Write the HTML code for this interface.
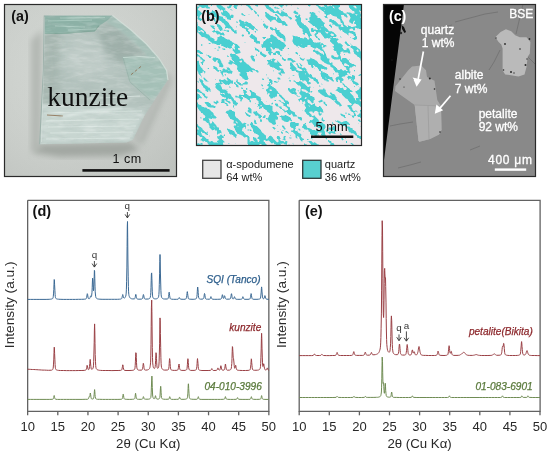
<!DOCTYPE html>
<html><head><meta charset="utf-8"><style>
html,body{margin:0;padding:0;background:#fff;}
body{width:550px;height:452px;overflow:hidden;position:relative;}
svg{position:absolute;left:0;top:0;}
text{font-family:"Liberation Sans",Arial,sans-serif;}
.serif{font-family:"Liberation Serif","Times New Roman",serif;}
</style></head><body>
<svg width="550" height="452" viewBox="0 0 550 452">
<defs>
<linearGradient id="abg" x1="0" y1="0" x2="1" y2="1">
<stop offset="0" stop-color="#d2d6d2"/><stop offset="0.5" stop-color="#d0d4d0"/><stop offset="1" stop-color="#c6cac6"/>
</linearGradient>
<linearGradient id="cry" x1="0" y1="0" x2="0" y2="1">
<stop offset="0" stop-color="#a9bdb6"/><stop offset="0.4" stop-color="#b2c3bd"/><stop offset="0.7" stop-color="#bccdc7"/><stop offset="1" stop-color="#c3d4ce"/>
</linearGradient>
<filter id="bl1" x="-20%" y="-20%" width="140%" height="140%"><feGaussianBlur stdDeviation="1"/></filter>
<filter id="bl2" x="-20%" y="-20%" width="140%" height="140%"><feGaussianBlur stdDeviation="2"/></filter>
<filter id="bl3" x="-20%" y="-20%" width="140%" height="140%"><feGaussianBlur stdDeviation="3"/></filter>
<filter id="bl4" x="-20%" y="-20%" width="140%" height="140%"><feGaussianBlur stdDeviation="6"/></filter>
<radialGradient id="abg2" cx="0.45" cy="0.4" r="0.75">
<stop offset="0" stop-color="#d4d8d4" stop-opacity="0"/><stop offset="1" stop-color="#b9bdb9" stop-opacity="0.6"/>
</radialGradient>
<filter id="noiseA" x="0" y="0" width="100%" height="100%">
<feTurbulence type="fractalNoise" baseFrequency="0.06 0.25" numOctaves="3" seed="5" result="n"/>
<feColorMatrix in="n" type="matrix" values="0 0 0 0 1  0 0 0 0 1  0 0 0 0 1  0 0 0 -2.2 1.25" result="w"/>
<feComposite in="w" in2="SourceGraphic" operator="in"/>
</filter>
<filter id="noiseB" x="0" y="0" width="100%" height="100%">
<feTurbulence type="fractalNoise" baseFrequency="0.05 0.2" numOctaves="3" seed="9" result="n"/>
<feColorMatrix in="n" type="matrix" values="0 0 0 0 0.35  0 0 0 0 0.45  0 0 0 0 0.42  0 0 0 -2.4 1.3" result="w"/>
<feComposite in="w" in2="SourceGraphic" operator="in"/>
</filter>
<clipPath id="cryclip"><polygon points="44.2,15.6 112.4,15.4 131,30 146.4,44 158.8,58 166.6,70.4 168,80 163.8,86 144.3,116 132.8,140 126.6,142.6 39.6,144.2 43.3,70"/></clipPath>
<clipPath id="ca"><rect x="4" y="4" width="173" height="173"/></clipPath>
<clipPath id="cb"><rect x="196" y="4" width="166" height="142"/></clipPath>
<clipPath id="cc"><rect x="383" y="4" width="153" height="173"/></clipPath>
</defs>

<!-- panel a -->
<rect x="4" y="4" width="173" height="173" fill="url(#abg)"/>
<g clip-path="url(#ca)">
<rect x="4" y="4" width="173" height="173" fill="url(#abg2)"/>
<polygon points="36,144 131,142 140,150 120,156 60,157 34,153" fill="#a2a7a2" filter="url(#bl3)"/>
<polygon points="31,40 42,30 41,150 31,152" fill="#b3b8b3" filter="url(#bl3)"/>
<polygon points="134,138 167,74 172,80 142,146" fill="#b0b5b0" filter="url(#bl3)"/>
<polygon points="134,136 166,72 170,76 140,142" fill="#b9bdb9" filter="url(#bl2)"/>
<polygon points="44.2,15.6 112.4,15.4 131,30 146.4,44 158.8,58 166.6,70.4 168,80 163.8,86 144.3,116 132.8,140 126.6,142.6 39.6,144.2 43.3,70" fill="#b4c3be"/>
<g clip-path="url(#cryclip)">
<polygon points="38,146 42,14 60,30 58,142" fill="#a7b7b1" filter="url(#bl3)"/>
<ellipse cx="88" cy="58" rx="24" ry="20" fill="#c0ccc8" filter="url(#bl4)"/>
<polygon points="97,32 112,22 146,55 130,66 108,58" fill="#9fb0aa" filter="url(#bl3)"/>
<polygon points="112.4,15.4 131,30 146.4,44 158.8,58 166.6,70.4 168,80 160,80 152,62 138,46 120,30 106,22" fill="#a6c0b8" filter="url(#bl1)"/>
<polygon points="40,104 146,110 132.8,140 126.6,142.6 39.6,144.2" fill="#c8d6d1" filter="url(#bl2)"/>
<polygon points="123,57.6 140,56.5 155,57.6 168,72 166,86 152,100 130,82" fill="#a5c1b8" filter="url(#bl1)"/>
<path d="M123,57.6 L130,82 L150,100" stroke="#8fada3" stroke-width="1" fill="none" opacity="0.6"/>
<path d="M123,57.6 L140,56.5 L155,57.6" stroke="#c8ddd6" stroke-width="1" fill="none" opacity="0.8"/>
<polygon points="44.2,15.6 112.4,15.4 108,20 99,26 94.4,31.2 62.6,33.9 44,34" fill="#8cb1a6"/>
<path d="M44,33.5 L62.6,33.4 L94.4,30.8 L99,25.6" stroke="#7fa598" stroke-width="1.2" fill="none"/>
<g stroke="#b0cfc5" stroke-width="1" fill="none" opacity="0.8">
<path d="M48,21 L92,20"/><path d="M55,26 L85,27"/><path d="M68,30 L96,29"/><path d="M60,18 L105,17.5"/>
</g>
<g stroke="#e0ebe7" stroke-width="0.9" fill="none" opacity="0.7">
<path d="M44,113 L142,111"/><path d="M46,121 L139,119"/><path d="M48,127 L136,126"/><path d="M50,133 L133,132"/><path d="M46,139 L130,138"/>
<path d="M60,106 L125,104"/><path d="M100,98 L140,96"/>
</g>
<rect x="38" y="14" width="132" height="132" fill="#fff" filter="url(#noiseA)" opacity="0.25"/>
<rect x="38" y="14" width="132" height="132" fill="#000" filter="url(#noiseB)" opacity="0.25"/>
</g>
<path d="M47,115 L63,116" stroke="#8a6a4a" stroke-width="0.8"/>
<path d="M62,117 L80,113 L100,110 L122,108" stroke="#e8f1ee" stroke-width="2.2" fill="none" opacity="0.7" filter="url(#bl1)"/>
<path d="M41.5,142 L44.5,17" stroke="#d4e0dc" stroke-width="1.2" fill="none" opacity="0.7"/>
<path d="M131,74.7 L141.4,66.1" stroke="#8a6a4a" stroke-width="0.8" stroke-dasharray="3 2"/>
<path d="M39.6,144.2 L43.3,70 L44.2,15.6" stroke="#9fb2ac" stroke-width="1" fill="none"/>
<path d="M112.4,15.4 L131,30 L146.4,44 L158.8,58 L166.6,70.4 L168,80" stroke="#d6e2dc" stroke-width="1.2" fill="none" opacity="0.8"/>
</g>
<rect x="4.5" y="4.5" width="172" height="172" fill="none" stroke="#2a2a2a" stroke-width="1.2"/>
<text x="11.2" y="20.8" font-size="14.3" font-weight="bold" fill="#111">(a)</text>
<text class="serif" x="47.3" y="106" font-size="27" fill="#111" textLength="80.8" lengthAdjust="spacingAndGlyphs">kunzite</text>
<text x="112.6" y="162.5" font-size="12.6" fill="#111" letter-spacing="0.45">1 cm</text>
<rect x="82.4" y="169.1" width="87.2" height="2.6" fill="#111"/>

<!-- panel b -->
<rect x="196" y="4" width="166" height="142" fill="#eee8eb"/>
<g clip-path="url(#cb)" fill="#4acfd1">
<path d="M196.5 4h4v0.5h-4zM203.5 4h5v0.5h-5zM215 4h5.5v0.5h-5.5zM228.5 4h3.5v0.5h-3.5zM232.5 4h3v0.5h-3zM244 4h5v0.5h-5zM253.5 4h3.5v0.5h-3.5zM263.5 4h10v0.5h-10zM275.5 4h0.5v0.5h-0.5zM277.5 4h8.5v0.5h-8.5zM306.5 4h6.5v0.5h-6.5zM313.5 4h2.5v0.5h-2.5zM322 4h2v0.5h-2zM332.5 4h7v0.5h-7zM348.5 4h13.5v0.5h-13.5zM197 4.5h11v0.5h-11zM215.5 4.5h5v0.5h-5zM229 4.5h3v0.5h-3zM233.5 4.5h3v0.5h-3zM241 4.5h0.5v0.5h-0.5zM245 4.5h4v0.5h-4zM254 4.5h3.5v0.5h-3.5zM264 4.5h10v0.5h-10zM275.5 4.5h0.5v0.5h-0.5zM278 4.5h8.5v0.5h-8.5zM291 4.5h0.5v0.5h-0.5zM307.5 4.5h3.5v0.5h-3.5zM314 4.5h3.5v0.5h-3.5zM322 4.5h2.5v0.5h-2.5zM332 4.5h7.5v0.5h-7.5zM348.5 4.5h13.5v0.5h-13.5zM198.5 5h9.5v0.5h-9.5zM211 5h1v0.5h-1zM216.5 5h4.5v0.5h-4.5zM229.5 5h2.5v0.5h-2.5zM234 5h3.5v0.5h-3.5zM241 5h1v0.5h-1zM246 5h3.5v0.5h-3.5zM255 5h3v0.5h-3zM264.5 5h4.5v0.5h-4.5zM272.5 5h1.5v0.5h-1.5zM278.5 5h5.5v0.5h-5.5zM285.5 5h1v0.5h-1zM291 5h1v0.5h-1zM308 5h2.5v0.5h-2.5zM316 5h2.5v0.5h-2.5zM324 5h3v0.5h-3zM332 5h8v0.5h-8zM348.5 5h13.5v0.5h-13.5zM199 5.5h9v0.5h-9zM211 5.5h1v0.5h-1zM216.5 5.5h5.5v0.5h-5.5zM229 5.5h3v0.5h-3zM234 5.5h4v0.5h-4zM246.5 5.5h3.5v0.5h-3.5zM255.5 5.5h2.5v0.5h-2.5zM265 5.5h3.5v0.5h-3.5zM279 5.5h4.5v0.5h-4.5zM286 5.5h1.5v0.5h-1.5zM308 5.5h2.5v0.5h-2.5zM316.5 5.5h2.5v0.5h-2.5zM324 5.5h3v0.5h-3zM329.5 5.5h1.5v0.5h-1.5zM332 5.5h8v0.5h-8zM349 5.5h5.5v0.5h-5.5zM355 5.5h7v0.5h-7zM199 6h9v0.5h-9zM216.5 6h6v0.5h-6zM229 6h2.5v0.5h-2.5zM233.5 6h4v0.5h-4zM247.5 6h3v0.5h-3zM256.5 6h1.5v0.5h-1.5zM265.5 6h3.5v0.5h-3.5zM280 6h2.5v0.5h-2.5zM286.5 6h0.5v0.5h-0.5zM309 6h1v0.5h-1zM317.5 6h2.5v0.5h-2.5zM324.5 6h3v0.5h-3zM328.5 6h11.5v0.5h-11.5zM349 6h4.5v0.5h-4.5zM356 6h6v0.5h-6zM196.5 6.5h3v0.5h-3zM200.5 6.5h8v0.5h-8zM217 6.5h6v0.5h-6zM227 6.5h4v0.5h-4zM233.5 6.5h3v0.5h-3zM248 6.5h3v0.5h-3zM265.5 6.5h4v0.5h-4zM275 6.5h0.5v0.5h-0.5zM280.5 6.5h2v0.5h-2zM318 6.5h3v0.5h-3zM322.5 6.5h1v0.5h-1zM324.5 6.5h8v0.5h-8zM334 6.5h6v0.5h-6zM349 6.5h4.5v0.5h-4.5zM356 6.5h6v0.5h-6zM196 7h3.5v0.5h-3.5zM201 7h8.5v0.5h-8.5zM217 7h6.5v0.5h-6.5zM227 7h4v0.5h-4zM234 7h2.5v0.5h-2.5zM248.5 7h2.5v0.5h-2.5zM266 7h4.5v0.5h-4.5zM274.5 7h1.5v0.5h-1.5zM281 7h1.5v0.5h-1.5zM318.5 7h6.5v0.5h-6.5zM326 7h7v0.5h-7zM334 7h5v0.5h-5zM349 7h5v0.5h-5zM356.5 7h5.5v0.5h-5.5zM196 7.5h3v0.5h-3zM202 7.5h2.5v0.5h-2.5zM206 7.5h4v0.5h-4zM218 7.5h6.5v0.5h-6.5zM227.5 7.5h3v0.5h-3zM234 7.5h3v0.5h-3zM249 7.5h2.5v0.5h-2.5zM266 7.5h5v0.5h-5zM274 7.5h4v0.5h-4zM297.5 7.5h0.5v0.5h-0.5zM318.5 7.5h14.5v0.5h-14.5zM334.5 7.5h4v0.5h-4zM349.5 7.5h5.5v0.5h-5.5zM356.5 7.5h5.5v0.5h-5.5zM196 8h2.5v0.5h-2.5zM206.5 8h3.5v0.5h-3.5zM218 8h7v0.5h-7zM228 8h1.5v0.5h-1.5zM235 8h2v0.5h-2zM249.5 8h2.5v0.5h-2.5zM266.5 8h5v0.5h-5zM274.5 8h4v0.5h-4zM297.5 8h1v0.5h-1zM319 8h15v0.5h-15zM334.5 8h4v0.5h-4zM350 8h5.5v0.5h-5.5zM356.5 8h5.5v0.5h-5.5zM196 8.5h2v0.5h-2zM219 8.5h6.5v0.5h-6.5zM235.5 8.5h1.5v0.5h-1.5zM250 8.5h2.5v0.5h-2.5zM267 8.5h5.5v0.5h-5.5zM277.5 8.5h2v0.5h-2zM297.5 8.5h1v0.5h-1zM319.5 8.5h19v0.5h-19zM350 8.5h12v0.5h-12zM196 9h2v0.5h-2zM219.5 9h6v0.5h-6zM250.5 9h2.5v0.5h-2.5zM268 9h5v0.5h-5zM283 9h0.5v0.5h-0.5zM320 9h19v0.5h-19zM351 9h11v0.5h-11zM196 9.5h2v0.5h-2zM220 9.5h1.5v0.5h-1.5zM222 9.5h3v0.5h-3zM230 9.5h2v0.5h-2zM251 9.5h2v0.5h-2zM269 9.5h4.5v0.5h-4.5zM283 9.5h1v0.5h-1zM321 9.5h18.5v0.5h-18.5zM351.5 9.5h10.5v0.5h-10.5zM196 10h2.5v0.5h-2.5zM212 10h0.5v0.5h-0.5zM220 10h1v0.5h-1zM222.5 10h1.5v0.5h-1.5zM231.5 10h0.5v0.5h-0.5zM251.5 10h0.5v0.5h-0.5zM269.5 10h4.5v0.5h-4.5zM281.5 10h0.5v0.5h-0.5zM321.5 10h3v0.5h-3zM325 10h15.5v0.5h-15.5zM352 10h10v0.5h-10zM196 10.5h3.5v0.5h-3.5zM206 10.5h1.5v0.5h-1.5zM212 10.5h1v0.5h-1zM223 10.5h3v0.5h-3zM232 10.5h0.5v0.5h-0.5zM253.5 10.5h1.5v0.5h-1.5zM270 10.5h4v0.5h-4zM277 10.5h1v0.5h-1zM281.5 10.5h1v0.5h-1zM294.5 10.5h1v0.5h-1zM322 10.5h2.5v0.5h-2.5zM325 10.5h16v0.5h-16zM352.5 10.5h6.5v0.5h-6.5zM360 10.5h2v0.5h-2zM196 11h4v0.5h-4zM206 11h2.5v0.5h-2.5zM212 11h2.5v0.5h-2.5zM223 11h4v0.5h-4zM254 11h1.5v0.5h-1.5zM270.5 11h4v0.5h-4zM276.5 11h2v0.5h-2zM281.5 11h1v0.5h-1zM294 11h2v0.5h-2zM323 11h19.5v0.5h-19.5zM354 11h5v0.5h-5zM361.5 11h0.5v0.5h-0.5zM196 11.5h4.5v0.5h-4.5zM206 11.5h3v0.5h-3zM211.5 11.5h3.5v0.5h-3.5zM223 11.5h4.5v0.5h-4.5zM254 11.5h2v0.5h-2zM271.5 11.5h4v0.5h-4zM276 11.5h3v0.5h-3zM281.5 11.5h2.5v0.5h-2.5zM293.5 11.5h3v0.5h-3zM318.5 11.5h1v0.5h-1zM323.5 11.5h19.5v0.5h-19.5zM354.5 11.5h5.5v0.5h-5.5zM196 12h5v0.5h-5zM206.5 12h3v0.5h-3zM211 12h4.5v0.5h-4.5zM221 12h0.5v0.5h-0.5zM223 12h5v0.5h-5zM254.5 12h2v0.5h-2zM265 12h1.5v0.5h-1.5zM272.5 12h6.5v0.5h-6.5zM281 12h3.5v0.5h-3.5zM293.5 12h4v0.5h-4zM310 12h1v0.5h-1zM312 12h1.5v0.5h-1.5zM319 12h0.5v0.5h-0.5zM324 12h19.5v0.5h-19.5zM347 12h0.5v0.5h-0.5zM354.5 12h5.5v0.5h-5.5zM196 12.5h5.5v0.5h-5.5zM207 12.5h9v0.5h-9zM221 12.5h7.5v0.5h-7.5zM255 12.5h2v0.5h-2zM265 12.5h2v0.5h-2zM273 12.5h6.5v0.5h-6.5zM281 12.5h4.5v0.5h-4.5zM293.5 12.5h4.5v0.5h-4.5zM309.5 12.5h5v0.5h-5zM324.5 12.5h19v0.5h-19zM346.5 12.5h4v0.5h-4zM354.5 12.5h6v0.5h-6zM196 13h6v0.5h-6zM208 13h8.5v0.5h-8.5zM221 13h8v0.5h-8zM241.5 13h1v0.5h-1zM255 13h2v0.5h-2zM265 13h2.5v0.5h-2.5zM277 13h3v0.5h-3zM280.5 13h6.5v0.5h-6.5zM294 13h4v0.5h-4zM309.5 13h5.5v0.5h-5.5zM324.5 13h20v0.5h-20zM346.5 13h5v0.5h-5zM354.5 13h6v0.5h-6zM196 13.5h6v0.5h-6zM209 13.5h8v0.5h-8zM221.5 13.5h8v0.5h-8zM241.5 13.5h1.5v0.5h-1.5zM255.5 13.5h1v0.5h-1zM265.5 13.5h3v0.5h-3zM278 13.5h9v0.5h-9zM295 13.5h3.5v0.5h-3.5zM310.5 13.5h5v0.5h-5zM324.5 13.5h22v0.5h-22zM347.5 13.5h5v0.5h-5zM353 13.5h7.5v0.5h-7.5zM196 14h5.5v0.5h-5.5zM210.5 14h7v0.5h-7zM221.5 14h8v0.5h-8zM241.5 14h2v0.5h-2zM248.5 14h1v0.5h-1zM265.5 14h3.5v0.5h-3.5zM275 14h1.5v0.5h-1.5zM279 14h8.5v0.5h-8.5zM296.5 14h2v0.5h-2zM311 14h4.5v0.5h-4.5zM325.5 14h4.5v0.5h-4.5zM331 14h15.5v0.5h-15.5zM348.5 14h7v0.5h-7zM356.5 14h4.5v0.5h-4.5zM196 14.5h5v0.5h-5zM211 14.5h7v0.5h-7zM222 14.5h8v0.5h-8zM231.5 14.5h1v0.5h-1zM241.5 14.5h2.5v0.5h-2.5zM257 14.5h1.5v0.5h-1.5zM265.5 14.5h4v0.5h-4zM275 14.5h2v0.5h-2zM279.5 14.5h8v0.5h-8zM299 14.5h1v0.5h-1zM310.5 14.5h5v0.5h-5zM326 14.5h2.5v0.5h-2.5zM331.5 14.5h15v0.5h-15zM349 14.5h6.5v0.5h-6.5zM357.5 14.5h4.5v0.5h-4.5zM196 15h4.5v0.5h-4.5zM212 15h6.5v0.5h-6.5zM222.5 15h7.5v0.5h-7.5zM231 15h2.5v0.5h-2.5zM242.5 15h3v0.5h-3zM257.5 15h1.5v0.5h-1.5zM265.5 15h4.5v0.5h-4.5zM275 15h2.5v0.5h-2.5zM280 15h8v0.5h-8zM295.5 15h1v0.5h-1zM298.5 15h2v0.5h-2zM310.5 15h5.5v0.5h-5.5zM326 15h1.5v0.5h-1.5zM332 15h9v0.5h-9zM344 15h3v0.5h-3zM349.5 15h6.5v0.5h-6.5zM357 15h5v0.5h-5zM196 15.5h4v0.5h-4zM207.5 15.5h1v0.5h-1zM212.5 15.5h6.5v0.5h-6.5zM223.5 15.5h10v0.5h-10zM244 15.5h1v0.5h-1zM257.5 15.5h1.5v0.5h-1.5zM265 15.5h6v0.5h-6zM276 15.5h2v0.5h-2zM280.5 15.5h7.5v0.5h-7.5zM295 15.5h2v0.5h-2zM298 15.5h2v0.5h-2zM310.5 15.5h6.5v0.5h-6.5zM326 15.5h1v0.5h-1zM333 15.5h8v0.5h-8zM344 15.5h3v0.5h-3zM349.5 15.5h12.5v0.5h-12.5zM197.5 16h2.5v0.5h-2.5zM207.5 16h1.5v0.5h-1.5zM213.5 16h7v0.5h-7zM225.5 16h8v0.5h-8zM258 16h1v0.5h-1zM265.5 16h7v0.5h-7zM277 16h1.5v0.5h-1.5zM281.5 16h2v0.5h-2zM285.5 16h3v0.5h-3zM295 16h5v0.5h-5zM310.5 16h7v0.5h-7zM324.5 16h2.5v0.5h-2.5zM334.5 16h6.5v0.5h-6.5zM344.5 16h3v0.5h-3zM350 16h11v0.5h-11zM361.5 16h0.5v0.5h-0.5zM198 16.5h1.5v0.5h-1.5zM208 16.5h1.5v0.5h-1.5zM214 16.5h8.5v0.5h-8.5zM225.5 16.5h8v0.5h-8zM265.5 16.5h8v0.5h-8zM277 16.5h2v0.5h-2zM288 16.5h1.5v0.5h-1.5zM295 16.5h5v0.5h-5zM310.5 16.5h7v0.5h-7zM324.5 16.5h2.5v0.5h-2.5zM336.5 16.5h5v0.5h-5zM345.5 16.5h2v0.5h-2zM350 16.5h10.5v0.5h-10.5zM361.5 16.5h0.5v0.5h-0.5zM198 17h1.5v0.5h-1.5zM208.5 17h1.5v0.5h-1.5zM215.5 17h7.5v0.5h-7.5zM225.5 17h8v0.5h-8zM266 17h9.5v0.5h-9.5zM277.5 17h1.5v0.5h-1.5zM288.5 17h2.5v0.5h-2.5zM295.5 17h5v0.5h-5zM309.5 17h8v0.5h-8zM325 17h2.5v0.5h-2.5zM337 17h4.5v0.5h-4.5zM346 17h1.5v0.5h-1.5zM350.5 17h10v0.5h-10zM361.5 17h0.5v0.5h-0.5zM197.5 17.5h2v0.5h-2zM208.5 17.5h1.5v0.5h-1.5zM216 17.5h7v0.5h-7zM227 17.5h6v0.5h-6zM266.5 17.5h9.5v0.5h-9.5zM277.5 17.5h2v0.5h-2zM288.5 17.5h3v0.5h-3zM296 17.5h4.5v0.5h-4.5zM309.5 17.5h8v0.5h-8zM325.5 17.5h2v0.5h-2zM337 17.5h4.5v0.5h-4.5zM350.5 17.5h10v0.5h-10zM361.5 17.5h0.5v0.5h-0.5zM196 18h0.5v0.5h-0.5zM197.5 18h3v0.5h-3zM209 18h1v0.5h-1zM214 18h1v0.5h-1zM216 18h7v0.5h-7zM227 18h4v0.5h-4zM267 18h9v0.5h-9zM277 18h3v0.5h-3zM289.5 18h2.5v0.5h-2.5zM296.5 18h4.5v0.5h-4.5zM309 18h11v0.5h-11zM327 18h0.5v0.5h-0.5zM337.5 18h4v0.5h-4zM350.5 18h11.5v0.5h-11.5zM196 18.5h1v0.5h-1zM197.5 18.5h4v0.5h-4zM213.5 18.5h1.5v0.5h-1.5zM216.5 18.5h7.5v0.5h-7.5zM227 18.5h4v0.5h-4zM267.5 18.5h8.5v0.5h-8.5zM277 18.5h3.5v0.5h-3.5zM289.5 18.5h2.5v0.5h-2.5zM296.5 18.5h4.5v0.5h-4.5zM305.5 18.5h2v0.5h-2zM309.5 18.5h11v0.5h-11zM338.5 18.5h3v0.5h-3zM350 18.5h12v0.5h-12zM196 19h1v0.5h-1zM198 19h4v0.5h-4zM213.5 19h1.5v0.5h-1.5zM217 19h8v0.5h-8zM227.5 19h3.5v0.5h-3.5zM268 19h8v0.5h-8zM277 19h4v0.5h-4zM290 19h1.5v0.5h-1.5zM296 19h5v0.5h-5zM305.5 19h2v0.5h-2zM309.5 19h11.5v0.5h-11.5zM329.5 19h2v0.5h-2zM339.5 19h2.5v0.5h-2.5zM350 19h12v0.5h-12zM196 19.5h1v0.5h-1zM198.5 19.5h3.5v0.5h-3.5zM213.5 19.5h2v0.5h-2zM218 19.5h7.5v0.5h-7.5zM229.5 19.5h1.5v0.5h-1.5zM239.5 19.5h1v0.5h-1zM261.5 19.5h0.5v0.5h-0.5zM268.5 19.5h5v0.5h-5zM274.5 19.5h6.5v0.5h-6.5zM295 19.5h6v0.5h-6zM306 19.5h1.5v0.5h-1.5zM309.5 19.5h12v0.5h-12zM329.5 19.5h2.5v0.5h-2.5zM340 19.5h2v0.5h-2zM349.5 19.5h12.5v0.5h-12.5zM196 20h0.5v0.5h-0.5zM199.5 20h2v0.5h-2zM214 20h1.5v0.5h-1.5zM218.5 20h7v0.5h-7zM239 20h2v0.5h-2zM269 20h3.5v0.5h-3.5zM275.5 20h6v0.5h-6zM295 20h6v0.5h-6zM309.5 20h12v0.5h-12zM329.5 20h4.5v0.5h-4.5zM340 20h2.5v0.5h-2.5zM349.5 20h12.5v0.5h-12.5zM196 20.5h0.5v0.5h-0.5zM200 20.5h1v0.5h-1zM214 20.5h1.5v0.5h-1.5zM220 20.5h6v0.5h-6zM239 20.5h3v0.5h-3zM270 20.5h1.5v0.5h-1.5zM276 20.5h6v0.5h-6zM295.5 20.5h5.5v0.5h-5.5zM309.5 20.5h12.5v0.5h-12.5zM329 20.5h5.5v0.5h-5.5zM340.5 20.5h2v0.5h-2zM349 20.5h5v0.5h-5zM354.5 20.5h7.5v0.5h-7.5zM196 21h1v0.5h-1zM214.5 21h1v0.5h-1zM221 21h6v0.5h-6zM239 21h4.5v0.5h-4.5zM263 21h0.5v0.5h-0.5zM270 21h1.5v0.5h-1.5zM276.5 21h8v0.5h-8zM296 21h5v0.5h-5zM308 21h14.5v0.5h-14.5zM329 21h6.5v0.5h-6.5zM340.5 21h2.5v0.5h-2.5zM349 21h4.5v0.5h-4.5zM355 21h7v0.5h-7zM196 21.5h1v0.5h-1zM215 21.5h1v0.5h-1zM221.5 21.5h6v0.5h-6zM236 21.5h1.5v0.5h-1.5zM239.5 21.5h4.5v0.5h-4.5zM245.5 21.5h1.5v0.5h-1.5zM263 21.5h0.5v0.5h-0.5zM270.5 21.5h0.5v0.5h-0.5zM277 21.5h8v0.5h-8zM296.5 21.5h4.5v0.5h-4.5zM308 21.5h15v0.5h-15zM329.5 21.5h6.5v0.5h-6.5zM340.5 21.5h3v0.5h-3zM349.5 21.5h4v0.5h-4zM355 21.5h6.5v0.5h-6.5zM196 22h1.5v0.5h-1.5zM215 22h1v0.5h-1zM222 22h6v0.5h-6zM236 22h2v0.5h-2zM239.5 22h8.5v0.5h-8.5zM277.5 22h8v0.5h-8zM296.5 22h5v0.5h-5zM309 22h14.5v0.5h-14.5zM331 22h5.5v0.5h-5.5zM340.5 22h3v0.5h-3zM349.5 22h3.5v0.5h-3.5zM354.5 22h7v0.5h-7zM196 22.5h1.5v0.5h-1.5zM204.5 22.5h1v0.5h-1zM222.5 22.5h6v0.5h-6zM237 22.5h0.5v0.5h-0.5zM240 22.5h4.5v0.5h-4.5zM245 22.5h3.5v0.5h-3.5zM278.5 22.5h7.5v0.5h-7.5zM297 22.5h5v0.5h-5zM309.5 22.5h15v0.5h-15zM332 22.5h5v0.5h-5zM341 22.5h3v0.5h-3zM350.5 22.5h2.5v0.5h-2.5zM354 22.5h7v0.5h-7zM196 23h1.5v0.5h-1.5zM204.5 23h1v0.5h-1zM223.5 23h5.5v0.5h-5.5zM240 23h4.5v0.5h-4.5zM245.5 23h5v0.5h-5zM281.5 23h4.5v0.5h-4.5zM297 23h5.5v0.5h-5.5zM310.5 23h14.5v0.5h-14.5zM332.5 23h5v0.5h-5zM342 23h2v0.5h-2zM351 23h2v0.5h-2zM354 23h7.5v0.5h-7.5zM196 23.5h1.5v0.5h-1.5zM204.5 23.5h1v0.5h-1zM224 23.5h5v0.5h-5zM240 23.5h11v0.5h-11zM263.5 23.5h1.5v0.5h-1.5zM282 23.5h4.5v0.5h-4.5zM297 23.5h6.5v0.5h-6.5zM310.5 23.5h14v0.5h-14zM332.5 23.5h5.5v0.5h-5.5zM342.5 23.5h1.5v0.5h-1.5zM352 23.5h0.5v0.5h-0.5zM354.5 23.5h7.5v0.5h-7.5zM196 24h2v0.5h-2zM216.5 24h2v0.5h-2zM224.5 24h5v0.5h-5zM239.5 24h12v0.5h-12zM263 24h2.5v0.5h-2.5zM282 24h5v0.5h-5zM297.5 24h6.5v0.5h-6.5zM311.5 24h12.5v0.5h-12.5zM332.5 24h6v0.5h-6zM342.5 24h1.5v0.5h-1.5zM356 24h6v0.5h-6zM196 24.5h1.5v0.5h-1.5zM216.5 24.5h3v0.5h-3zM224.5 24.5h5v0.5h-5zM239.5 24.5h12.5v0.5h-12.5zM263 24.5h2.5v0.5h-2.5zM282.5 24.5h5v0.5h-5zM297.5 24.5h6.5v0.5h-6.5zM312 24.5h12v0.5h-12zM329.5 24.5h1.5v0.5h-1.5zM332.5 24.5h0.5v0.5h-0.5zM334.5 24.5h7v0.5h-7zM342.5 24.5h2v0.5h-2zM356 24.5h6v0.5h-6zM196 25h1.5v0.5h-1.5zM217 25h3.5v0.5h-3.5zM225 25h5v0.5h-5zM239.5 25h13v0.5h-13zM263 25h3v0.5h-3zM282.5 25h1v0.5h-1zM285 25h2.5v0.5h-2.5zM298 25h7.5v0.5h-7.5zM312.5 25h11.5v0.5h-11.5zM329 25h2v0.5h-2zM335 25h6v0.5h-6zM343 25h2v0.5h-2zM356.5 25h5.5v0.5h-5.5zM197 25.5h1v0.5h-1zM210 25.5h3.5v0.5h-3.5zM217 25.5h3.5v0.5h-3.5zM225.5 25.5h5v0.5h-5zM240 25.5h13v0.5h-13zM263.5 25.5h4v0.5h-4zM285.5 25.5h2v0.5h-2zM298.5 25.5h7.5v0.5h-7.5zM313 25.5h11v0.5h-11zM329 25.5h2.5v0.5h-2.5zM335.5 25.5h5.5v0.5h-5.5zM343 25.5h3v0.5h-3zM347.5 25.5h1.5v0.5h-1.5zM356 25.5h6v0.5h-6zM197.5 26h1.5v0.5h-1.5zM210.5 26h4v0.5h-4zM217 26h4v0.5h-4zM225.5 26h5.5v0.5h-5.5zM240.5 26h4.5v0.5h-4.5zM246.5 26h7.5v0.5h-7.5zM264 26h4v0.5h-4zM299 26h7.5v0.5h-7.5zM315 26h9.5v0.5h-9.5zM330 26h2v0.5h-2zM336.5 26h4v0.5h-4zM343.5 26h3v0.5h-3zM348 26h2.5v0.5h-2.5zM355.5 26h6.5v0.5h-6.5zM197 26.5h3v0.5h-3zM211 26.5h3.5v0.5h-3.5zM217.5 26.5h4v0.5h-4zM225.5 26.5h6v0.5h-6zM236 26.5h1v0.5h-1zM241.5 26.5h3.5v0.5h-3.5zM247.5 26.5h7v0.5h-7zM264 26.5h4.5v0.5h-4.5zM299 26.5h8v0.5h-8zM315 26.5h6.5v0.5h-6.5zM322.5 26.5h2v0.5h-2zM330.5 26.5h1.5v0.5h-1.5zM338.5 26.5h3v0.5h-3zM343.5 26.5h3.5v0.5h-3.5zM348 26.5h3v0.5h-3zM353.5 26.5h8.5v0.5h-8.5zM197 27h3.5v0.5h-3.5zM211.5 27h2.5v0.5h-2.5zM218 27h4v0.5h-4zM225 27h7v0.5h-7zM236.5 27h0.5v0.5h-0.5zM242 27h3v0.5h-3zM249 27h6v0.5h-6zM264 27h4v0.5h-4zM270 27h1.5v0.5h-1.5zM275.5 27h0.5v0.5h-0.5zM299.5 27h8v0.5h-8zM315.5 27h9.5v0.5h-9.5zM331 27h1v0.5h-1zM338.5 27h23.5v0.5h-23.5zM197 27.5h4v0.5h-4zM212 27.5h2.5v0.5h-2.5zM218.5 27.5h3.5v0.5h-3.5zM225 27.5h7.5v0.5h-7.5zM242 27.5h5v0.5h-5zM249 27.5h6v0.5h-6zM265.5 27.5h2.5v0.5h-2.5zM270 27.5h2.5v0.5h-2.5zM275.5 27.5h0.5v0.5h-0.5zM300 27.5h8v0.5h-8zM316.5 27.5h9.5v0.5h-9.5zM331.5 27.5h0.5v0.5h-0.5zM338.5 27.5h17v0.5h-17zM356 27.5h6v0.5h-6zM197 28h5v0.5h-5zM212.5 28h2.5v0.5h-2.5zM218.5 28h4v0.5h-4zM225 28h1v0.5h-1zM228 28h4.5v0.5h-4.5zM243.5 28h4v0.5h-4zM249 28h6.5v0.5h-6.5zM266 28h1.5v0.5h-1.5zM270 28h3v0.5h-3zM275.5 28h1v0.5h-1zM301 28h7.5v0.5h-7.5zM311.5 28h1.5v0.5h-1.5zM317 28h9.5v0.5h-9.5zM338.5 28h16.5v0.5h-16.5zM357 28h5v0.5h-5zM196.5 28.5h6v0.5h-6zM213 28.5h2v0.5h-2zM218.5 28.5h4v0.5h-4zM230.5 28.5h2.5v0.5h-2.5zM244.5 28.5h4.5v0.5h-4.5zM250.5 28.5h3.5v0.5h-3.5zM255 28.5h1v0.5h-1zM266 28.5h1v0.5h-1zM270 28.5h3.5v0.5h-3.5zM275 28.5h2v0.5h-2zM302 28.5h6.5v0.5h-6.5zM311 28.5h2.5v0.5h-2.5zM317 28.5h3v0.5h-3zM320.5 28.5h6.5v0.5h-6.5zM339 28.5h11.5v0.5h-11.5zM352.5 28.5h2.5v0.5h-2.5zM359 28.5h3v0.5h-3zM196.5 29h6.5v0.5h-6.5zM214 29h1v0.5h-1zM219 29h3.5v0.5h-3.5zM231 29h2.5v0.5h-2.5zM245.5 29h3v0.5h-3zM251 29h3v0.5h-3zM255.5 29h1.5v0.5h-1.5zM270.5 29h6v0.5h-6zM302.5 29h6.5v0.5h-6.5zM311 29h2.5v0.5h-2.5zM317.5 29h2v0.5h-2zM321 29h6.5v0.5h-6.5zM339.5 29h10v0.5h-10zM353 29h2v0.5h-2zM361.5 29h0.5v0.5h-0.5zM196 29.5h7.5v0.5h-7.5zM219.5 29.5h3v0.5h-3zM224.5 29.5h0.5v0.5h-0.5zM231 29.5h3v0.5h-3zM246 29.5h2.5v0.5h-2.5zM252 29.5h2v0.5h-2zM256 29.5h1.5v0.5h-1.5zM271 29.5h6v0.5h-6zM302.5 29.5h6.5v0.5h-6.5zM311 29.5h2.5v0.5h-2.5zM314 29.5h2v0.5h-2zM318 29.5h10v0.5h-10zM339.5 29.5h10v0.5h-10zM353 29.5h2v0.5h-2zM196 30h4.5v0.5h-4.5zM202 30h2v0.5h-2zM214 30h1v0.5h-1zM220 30h2.5v0.5h-2.5zM224 30h2v0.5h-2zM227.5 30h1v0.5h-1zM231.5 30h2.5v0.5h-2.5zM235.5 30h1v0.5h-1zM246 30h2v0.5h-2zM253 30h0.5v0.5h-0.5zM256.5 30h1.5v0.5h-1.5zM272 30h1v0.5h-1zM274.5 30h5v0.5h-5zM302.5 30h6.5v0.5h-6.5zM311 30h17.5v0.5h-17.5zM340 30h1v0.5h-1zM342 30h7.5v0.5h-7.5zM353.5 30h1v0.5h-1zM196 30.5h2v0.5h-2zM199 30.5h1.5v0.5h-1.5zM203 30.5h1.5v0.5h-1.5zM213 30.5h2v0.5h-2zM216.5 30.5h1v0.5h-1zM220 30.5h1v0.5h-1zM223.5 30.5h1v0.5h-1zM225.5 30.5h3.5v0.5h-3.5zM232 30.5h4.5v0.5h-4.5zM246 30.5h2v0.5h-2zM275 30.5h4.5v0.5h-4.5zM302.5 30.5h7v0.5h-7zM311 30.5h17.5v0.5h-17.5zM342.5 30.5h7v0.5h-7zM196 31h2v0.5h-2zM200.5 31h0.5v0.5h-0.5zM203.5 31h1.5v0.5h-1.5zM212 31h6.5v0.5h-6.5zM226.5 31h2.5v0.5h-2.5zM232.5 31h4v0.5h-4zM246.5 31h2.5v0.5h-2.5zM254.5 31h1.5v0.5h-1.5zM275 31h4.5v0.5h-4.5zM302.5 31h7v0.5h-7zM311 31h3v0.5h-3zM315.5 31h14v0.5h-14zM330.5 31h1v0.5h-1zM342.5 31h10.5v0.5h-10.5zM196 31.5h2.5v0.5h-2.5zM200.5 31.5h1.5v0.5h-1.5zM204 31.5h1.5v0.5h-1.5zM212.5 31.5h7v0.5h-7zM227.5 31.5h1.5v0.5h-1.5zM233 31.5h3.5v0.5h-3.5zM247 31.5h2.5v0.5h-2.5zM255 31.5h1v0.5h-1zM275.5 31.5h4v0.5h-4zM303 31.5h7v0.5h-7zM311.5 31.5h2.5v0.5h-2.5zM316 31.5h9v0.5h-9zM326 31.5h6.5v0.5h-6.5zM343 31.5h11v0.5h-11zM196.5 32h6v0.5h-6zM204 32h2v0.5h-2zM213 32h1.5v0.5h-1.5zM215.5 32h4.5v0.5h-4.5zM234 32h2.5v0.5h-2.5zM248 32h2v0.5h-2zM255 32h1v0.5h-1zM275.5 32h5v0.5h-5zM303.5 32h6.5v0.5h-6.5zM316.5 32h2v0.5h-2zM319 32h6.5v0.5h-6.5zM328 32h5.5v0.5h-5.5zM344 32h11v0.5h-11zM198.5 32.5h4.5v0.5h-4.5zM203.5 32.5h2.5v0.5h-2.5zM216 32.5h5v0.5h-5zM222 32.5h1.5v0.5h-1.5zM234 32.5h3v0.5h-3zM248 32.5h2v0.5h-2zM275.5 32.5h5v0.5h-5zM303 32.5h7v0.5h-7zM316 32.5h2.5v0.5h-2.5zM320.5 32.5h5.5v0.5h-5.5zM328.5 32.5h5.5v0.5h-5.5zM344.5 32.5h4.5v0.5h-4.5zM349.5 32.5h6v0.5h-6zM198.5 33h7.5v0.5h-7.5zM216.5 33h7.5v0.5h-7.5zM234.5 33h2.5v0.5h-2.5zM248 33h2v0.5h-2zM276 33h5v0.5h-5zM302.5 33h2.5v0.5h-2.5zM306.5 33h4v0.5h-4zM315.5 33h2.5v0.5h-2.5zM321 33h5.5v0.5h-5.5zM328 33h6.5v0.5h-6.5zM345.5 33h3v0.5h-3zM350.5 33h5v0.5h-5zM199 33.5h7.5v0.5h-7.5zM216.5 33.5h7.5v0.5h-7.5zM248 33.5h2v0.5h-2zM276 33.5h6v0.5h-6zM303 33.5h2v0.5h-2zM307 33.5h3.5v0.5h-3.5zM315 33.5h3v0.5h-3zM321 33.5h10v0.5h-10zM332.5 33.5h2.5v0.5h-2.5zM346.5 33.5h2v0.5h-2zM352 33.5h3.5v0.5h-3.5zM199.5 34h8v0.5h-8zM217 34h1.5v0.5h-1.5zM219.5 34h5v0.5h-5zM248.5 34h1v0.5h-1zM251 34h1.5v0.5h-1.5zM276.5 34h6.5v0.5h-6.5zM303.5 34h1.5v0.5h-1.5zM307.5 34h3.5v0.5h-3.5zM314.5 34h2.5v0.5h-2.5zM321.5 34h9v0.5h-9zM333.5 34h2v0.5h-2zM347 34h1.5v0.5h-1.5zM353 34h3v0.5h-3zM200 34.5h9v0.5h-9zM220 34.5h4.5v0.5h-4.5zM242 34.5h1.5v0.5h-1.5zM251 34.5h2v0.5h-2zM271 34.5h1.5v0.5h-1.5zM277 34.5h6.5v0.5h-6.5zM304.5 34.5h0.5v0.5h-0.5zM307.5 34.5h4v0.5h-4zM314.5 34.5h2v0.5h-2zM322 34.5h8.5v0.5h-8.5zM334 34.5h2v0.5h-2zM347.5 34.5h1v0.5h-1zM353.5 34.5h2.5v0.5h-2.5zM200.5 35h9v0.5h-9zM220.5 35h0.5v0.5h-0.5zM223 35h1.5v0.5h-1.5zM241.5 35h2.5v0.5h-2.5zM250.5 35h3v0.5h-3zM270.5 35h2.5v0.5h-2.5zM277 35h7v0.5h-7zM308 35h4v0.5h-4zM314.5 35h1.5v0.5h-1.5zM322.5 35h8.5v0.5h-8.5zM334 35h2.5v0.5h-2.5zM348 35h0.5v0.5h-0.5zM353.5 35h2.5v0.5h-2.5zM201 35.5h8.5v0.5h-8.5zM220.5 35.5h1v0.5h-1zM242 35.5h2v0.5h-2zM250 35.5h4.5v0.5h-4.5zM270 35.5h4v0.5h-4zM277.5 35.5h7v0.5h-7zM292.5 35.5h1v0.5h-1zM308 35.5h3.5v0.5h-3.5zM315 35.5h1.5v0.5h-1.5zM322.5 35.5h9v0.5h-9zM333.5 35.5h3v0.5h-3zM354 35.5h2v0.5h-2zM201 36h9v0.5h-9zM220 36h2v0.5h-2zM242 36h1.5v0.5h-1.5zM249.5 36h5.5v0.5h-5.5zM270 36h4.5v0.5h-4.5zM278 36h7v0.5h-7zM292.5 36h2.5v0.5h-2.5zM295.5 36h1v0.5h-1zM308.5 36h1.5v0.5h-1.5zM315 36h2v0.5h-2zM323 36h13.5v0.5h-13.5zM355 36h1.5v0.5h-1.5zM202 36.5h8.5v0.5h-8.5zM219 36.5h3.5v0.5h-3.5zM249.5 36.5h6v0.5h-6zM270.5 36.5h5v0.5h-5zM279 36.5h6v0.5h-6zM293 36.5h5v0.5h-5zM308.5 36.5h1.5v0.5h-1.5zM315.5 36.5h2v0.5h-2zM323.5 36.5h12.5v0.5h-12.5zM340 36.5h1v0.5h-1zM355 36.5h2v0.5h-2zM204.5 37h6v0.5h-6zM217.5 37h6.5v0.5h-6.5zM250 37h6v0.5h-6zM262.5 37h3.5v0.5h-3.5zM270.5 37h6v0.5h-6zM279.5 37h5.5v0.5h-5.5zM293 37h7v0.5h-7zM308.5 37h1.5v0.5h-1.5zM316 37h1.5v0.5h-1.5zM324 37h6.5v0.5h-6.5zM331.5 37h1.5v0.5h-1.5zM340.5 37h1v0.5h-1zM350.5 37h0.5v0.5h-0.5zM354.5 37h2.5v0.5h-2.5zM205.5 37.5h6.5v0.5h-6.5zM217.5 37.5h7v0.5h-7zM250.5 37.5h6.5v0.5h-6.5zM262.5 37.5h3.5v0.5h-3.5zM270 37.5h6.5v0.5h-6.5zM280 37.5h5.5v0.5h-5.5zM293 37.5h7v0.5h-7zM304 37.5h2v0.5h-2zM309.5 37.5h0.5v0.5h-0.5zM316 37.5h2v0.5h-2zM324 37.5h6.5v0.5h-6.5zM331.5 37.5h1.5v0.5h-1.5zM350.5 37.5h0.5v0.5h-0.5zM354 37.5h3v0.5h-3zM206 38h7v0.5h-7zM217.5 38h7.5v0.5h-7.5zM251 38h6v0.5h-6zM263 38h2v0.5h-2zM269 38h8v0.5h-8zM282 38h3.5v0.5h-3.5zM293 38h9.5v0.5h-9.5zM304 38h3v0.5h-3zM309.5 38h1.5v0.5h-1.5zM317.5 38h1.5v0.5h-1.5zM324.5 38h2v0.5h-2zM328 38h1.5v0.5h-1.5zM330 38h6v0.5h-6zM352.5 38h4.5v0.5h-4.5zM207.5 38.5h6.5v0.5h-6.5zM217.5 38.5h8.5v0.5h-8.5zM252 38.5h5v0.5h-5zM263.5 38.5h1.5v0.5h-1.5zM267 38.5h10.5v0.5h-10.5zM283 38.5h2.5v0.5h-2.5zM293 38.5h14v0.5h-14zM309 38.5h2.5v0.5h-2.5zM318 38.5h1.5v0.5h-1.5zM330.5 38.5h7.5v0.5h-7.5zM352.5 38.5h4.5v0.5h-4.5zM207.5 39h7v0.5h-7zM217.5 39h9.5v0.5h-9.5zM253 39h4v0.5h-4zM266.5 39h11.5v0.5h-11.5zM283.5 39h2v0.5h-2zM293 39h14.5v0.5h-14.5zM309 39h3v0.5h-3zM318 39h2v0.5h-2zM330.5 39h8v0.5h-8zM353.5 39h3v0.5h-3zM208 39.5h6.5v0.5h-6.5zM217 39.5h12.5v0.5h-12.5zM254 39.5h3v0.5h-3zM266 39.5h12.5v0.5h-12.5zM283.5 39.5h2v0.5h-2zM292.5 39.5h19.5v0.5h-19.5zM318.5 39.5h1.5v0.5h-1.5zM330.5 39.5h8v0.5h-8zM354 39.5h1v0.5h-1zM355.5 39.5h0.5v0.5h-0.5zM208 40h6.5v0.5h-6.5zM217 40h13v0.5h-13zM254 40h3v0.5h-3zM265.5 40h14.5v0.5h-14.5zM283.5 40h2v0.5h-2zM292.5 40h20v0.5h-20zM319.5 40h0.5v0.5h-0.5zM330 40h8v0.5h-8zM209 40.5h5.5v0.5h-5.5zM216.5 40.5h14v0.5h-14zM254 40.5h3.5v0.5h-3.5zM265 40.5h15.5v0.5h-15.5zM284 40.5h1.5v0.5h-1.5zM292.5 40.5h20.5v0.5h-20.5zM330 40.5h7v0.5h-7zM210 41h21.5v0.5h-21.5zM254 41h5.5v0.5h-5.5zM264 41h17v0.5h-17zM284.5 41h1v0.5h-1zM292.5 41h20.5v0.5h-20.5zM330 41h7v0.5h-7zM210.5 41.5h21.5v0.5h-21.5zM254 41.5h6v0.5h-6zM263.5 41.5h18.5v0.5h-18.5zM292.5 41.5h20.5v0.5h-20.5zM330.5 41.5h6.5v0.5h-6.5zM345 41.5h1.5v0.5h-1.5zM211 42h21.5v0.5h-21.5zM255 42h5v0.5h-5zM263.5 42h7v0.5h-7zM271.5 42h11.5v0.5h-11.5zM293 42h21v0.5h-21zM319.5 42h1v0.5h-1zM331 42h6.5v0.5h-6.5zM344.5 42h2.5v0.5h-2.5zM212 42.5h21.5v0.5h-21.5zM244.5 42.5h1v0.5h-1zM256 42.5h4v0.5h-4zM263 42.5h7.5v0.5h-7.5zM272 42.5h12.5v0.5h-12.5zM293 42.5h23.5v0.5h-23.5zM317 42.5h3.5v0.5h-3.5zM331.5 42.5h6.5v0.5h-6.5zM345 42.5h2v0.5h-2zM208.5 43h2v0.5h-2zM212 43h22v0.5h-22zM256 43h4v0.5h-4zM263 43h8v0.5h-8zM272 43h12.5v0.5h-12.5zM293.5 43h27v0.5h-27zM321.5 43h1v0.5h-1zM332 43h6.5v0.5h-6.5zM339.5 43h1v0.5h-1zM345 43h2.5v0.5h-2.5zM209 43.5h1.5v0.5h-1.5zM214.5 43.5h21v0.5h-21zM259 43.5h0.5v0.5h-0.5zM263 43.5h21.5v0.5h-21.5zM293.5 43.5h26.5v0.5h-26.5zM320.5 43.5h2.5v0.5h-2.5zM332.5 43.5h8v0.5h-8zM345.5 43.5h2.5v0.5h-2.5zM350.5 43.5h0.5v0.5h-0.5zM201.5 44h0.5v0.5h-0.5zM216 44h4v0.5h-4zM220.5 44h12.5v0.5h-12.5zM234 44h3v0.5h-3zM262.5 44h22.5v0.5h-22.5zM294 44h26v0.5h-26zM320.5 44h3v0.5h-3zM333.5 44h8v0.5h-8zM346 44h2.5v0.5h-2.5zM350.5 44h1v0.5h-1zM201 44.5h1.5v0.5h-1.5zM217 44.5h3v0.5h-3zM221.5 44.5h11.5v0.5h-11.5zM234.5 44.5h3v0.5h-3zM261 44.5h24.5v0.5h-24.5zM294.5 44.5h6.5v0.5h-6.5zM301.5 44.5h22.5v0.5h-22.5zM333.5 44.5h8.5v0.5h-8.5zM346.5 44.5h2.5v0.5h-2.5zM201 45h1.5v0.5h-1.5zM221.5 45h11.5v0.5h-11.5zM235 45h3v0.5h-3zM261.5 45h24.5v0.5h-24.5zM295.5 45h12v0.5h-12zM310.5 45h11.5v0.5h-11.5zM323.5 45h2.5v0.5h-2.5zM334 45h8.5v0.5h-8.5zM347 45h3v0.5h-3zM201.5 45.5h0.5v0.5h-0.5zM221 45.5h11v0.5h-11zM235 45.5h3.5v0.5h-3.5zM261.5 45.5h24.5v0.5h-24.5zM296 45.5h2.5v0.5h-2.5zM299 45.5h8.5v0.5h-8.5zM310.5 45.5h11v0.5h-11zM323 45.5h3.5v0.5h-3.5zM334 45.5h9v0.5h-9zM347.5 45.5h2.5v0.5h-2.5zM351 45.5h2v0.5h-2zM223 46h8.5v0.5h-8.5zM235 46h4v0.5h-4zM261.5 46h24.5v0.5h-24.5zM296.5 46h1.5v0.5h-1.5zM299.5 46h8v0.5h-8zM310.5 46h11v0.5h-11zM323 46h3.5v0.5h-3.5zM332.5 46h10.5v0.5h-10.5zM350.5 46h5v0.5h-5zM218 46.5h2v0.5h-2zM224 46.5h8v0.5h-8zM234.5 46.5h5v0.5h-5zM261.5 46.5h23.5v0.5h-23.5zM300 46.5h7v0.5h-7zM311 46.5h11v0.5h-11zM323 46.5h2v0.5h-2zM333.5 46.5h8.5v0.5h-8.5zM350.5 46.5h6v0.5h-6zM218.5 47h2v0.5h-2zM225 47h7v0.5h-7zM234.5 47h5.5v0.5h-5.5zM262 47h8.5v0.5h-8.5zM271.5 47h13v0.5h-13zM298.5 47h0.5v0.5h-0.5zM301 47h4v0.5h-4zM312 47h10.5v0.5h-10.5zM323 47h1.5v0.5h-1.5zM333.5 47h8.5v0.5h-8.5zM350.5 47h6.5v0.5h-6.5zM218.5 47.5h1.5v0.5h-1.5zM226 47.5h1v0.5h-1zM228 47.5h4v0.5h-4zM234.5 47.5h5v0.5h-5zM254.5 47.5h1v0.5h-1zM262 47.5h1v0.5h-1zM265.5 47.5h5v0.5h-5zM272 47.5h12.5v0.5h-12.5zM298.5 47.5h0.5v0.5h-0.5zM302.5 47.5h2v0.5h-2zM313 47.5h3.5v0.5h-3.5zM317 47.5h5.5v0.5h-5.5zM333.5 47.5h9v0.5h-9zM351 47.5h6.5v0.5h-6.5zM215 48h0.5v0.5h-0.5zM218.5 48h1v0.5h-1zM229 48h2v0.5h-2zM232.5 48h0.5v0.5h-0.5zM235 48h3v0.5h-3zM255 48h1v0.5h-1zM266 48h4.5v0.5h-4.5zM272.5 48h2.5v0.5h-2.5zM276.5 48h7.5v0.5h-7.5zM287.5 48h1.5v0.5h-1.5zM314 48h2v0.5h-2zM318 48h4.5v0.5h-4.5zM334 48h9v0.5h-9zM347 48h0.5v0.5h-0.5zM352 48h6v0.5h-6zM214.5 48.5h1v0.5h-1zM222 48.5h3v0.5h-3zM232.5 48.5h1v0.5h-1zM235 48.5h3v0.5h-3zM255 48.5h2v0.5h-2zM266 48.5h5v0.5h-5zM272.5 48.5h2.5v0.5h-2.5zM278.5 48.5h5.5v0.5h-5.5zM288 48.5h1v0.5h-1zM318.5 48.5h3.5v0.5h-3.5zM334 48.5h9v0.5h-9zM346.5 48.5h2.5v0.5h-2.5zM352.5 48.5h6.5v0.5h-6.5zM222.5 49h3v0.5h-3zM233 49h1v0.5h-1zM235 49h3v0.5h-3zM255 49h3v0.5h-3zM266 49h5.5v0.5h-5.5zM273 49h1.5v0.5h-1.5zM279 49h3.5v0.5h-3.5zM319.5 49h3v0.5h-3zM333.5 49h10v0.5h-10zM346.5 49h2.5v0.5h-2.5zM353 49h6.5v0.5h-6.5zM196 49.5h0.5v0.5h-0.5zM217.5 49.5h1v0.5h-1zM223.5 49.5h1.5v0.5h-1.5zM232.5 49.5h6v0.5h-6zM255 49.5h3.5v0.5h-3.5zM266 49.5h5.5v0.5h-5.5zM279.5 49.5h3v0.5h-3zM314 49.5h1v0.5h-1zM320 49.5h3.5v0.5h-3.5zM333.5 49.5h10.5v0.5h-10.5zM346.5 49.5h3v0.5h-3zM353.5 49.5h3.5v0.5h-3.5zM358 49.5h2v0.5h-2zM196 50h3v0.5h-3zM217 50h1.5v0.5h-1.5zM232.5 50h7v0.5h-7zM255.5 50h3.5v0.5h-3.5zM266 50h5.5v0.5h-5.5zM280 50h2.5v0.5h-2.5zM313 50h2.5v0.5h-2.5zM320.5 50h3v0.5h-3zM334 50h15.5v0.5h-15.5zM353.5 50h3v0.5h-3zM358.5 50h1.5v0.5h-1.5zM196 50.5h4v0.5h-4zM218 50.5h0.5v0.5h-0.5zM233 50.5h7v0.5h-7zM257 50.5h2.5v0.5h-2.5zM266 50.5h5.5v0.5h-5.5zM281 50.5h1.5v0.5h-1.5zM313 50.5h2.5v0.5h-2.5zM316.5 50.5h1v0.5h-1zM321.5 50.5h2.5v0.5h-2.5zM334.5 50.5h15.5v0.5h-15.5zM353.5 50.5h3v0.5h-3zM358.5 50.5h2v0.5h-2zM196 51h4.5v0.5h-4.5zM233.5 51h6.5v0.5h-6.5zM258 51h1.5v0.5h-1.5zM267 51h0.5v0.5h-0.5zM268.5 51h3v0.5h-3zM276 51h3v0.5h-3zM313 51h5v0.5h-5zM323 51h1.5v0.5h-1.5zM336 51h14v0.5h-14zM353.5 51h3.5v0.5h-3.5zM358.5 51h2v0.5h-2zM196.5 51.5h4.5v0.5h-4.5zM234 51.5h6.5v0.5h-6.5zM258 51.5h1.5v0.5h-1.5zM260.5 51.5h1v0.5h-1zM268.5 51.5h3v0.5h-3zM275.5 51.5h4.5v0.5h-4.5zM313.5 51.5h5.5v0.5h-5.5zM323 51.5h1.5v0.5h-1.5zM336.5 51.5h5v0.5h-5zM343.5 51.5h6.5v0.5h-6.5zM353.5 51.5h4v0.5h-4zM358.5 51.5h2.5v0.5h-2.5zM197 52h5v0.5h-5zM234.5 52h6v0.5h-6zM260 52h2v0.5h-2zM268 52h4.5v0.5h-4.5zM275.5 52h4.5v0.5h-4.5zM295.5 52h1.5v0.5h-1.5zM315 52h4.5v0.5h-4.5zM323.5 52h1.5v0.5h-1.5zM336.5 52h4v0.5h-4zM343.5 52h6.5v0.5h-6.5zM354 52h7v0.5h-7zM198.5 52.5h4v0.5h-4zM234.5 52.5h6v0.5h-6zM260 52.5h2v0.5h-2zM268 52.5h5v0.5h-5zM274.5 52.5h5.5v0.5h-5.5zM295.5 52.5h2v0.5h-2zM315.5 52.5h4.5v0.5h-4.5zM324 52.5h1v0.5h-1zM336.5 52.5h4v0.5h-4zM343 52.5h0.5v0.5h-0.5zM348 52.5h2.5v0.5h-2.5zM354 52.5h7v0.5h-7zM196 53h0.5v0.5h-0.5zM199.5 53h3.5v0.5h-3.5zM235 53h4.5v0.5h-4.5zM260 53h2.5v0.5h-2.5zM268.5 53h3v0.5h-3zM273 53h3v0.5h-3zM277 53h3v0.5h-3zM295.5 53h2.5v0.5h-2.5zM316 53h5v0.5h-5zM324 53h1.5v0.5h-1.5zM337 53h3.5v0.5h-3.5zM348.5 53h2v0.5h-2zM354 53h7v0.5h-7zM196 53.5h1v0.5h-1zM200 53.5h3v0.5h-3zM230.5 53.5h1.5v0.5h-1.5zM235.5 53.5h2v0.5h-2zM260 53.5h3.5v0.5h-3.5zM268.5 53.5h2.5v0.5h-2.5zM273 53.5h3v0.5h-3zM277.5 53.5h2.5v0.5h-2.5zM296 53.5h2v0.5h-2zM316.5 53.5h6v0.5h-6zM324 53.5h1.5v0.5h-1.5zM337 53.5h3.5v0.5h-3.5zM354.5 53.5h7v0.5h-7zM196 54h2v0.5h-2zM230 54h5.5v0.5h-5.5zM260.5 54h4v0.5h-4zM269 54h2v0.5h-2zM273 54h3v0.5h-3zM278 54h2v0.5h-2zM288 54h0.5v0.5h-0.5zM297 54h1v0.5h-1zM317 54h6v0.5h-6zM324 54h2v0.5h-2zM337 54h3v0.5h-3zM344 54h1v0.5h-1zM355 54h6.5v0.5h-6.5zM196 54.5h2.5v0.5h-2.5zM206.5 54.5h0.5v0.5h-0.5zM230 54.5h6v0.5h-6zM256 54.5h1v0.5h-1zM260.5 54.5h5v0.5h-5zM269.5 54.5h1.5v0.5h-1.5zM273.5 54.5h2.5v0.5h-2.5zM278.5 54.5h2v0.5h-2zM319.5 54.5h4v0.5h-4zM324 54.5h2v0.5h-2zM338 54.5h2v0.5h-2zM344.5 54.5h0.5v0.5h-0.5zM356 54.5h6v0.5h-6zM196 55h3.5v0.5h-3.5zM206.5 55h2.5v0.5h-2.5zM230 55h6.5v0.5h-6.5zM256 55h1v0.5h-1zM261.5 55h5v0.5h-5zM270 55h0.5v0.5h-0.5zM280 55h1.5v0.5h-1.5zM299 55h1v0.5h-1zM319.5 55h6.5v0.5h-6.5zM331.5 55h1v0.5h-1zM338.5 55h1.5v0.5h-1.5zM356.5 55h5.5v0.5h-5.5zM196 55.5h3.5v0.5h-3.5zM208 55.5h1.5v0.5h-1.5zM227 55.5h1v0.5h-1zM230.5 55.5h7v0.5h-7zM251 55.5h2v0.5h-2zM256.5 55.5h0.5v0.5h-0.5zM262 55.5h4.5v0.5h-4.5zM280 55.5h1.5v0.5h-1.5zM299.5 55.5h0.5v0.5h-0.5zM320 55.5h6.5v0.5h-6.5zM331.5 55.5h2v0.5h-2zM338.5 55.5h2v0.5h-2zM357 55.5h5v0.5h-5zM196 56h4v0.5h-4zM208 56h2.5v0.5h-2.5zM227 56h1.5v0.5h-1.5zM230.5 56h7.5v0.5h-7.5zM250.5 56h3.5v0.5h-3.5zM263 56h3v0.5h-3zM280.5 56h1v0.5h-1zM320.5 56h6v0.5h-6zM331 56h3v0.5h-3zM338.5 56h2v0.5h-2zM357 56h5v0.5h-5zM199 56.5h1.5v0.5h-1.5zM208.5 56.5h3v0.5h-3zM227.5 56.5h1.5v0.5h-1.5zM230.5 56.5h8v0.5h-8zM250.5 56.5h4v0.5h-4zM263.5 56.5h2.5v0.5h-2.5zM320.5 56.5h6v0.5h-6zM331.5 56.5h3v0.5h-3zM338 56.5h3v0.5h-3zM358 56.5h4v0.5h-4zM199.5 57h2v0.5h-2zM209 57h2v0.5h-2zM231.5 57h7.5v0.5h-7.5zM250.5 57h3.5v0.5h-3.5zM264.5 57h0.5v0.5h-0.5zM282 57h0.5v0.5h-0.5zM320.5 57h6.5v0.5h-6.5zM331.5 57h5v0.5h-5zM337.5 57h3.5v0.5h-3.5zM359 57h3v0.5h-3zM200 57.5h2v0.5h-2zM209 57.5h2v0.5h-2zM213 57.5h3v0.5h-3zM231.5 57.5h8v0.5h-8zM251 57.5h2.5v0.5h-2.5zM282 57.5h1v0.5h-1zM299.5 57.5h1.5v0.5h-1.5zM310.5 57.5h0.5v0.5h-0.5zM320.5 57.5h6.5v0.5h-6.5zM331.5 57.5h9.5v0.5h-9.5zM359.5 57.5h2.5v0.5h-2.5zM200.5 58h2v0.5h-2zM213 58h5v0.5h-5zM231.5 58h8v0.5h-8zM251 58h3v0.5h-3zM273 58h0.5v0.5h-0.5zM282 58h1.5v0.5h-1.5zM288 58h3v0.5h-3zM300 58h1.5v0.5h-1.5zM310.5 58h1v0.5h-1zM320.5 58h7v0.5h-7zM332 58h9v0.5h-9zM342.5 58h3.5v0.5h-3.5zM360 58h2v0.5h-2zM200.5 58.5h2.5v0.5h-2.5zM212.5 58.5h7v0.5h-7zM231.5 58.5h8v0.5h-8zM241 58.5h1.5v0.5h-1.5zM251.5 58.5h3v0.5h-3zM272.5 58.5h1v0.5h-1zM282 58.5h2v0.5h-2zM287.5 58.5h4.5v0.5h-4.5zM300 58.5h2.5v0.5h-2.5zM303.5 58.5h1.5v0.5h-1.5zM310 58.5h2.5v0.5h-2.5zM320.5 58.5h9v0.5h-9zM333 58.5h8v0.5h-8zM342 58.5h5v0.5h-5zM360.5 58.5h1.5v0.5h-1.5zM200.5 59h3v0.5h-3zM212.5 59h7.5v0.5h-7.5zM232 59h11v0.5h-11zM251.5 59h3.5v0.5h-3.5zM271 59h4.5v0.5h-4.5zM282.5 59h3v0.5h-3zM287.5 59h5v0.5h-5zM300.5 59h4v0.5h-4zM309.5 59h4.5v0.5h-4.5zM320.5 59h9v0.5h-9zM334 59h5v0.5h-5zM339.5 59h1.5v0.5h-1.5zM342 59h5.5v0.5h-5.5zM360.5 59h1.5v0.5h-1.5zM196 59.5h0.5v0.5h-0.5zM202 59.5h2.5v0.5h-2.5zM212.5 59.5h8v0.5h-8zM232 59.5h11.5v0.5h-11.5zM252 59.5h3v0.5h-3zM270 59.5h1v0.5h-1zM272 59.5h3.5v0.5h-3.5zM282.5 59.5h3.5v0.5h-3.5zM287.5 59.5h5.5v0.5h-5.5zM301 59.5h3v0.5h-3zM306.5 59.5h8.5v0.5h-8.5zM321 59.5h8.5v0.5h-8.5zM340 59.5h7.5v0.5h-7.5zM349 59.5h1v0.5h-1zM360.5 59.5h1.5v0.5h-1.5zM202.5 60h2.5v0.5h-2.5zM213 60h3.5v0.5h-3.5zM218 60h2.5v0.5h-2.5zM229.5 60h1v0.5h-1zM232.5 60h11v0.5h-11zM252.5 60h2.5v0.5h-2.5zM267 60h4v0.5h-4zM272 60h3v0.5h-3zM283.5 60h2.5v0.5h-2.5zM287.5 60h6v0.5h-6zM302 60h2v0.5h-2zM306.5 60h9v0.5h-9zM321.5 60h8v0.5h-8zM340 60h9v0.5h-9zM360.5 60h1.5v0.5h-1.5zM198 60.5h0.5v0.5h-0.5zM202.5 60.5h2.5v0.5h-2.5zM213.5 60.5h3v0.5h-3zM217.5 60.5h3.5v0.5h-3.5zM229.5 60.5h2v0.5h-2zM233 60.5h7.5v0.5h-7.5zM242 60.5h2v0.5h-2zM252.5 60.5h2.5v0.5h-2.5zM267 60.5h4.5v0.5h-4.5zM272 60.5h2.5v0.5h-2.5zM277 60.5h0.5v0.5h-0.5zM284 60.5h1.5v0.5h-1.5zM291 60.5h4v0.5h-4zM307 60.5h9.5v0.5h-9.5zM322 60.5h7v0.5h-7zM340 60.5h8.5v0.5h-8.5zM361 60.5h1v0.5h-1zM196 61h3v0.5h-3zM202.5 61h2v0.5h-2zM214 61h2v0.5h-2zM217.5 61h3.5v0.5h-3.5zM229.5 61h3v0.5h-3zM234 61h5.5v0.5h-5.5zM242 61h2v0.5h-2zM253.5 61h1.5v0.5h-1.5zM267.5 61h7v0.5h-7zM277 61h1v0.5h-1zM291.5 61h4v0.5h-4zM307.5 61h9.5v0.5h-9.5zM322.5 61h6.5v0.5h-6.5zM340.5 61h8.5v0.5h-8.5zM361 61h1v0.5h-1zM196 61.5h3v0.5h-3zM202 61.5h1.5v0.5h-1.5zM214.5 61.5h1v0.5h-1zM217.5 61.5h4v0.5h-4zM229.5 61.5h3.5v0.5h-3.5zM234 61.5h5.5v0.5h-5.5zM242 61.5h2.5v0.5h-2.5zM268 61.5h6v0.5h-6zM277.5 61.5h1v0.5h-1zM292 61.5h3.5v0.5h-3.5zM307.5 61.5h10v0.5h-10zM323.5 61.5h6v0.5h-6zM341 61.5h8v0.5h-8zM361 61.5h1v0.5h-1zM196 62h3v0.5h-3zM201 62h2.5v0.5h-2.5zM217.5 62h4v0.5h-4zM228.5 62h5v0.5h-5zM234.5 62h5.5v0.5h-5.5zM241.5 62h3.5v0.5h-3.5zM268 62h6.5v0.5h-6.5zM277.5 62h1.5v0.5h-1.5zM292 62h2v0.5h-2zM307.5 62h10.5v0.5h-10.5zM324 62h5.5v0.5h-5.5zM341.5 62h8v0.5h-8zM196 62.5h3v0.5h-3zM200.5 62.5h3v0.5h-3zM218 62.5h3.5v0.5h-3.5zM228.5 62.5h17.5v0.5h-17.5zM268.5 62.5h11v0.5h-11zM290 62.5h2v0.5h-2zM308 62.5h10v0.5h-10zM324.5 62.5h5.5v0.5h-5.5zM331 62.5h1.5v0.5h-1.5zM342 62.5h8v0.5h-8zM196 63h3v0.5h-3zM201 63h2v0.5h-2zM218.5 63h3.5v0.5h-3.5zM228.5 63h18v0.5h-18zM268 63h12v0.5h-12zM290 63h2v0.5h-2zM296.5 63h1v0.5h-1zM299.5 63h0.5v0.5h-0.5zM308 63h10.5v0.5h-10.5zM325.5 63h7v0.5h-7zM342 63h2.5v0.5h-2.5zM345.5 63h5.5v0.5h-5.5zM196 63.5h3.5v0.5h-3.5zM202 63.5h1v0.5h-1zM219 63.5h3.5v0.5h-3.5zM228.5 63.5h3.5v0.5h-3.5zM234 63.5h12.5v0.5h-12.5zM267.5 63.5h13v0.5h-13zM290 63.5h2.5v0.5h-2.5zM296.5 63.5h1v0.5h-1zM299.5 63.5h1v0.5h-1zM308 63.5h11v0.5h-11zM326.5 63.5h6v0.5h-6zM342 63.5h2.5v0.5h-2.5zM346.5 63.5h5.5v0.5h-5.5zM196 64h3.5v0.5h-3.5zM202 64h1v0.5h-1zM219 64h3.5v0.5h-3.5zM229.5 64h2.5v0.5h-2.5zM235 64h12.5v0.5h-12.5zM267 64h14v0.5h-14zM290 64h3v0.5h-3zM296.5 64h1.5v0.5h-1.5zM300 64h1v0.5h-1zM308 64h12.5v0.5h-12.5zM327.5 64h5v0.5h-5zM342.5 64h1.5v0.5h-1.5zM347 64h7v0.5h-7zM196 64.5h3.5v0.5h-3.5zM202 64.5h1v0.5h-1zM219.5 64.5h3.5v0.5h-3.5zM235.5 64.5h13v0.5h-13zM269.5 64.5h11.5v0.5h-11.5zM290 64.5h3v0.5h-3zM296.5 64.5h1.5v0.5h-1.5zM300 64.5h1.5v0.5h-1.5zM309 64.5h13v0.5h-13zM329.5 64.5h3v0.5h-3zM343 64.5h1v0.5h-1zM348 64.5h6.5v0.5h-6.5zM196 65h4v0.5h-4zM219.5 65h3.5v0.5h-3.5zM236.5 65h12.5v0.5h-12.5zM269.5 65h12v0.5h-12zM290 65h3.5v0.5h-3.5zM297 65h1.5v0.5h-1.5zM300.5 65h1.5v0.5h-1.5zM311 65h2v0.5h-2zM314 65h8.5v0.5h-8.5zM330 65h3v0.5h-3zM343.5 65h0.5v0.5h-0.5zM349 65h6.5v0.5h-6.5zM361.5 65h0.5v0.5h-0.5zM196 65.5h4v0.5h-4zM219 65.5h4.5v0.5h-4.5zM237 65.5h12.5v0.5h-12.5zM269.5 65.5h12.5v0.5h-12.5zM290 65.5h4v0.5h-4zM297.5 65.5h1.5v0.5h-1.5zM300.5 65.5h2v0.5h-2zM311 65.5h2v0.5h-2zM314.5 65.5h8.5v0.5h-8.5zM330.5 65.5h3.5v0.5h-3.5zM343.5 65.5h1v0.5h-1zM349 65.5h7v0.5h-7zM361.5 65.5h0.5v0.5h-0.5zM196 66h4.5v0.5h-4.5zM213.5 66h1v0.5h-1zM219 66h4.5v0.5h-4.5zM237 66h13v0.5h-13zM270 66h9.5v0.5h-9.5zM290.5 66h4v0.5h-4zM297.5 66h1.5v0.5h-1.5zM301 66h1v0.5h-1zM311 66h2.5v0.5h-2.5zM315 66h9v0.5h-9zM330.5 66h4v0.5h-4zM344 66h4v0.5h-4zM349 66h4.5v0.5h-4.5zM355 66h1v0.5h-1zM196 66.5h4.5v0.5h-4.5zM213 66.5h2.5v0.5h-2.5zM219.5 66.5h3.5v0.5h-3.5zM237.5 66.5h13v0.5h-13zM270.5 66.5h8.5v0.5h-8.5zM290.5 66.5h4.5v0.5h-4.5zM297.5 66.5h2v0.5h-2zM300.5 66.5h0.5v0.5h-0.5zM311.5 66.5h2v0.5h-2zM315.5 66.5h9.5v0.5h-9.5zM330.5 66.5h4.5v0.5h-4.5zM344.5 66.5h8v0.5h-8zM196 67h5v0.5h-5zM213.5 67h3v0.5h-3zM221.5 67h1v0.5h-1zM237.5 67h13.5v0.5h-13.5zM272 67h7.5v0.5h-7.5zM290.5 67h5v0.5h-5zM297.5 67h4v0.5h-4zM311.5 67h2v0.5h-2zM317 67h9.5v0.5h-9.5zM331.5 67h4.5v0.5h-4.5zM345.5 67h6.5v0.5h-6.5zM196 67.5h5.5v0.5h-5.5zM213.5 67.5h3.5v0.5h-3.5zM226.5 67.5h2.5v0.5h-2.5zM237 67.5h14.5v0.5h-14.5zM274 67.5h6v0.5h-6zM290 67.5h6v0.5h-6zM298 67.5h4v0.5h-4zM303.5 67.5h1.5v0.5h-1.5zM312 67.5h1v0.5h-1zM317.5 67.5h9.5v0.5h-9.5zM332.5 67.5h3.5v0.5h-3.5zM346 67.5h4v0.5h-4zM196.5 68h5.5v0.5h-5.5zM207.5 68h1.5v0.5h-1.5zM213.5 68h4v0.5h-4zM227 68h2.5v0.5h-2.5zM237 68h15.5v0.5h-15.5zM275 68h5.5v0.5h-5.5zM290 68h6.5v0.5h-6.5zM299 68h6.5v0.5h-6.5zM318 68h9.5v0.5h-9.5zM333 68h4v0.5h-4zM346 68h3.5v0.5h-3.5zM196.5 68.5h6v0.5h-6zM208 68.5h1v0.5h-1zM213.5 68.5h4v0.5h-4zM223 68.5h1.5v0.5h-1.5zM227 68.5h3v0.5h-3zM237 68.5h17v0.5h-17zM275.5 68.5h7v0.5h-7zM290 68.5h6.5v0.5h-6.5zM300 68.5h6v0.5h-6zM314 68.5h0.5v0.5h-0.5zM318 68.5h3v0.5h-3zM321.5 68.5h5.5v0.5h-5.5zM333.5 68.5h3.5v0.5h-3.5zM346.5 68.5h3v0.5h-3zM196.5 69h6v0.5h-6zM215 69h2.5v0.5h-2.5zM222.5 69h2.5v0.5h-2.5zM227.5 69h2.5v0.5h-2.5zM237 69h18v0.5h-18zM276.5 69h6.5v0.5h-6.5zM291 69h5.5v0.5h-5.5zM301 69h5.5v0.5h-5.5zM318.5 69h2.5v0.5h-2.5zM324 69h3v0.5h-3zM333.5 69h4v0.5h-4zM340.5 69h1v0.5h-1zM346.5 69h3v0.5h-3zM196 69.5h7v0.5h-7zM215.5 69.5h2.5v0.5h-2.5zM222.5 69.5h8v0.5h-8zM237.5 69.5h17.5v0.5h-17.5zM277 69.5h6.5v0.5h-6.5zM291.5 69.5h5v0.5h-5zM302 69.5h4.5v0.5h-4.5zM319 69.5h2v0.5h-2zM326 69.5h0.5v0.5h-0.5zM333.5 69.5h4v0.5h-4zM340 69.5h2v0.5h-2zM346.5 69.5h3v0.5h-3zM196.5 70h7v0.5h-7zM216 70h3v0.5h-3zM220 70h1v0.5h-1zM222.5 70h6v0.5h-6zM229 70h1.5v0.5h-1.5zM238 70h14v0.5h-14zM253.5 70h4v0.5h-4zM278 70h2v0.5h-2zM281 70h2.5v0.5h-2.5zM291.5 70h6v0.5h-6zM302.5 70h1.5v0.5h-1.5zM305 70h1.5v0.5h-1.5zM319 70h2v0.5h-2zM334 70h8.5v0.5h-8.5zM344.5 70h1v0.5h-1zM347.5 70h2v0.5h-2zM354 70h1v0.5h-1zM197.5 70.5h6.5v0.5h-6.5zM216.5 70.5h5v0.5h-5zM222.5 70.5h6v0.5h-6zM229.5 70.5h2v0.5h-2zM238 70.5h14.5v0.5h-14.5zM255.5 70.5h2.5v0.5h-2.5zM273 70.5h1v0.5h-1zM280.5 70.5h3v0.5h-3zM292 70.5h2.5v0.5h-2.5zM295.5 70.5h3v0.5h-3zM302 70.5h4.5v0.5h-4.5zM319 70.5h2v0.5h-2zM334.5 70.5h9v0.5h-9zM344 70.5h2v0.5h-2zM347.5 70.5h2v0.5h-2zM354 70.5h1v0.5h-1zM197.5 71h7.5v0.5h-7.5zM217 71h2v0.5h-2zM220.5 71h1v0.5h-1zM222 71h10.5v0.5h-10.5zM238.5 71h11v0.5h-11zM250 71h2.5v0.5h-2.5zM256 71h2.5v0.5h-2.5zM273.5 71h0.5v0.5h-0.5zM280.5 71h3.5v0.5h-3.5zM296 71h11v0.5h-11zM320.5 71h2v0.5h-2zM335 71h14.5v0.5h-14.5zM354.5 71h0.5v0.5h-0.5zM198 71.5h4.5v0.5h-4.5zM204 71.5h1.5v0.5h-1.5zM218 71.5h0.5v0.5h-0.5zM220.5 71.5h12v0.5h-12zM238.5 71.5h10.5v0.5h-10.5zM251 71.5h2v0.5h-2zM256.5 71.5h2v0.5h-2zM280.5 71.5h3.5v0.5h-3.5zM296 71.5h11.5v0.5h-11.5zM321 71.5h1.5v0.5h-1.5zM335 71.5h15.5v0.5h-15.5zM196 72h0.5v0.5h-0.5zM198 72h4.5v0.5h-4.5zM204 72h1.5v0.5h-1.5zM220.5 72h12v0.5h-12zM240 72h6.5v0.5h-6.5zM252 72h0.5v0.5h-0.5zM257 72h1.5v0.5h-1.5zM280.5 72h4v0.5h-4zM297 72h10.5v0.5h-10.5zM321 72h1.5v0.5h-1.5zM323.5 72h0.5v0.5h-0.5zM335.5 72h15v0.5h-15zM196 72.5h1v0.5h-1zM198.5 72.5h4v0.5h-4zM204.5 72.5h0.5v0.5h-0.5zM220.5 72.5h2.5v0.5h-2.5zM227 72.5h5v0.5h-5zM240.5 72.5h6v0.5h-6zM278.5 72.5h6.5v0.5h-6.5zM298.5 72.5h9.5v0.5h-9.5zM321 72.5h4v0.5h-4zM338 72.5h9.5v0.5h-9.5zM348.5 72.5h1.5v0.5h-1.5zM196 73h1v0.5h-1zM198.5 73h2v0.5h-2zM204.5 73h0.5v0.5h-0.5zM221 73h2v0.5h-2zM228 73h4v0.5h-4zM240.5 73h6.5v0.5h-6.5zM278.5 73h3v0.5h-3zM282 73h3v0.5h-3zM298.5 73h6.5v0.5h-6.5zM305.5 73h3v0.5h-3zM320.5 73h5.5v0.5h-5.5zM338.5 73h8.5v0.5h-8.5zM349 73h1v0.5h-1zM198.5 73.5h2v0.5h-2zM221.5 73.5h1.5v0.5h-1.5zM231 73.5h0.5v0.5h-0.5zM239.5 73.5h7.5v0.5h-7.5zM278.5 73.5h2.5v0.5h-2.5zM298.5 73.5h6.5v0.5h-6.5zM305.5 73.5h3v0.5h-3zM320.5 73.5h6.5v0.5h-6.5zM333 73.5h1v0.5h-1zM338.5 73.5h8.5v0.5h-8.5zM199 74h1.5v0.5h-1.5zM221.5 74h1.5v0.5h-1.5zM225 74h0.5v0.5h-0.5zM239.5 74h7.5v0.5h-7.5zM279 74h2v0.5h-2zM298.5 74h6.5v0.5h-6.5zM305.5 74h3.5v0.5h-3.5zM310 74h1v0.5h-1zM320.5 74h7.5v0.5h-7.5zM333.5 74h0.5v0.5h-0.5zM338.5 74h9v0.5h-9zM360 74h1v0.5h-1zM199.5 74.5h1.5v0.5h-1.5zM222 74.5h1v0.5h-1zM224.5 74.5h1.5v0.5h-1.5zM239.5 74.5h7.5v0.5h-7.5zM266 74.5h1v0.5h-1zM280 74.5h1.5v0.5h-1.5zM298.5 74.5h13v0.5h-13zM321 74.5h7v0.5h-7zM338.5 74.5h9v0.5h-9zM350.5 74.5h0.5v0.5h-0.5zM359 74.5h2.5v0.5h-2.5zM200 75h1v0.5h-1zM222.5 75h1v0.5h-1zM225 75h1v0.5h-1zM239.5 75h7.5v0.5h-7.5zM266 75h0.5v0.5h-0.5zM280.5 75h1v0.5h-1zM293 75h0.5v0.5h-0.5zM298.5 75h13.5v0.5h-13.5zM321 75h7.5v0.5h-7.5zM339 75h6.5v0.5h-6.5zM352 75h1.5v0.5h-1.5zM358.5 75h3v0.5h-3zM200.5 75.5h1v0.5h-1zM222.5 75.5h1v0.5h-1zM240 75.5h7.5v0.5h-7.5zM281 75.5h0.5v0.5h-0.5zM292.5 75.5h2v0.5h-2zM299 75.5h13v0.5h-13zM321 75.5h7.5v0.5h-7.5zM339 75.5h6.5v0.5h-6.5zM348.5 75.5h0.5v0.5h-0.5zM352 75.5h2.5v0.5h-2.5zM358.5 75.5h1.5v0.5h-1.5zM201 76h0.5v0.5h-0.5zM222.5 76h1v0.5h-1zM241 76h6.5v0.5h-6.5zM299 76h13v0.5h-13zM321 76h8v0.5h-8zM339 76h6v0.5h-6zM348 76h2.5v0.5h-2.5zM352 76h3v0.5h-3zM201.5 76.5h0.5v0.5h-0.5zM241.5 76.5h6.5v0.5h-6.5zM299 76.5h13.5v0.5h-13.5zM321.5 76.5h8.5v0.5h-8.5zM337.5 76.5h5v0.5h-5zM347.5 76.5h3.5v0.5h-3.5zM351.5 76.5h3.5v0.5h-3.5zM201.5 77h0.5v0.5h-0.5zM242 77h6v0.5h-6zM299 77h9.5v0.5h-9.5zM309 77h4v0.5h-4zM322 77h10v0.5h-10zM336.5 77h5v0.5h-5zM347 77h8v0.5h-8zM203.5 77.5h1v0.5h-1zM227 77.5h1v0.5h-1zM242.5 77.5h5.5v0.5h-5.5zM267.5 77.5h1v0.5h-1zM277.5 77.5h2v0.5h-2zM289 77.5h0.5v0.5h-0.5zM299.5 77.5h9v0.5h-9zM310 77.5h5.5v0.5h-5.5zM322 77.5h3v0.5h-3zM325.5 77.5h7v0.5h-7zM336 77.5h6v0.5h-6zM347.5 77.5h7.5v0.5h-7.5zM203.5 78h1.5v0.5h-1.5zM227 78h1.5v0.5h-1.5zM242.5 78h6v0.5h-6zM267.5 78h1v0.5h-1zM277.5 78h2.5v0.5h-2.5zM288.5 78h1v0.5h-1zM299.5 78h9.5v0.5h-9.5zM310.5 78h5.5v0.5h-5.5zM322 78h3.5v0.5h-3.5zM326.5 78h6v0.5h-6zM335.5 78h7v0.5h-7zM348 78h7v0.5h-7zM199 78.5h1v0.5h-1zM203.5 78.5h2v0.5h-2zM226.5 78.5h2.5v0.5h-2.5zM243.5 78.5h5v0.5h-5zM262 78.5h1.5v0.5h-1.5zM268 78.5h0.5v0.5h-0.5zM277.5 78.5h3v0.5h-3zM300 78.5h9v0.5h-9zM311.5 78.5h4.5v0.5h-4.5zM322.5 78.5h10v0.5h-10zM335.5 78.5h7.5v0.5h-7.5zM348 78.5h1.5v0.5h-1.5zM350.5 78.5h1v0.5h-1zM352 78.5h3v0.5h-3zM199.5 79h1v0.5h-1zM204 79h2v0.5h-2zM224 79h0.5v0.5h-0.5zM227 79h3v0.5h-3zM244 79h4v0.5h-4zM262 79h2v0.5h-2zM269 79h2v0.5h-2zM278 79h2.5v0.5h-2.5zM300 79h9.5v0.5h-9.5zM313 79h4v0.5h-4zM323.5 79h4v0.5h-4zM329.5 79h3.5v0.5h-3.5zM335.5 79h8v0.5h-8zM348.5 79h0.5v0.5h-0.5zM351 79h3.5v0.5h-3.5zM199.5 79.5h2.5v0.5h-2.5zM204 79.5h2.5v0.5h-2.5zM215 79.5h1v0.5h-1zM219 79.5h2v0.5h-2zM223.5 79.5h2v0.5h-2zM227.5 79.5h3v0.5h-3zM236.5 79.5h1.5v0.5h-1.5zM245 79.5h2.5v0.5h-2.5zM262.5 79.5h1.5v0.5h-1.5zM269 79.5h2.5v0.5h-2.5zM300 79.5h9.5v0.5h-9.5zM313.5 79.5h4.5v0.5h-4.5zM324 79.5h4v0.5h-4zM330.5 79.5h2.5v0.5h-2.5zM336 79.5h2v0.5h-2zM339 79.5h4.5v0.5h-4.5zM348.5 79.5h0.5v0.5h-0.5zM351 79.5h1v0.5h-1zM352.5 79.5h1.5v0.5h-1.5zM199.5 80h3v0.5h-3zM204.5 80h2.5v0.5h-2.5zM219 80h7v0.5h-7zM227.5 80h3.5v0.5h-3.5zM236.5 80h1.5v0.5h-1.5zM269 80h3v0.5h-3zM289.5 80h1v0.5h-1zM300.5 80h0.5v0.5h-0.5zM302 80h7v0.5h-7zM313.5 80h4.5v0.5h-4.5zM324.5 80h4v0.5h-4zM331 80h2.5v0.5h-2.5zM336 80h1.5v0.5h-1.5zM339.5 80h4v0.5h-4zM351 80h0.5v0.5h-0.5zM352.5 80h1v0.5h-1zM199.5 80.5h3.5v0.5h-3.5zM205.5 80.5h2v0.5h-2zM219 80.5h8v0.5h-8zM227.5 80.5h5.5v0.5h-5.5zM236.5 80.5h1v0.5h-1zM269 80.5h3.5v0.5h-3.5zM278 80.5h0.5v0.5h-0.5zM289 80.5h2v0.5h-2zM293.5 80.5h1.5v0.5h-1.5zM302.5 80.5h1v0.5h-1zM305.5 80.5h3.5v0.5h-3.5zM314 80.5h4v0.5h-4zM326.5 80.5h2.5v0.5h-2.5zM332 80.5h2v0.5h-2zM336 80.5h2v0.5h-2zM340 80.5h3v0.5h-3zM350.5 80.5h1v0.5h-1zM352 80.5h2v0.5h-2zM197.5 81h0.5v0.5h-0.5zM200 81h3.5v0.5h-3.5zM205.5 81h2.5v0.5h-2.5zM219.5 81h13.5v0.5h-13.5zM236 81h1.5v0.5h-1.5zM269.5 81h3v0.5h-3zM274 81h2v0.5h-2zM278 81h1v0.5h-1zM289.5 81h1.5v0.5h-1.5zM293.5 81h2v0.5h-2zM299.5 81h1v0.5h-1zM302.5 81h1v0.5h-1zM306 81h2.5v0.5h-2.5zM315 81h3v0.5h-3zM326.5 81h2.5v0.5h-2.5zM332.5 81h1.5v0.5h-1.5zM336.5 81h1.5v0.5h-1.5zM340 81h1.5v0.5h-1.5zM352 81h2.5v0.5h-2.5zM197.5 81.5h1.5v0.5h-1.5zM200 81.5h3v0.5h-3zM208.5 81.5h0.5v0.5h-0.5zM219.5 81.5h2v0.5h-2zM222 81.5h11v0.5h-11zM236 81.5h2v0.5h-2zM245 81.5h2v0.5h-2zM270 81.5h2.5v0.5h-2.5zM274 81.5h3.5v0.5h-3.5zM294.5 81.5h1.5v0.5h-1.5zM299 81.5h2.5v0.5h-2.5zM306.5 81.5h2.5v0.5h-2.5zM316 81.5h2.5v0.5h-2.5zM336.5 81.5h1.5v0.5h-1.5zM340 81.5h2v0.5h-2zM352 81.5h3.5v0.5h-3.5zM198.5 82h0.5v0.5h-0.5zM200.5 82h2.5v0.5h-2.5zM220 82h1v0.5h-1zM222.5 82h10.5v0.5h-10.5zM234.5 82h1v0.5h-1zM236.5 82h2.5v0.5h-2.5zM244.5 82h3v0.5h-3zM269.5 82h2.5v0.5h-2.5zM274.5 82h3v0.5h-3zM295.5 82h7v0.5h-7zM307 82h3v0.5h-3zM316.5 82h2.5v0.5h-2.5zM340 82h2.5v0.5h-2.5zM352.5 82h4v0.5h-4zM198.5 82.5h0.5v0.5h-0.5zM201 82.5h2v0.5h-2zM218.5 82.5h0.5v0.5h-0.5zM219.5 82.5h2.5v0.5h-2.5zM223 82.5h10v0.5h-10zM234 82.5h1.5v0.5h-1.5zM237 82.5h3v0.5h-3zM244.5 82.5h3.5v0.5h-3.5zM268.5 82.5h4v0.5h-4zM276.5 82.5h1v0.5h-1zM295.5 82.5h7v0.5h-7zM307 82.5h4v0.5h-4zM316.5 82.5h2.5v0.5h-2.5zM340.5 82.5h1v0.5h-1zM353 82.5h4.5v0.5h-4.5zM201 83h2.5v0.5h-2.5zM216 83h6.5v0.5h-6.5zM223.5 83h9.5v0.5h-9.5zM234 83h1.5v0.5h-1.5zM237.5 83h3.5v0.5h-3.5zM243 83h5v0.5h-5zM269 83h1v0.5h-1zM271 83h1.5v0.5h-1.5zM296 83h7.5v0.5h-7.5zM307 83h4v0.5h-4zM317 83h2v0.5h-2zM342.5 83h0.5v0.5h-0.5zM353 83h5v0.5h-5zM201.5 83.5h2.5v0.5h-2.5zM215.5 83.5h7v0.5h-7zM224 83.5h6v0.5h-6zM232 83.5h0.5v0.5h-0.5zM234 83.5h2v0.5h-2zM237.5 83.5h3.5v0.5h-3.5zM242.5 83.5h5v0.5h-5zM269 83.5h1v0.5h-1zM271 83.5h1.5v0.5h-1.5zM296.5 83.5h8v0.5h-8zM307.5 83.5h3v0.5h-3zM317.5 83.5h1v0.5h-1zM321.5 83.5h0.5v0.5h-0.5zM342.5 83.5h1.5v0.5h-1.5zM353.5 83.5h5v0.5h-5zM201.5 84h3v0.5h-3zM215 84h1.5v0.5h-1.5zM217 84h4.5v0.5h-4.5zM225 84h4.5v0.5h-4.5zM235 84h2v0.5h-2zM238.5 84h3v0.5h-3zM242.5 84h5v0.5h-5zM261.5 84h0.5v0.5h-0.5zM268 84h2.5v0.5h-2.5zM271 84h1v0.5h-1zM297 84h8v0.5h-8zM308 84h1.5v0.5h-1.5zM321.5 84h1v0.5h-1zM342.5 84h2v0.5h-2zM355 84h4v0.5h-4zM201.5 84.5h3v0.5h-3zM215.5 84.5h4v0.5h-4zM225.5 84.5h1v0.5h-1zM228 84.5h1v0.5h-1zM235.5 84.5h2v0.5h-2zM239 84.5h4v0.5h-4zM261.5 84.5h1v0.5h-1zM267.5 84.5h3v0.5h-3zM297.5 84.5h8v0.5h-8zM343 84.5h1.5v0.5h-1.5zM355.5 84.5h3v0.5h-3zM202 85h3.5v0.5h-3.5zM215.5 85h5v0.5h-5zM236 85h2v0.5h-2zM240 85h3v0.5h-3zM261.5 85h1.5v0.5h-1.5zM267 85h3.5v0.5h-3.5zM298 85h8v0.5h-8zM343.5 85h1.5v0.5h-1.5zM356 85h1.5v0.5h-1.5zM202.5 85.5h4v0.5h-4zM216 85.5h5v0.5h-5zM236 85.5h2.5v0.5h-2.5zM261.5 85.5h1.5v0.5h-1.5zM267.5 85.5h3.5v0.5h-3.5zM300 85.5h6.5v0.5h-6.5zM319 85.5h1v0.5h-1zM344 85.5h1.5v0.5h-1.5zM203 86h4v0.5h-4zM215.5 86h5.5v0.5h-5.5zM236 86h2.5v0.5h-2.5zM262.5 86h0.5v0.5h-0.5zM268.5 86h3.5v0.5h-3.5zM300.5 86h6.5v0.5h-6.5zM319 86h1.5v0.5h-1.5zM344 86h2.5v0.5h-2.5zM354 86h0.5v0.5h-0.5zM196 86.5h1v0.5h-1zM203 86.5h5v0.5h-5zM215.5 86.5h6v0.5h-6zM229 86.5h1v0.5h-1zM236.5 86.5h2v0.5h-2zM268.5 86.5h4v0.5h-4zM300.5 86.5h7v0.5h-7zM309 86.5h1.5v0.5h-1.5zM344.5 86.5h2.5v0.5h-2.5zM354 86.5h1v0.5h-1zM358.5 86.5h0.5v0.5h-0.5zM196.5 87h0.5v0.5h-0.5zM203 87h5v0.5h-5zM215.5 87h6v0.5h-6zM229.5 87h1v0.5h-1zM237.5 87h1v0.5h-1zM268.5 87h5v0.5h-5zM301 87h9.5v0.5h-9.5zM313 87h0.5v0.5h-0.5zM337.5 87h2v0.5h-2zM346 87h1.5v0.5h-1.5zM360.5 87h0.5v0.5h-0.5zM204 87.5h5.5v0.5h-5.5zM215.5 87.5h6.5v0.5h-6.5zM229.5 87.5h1v0.5h-1zM241 87.5h1.5v0.5h-1.5zM268.5 87.5h5.5v0.5h-5.5zM301 87.5h9.5v0.5h-9.5zM337.5 87.5h2.5v0.5h-2.5zM342 87.5h0.5v0.5h-0.5zM346.5 87.5h1.5v0.5h-1.5zM359.5 87.5h2v0.5h-2zM204.5 88h5.5v0.5h-5.5zM216 88h6v0.5h-6zM241 88h2v0.5h-2zM246 88h1v0.5h-1zM262.5 88h1v0.5h-1zM268 88h7v0.5h-7zM288 88h1.5v0.5h-1.5zM292.5 88h2v0.5h-2zM301 88h9v0.5h-9zM323.5 88h0.5v0.5h-0.5zM337.5 88h5.5v0.5h-5.5zM347 88h2v0.5h-2zM359.5 88h2.5v0.5h-2.5zM205 88.5h5v0.5h-5zM216.5 88.5h5.5v0.5h-5.5zM241.5 88.5h1.5v0.5h-1.5zM246 88.5h1.5v0.5h-1.5zM262.5 88.5h1v0.5h-1zM267.5 88.5h8v0.5h-8zM288 88.5h2v0.5h-2zM291.5 88.5h4v0.5h-4zM300.5 88.5h9.5v0.5h-9.5zM323.5 88.5h1v0.5h-1zM337.5 88.5h6v0.5h-6zM346.5 88.5h3v0.5h-3zM359.5 88.5h2.5v0.5h-2.5zM196 89h3v0.5h-3zM205.5 89h5v0.5h-5zM217 89h5.5v0.5h-5.5zM226.5 89h1v0.5h-1zM246 89h1.5v0.5h-1.5zM266.5 89h9.5v0.5h-9.5zM288 89h2.5v0.5h-2.5zM291 89h5v0.5h-5zM300.5 89h1v0.5h-1zM303.5 89h6.5v0.5h-6.5zM323 89h1.5v0.5h-1.5zM337 89h6.5v0.5h-6.5zM346.5 89h3.5v0.5h-3.5zM359 89h3v0.5h-3zM196 89.5h3v0.5h-3zM205.5 89.5h5v0.5h-5zM217.5 89.5h8v0.5h-8zM243.5 89.5h0.5v0.5h-0.5zM246.5 89.5h0.5v0.5h-0.5zM266 89.5h3.5v0.5h-3.5zM271.5 89.5h5v0.5h-5zM288 89.5h8v0.5h-8zM300.5 89.5h1v0.5h-1zM305.5 89.5h4.5v0.5h-4.5zM319 89.5h6.5v0.5h-6.5zM336 89.5h8v0.5h-8zM346 89.5h4v0.5h-4zM358.5 89.5h3.5v0.5h-3.5zM196 90h4v0.5h-4zM205.5 90h3v0.5h-3zM209 90h1.5v0.5h-1.5zM218 90h8v0.5h-8zM243 90h2.5v0.5h-2.5zM249.5 90h1.5v0.5h-1.5zM266 90h3.5v0.5h-3.5zM271.5 90h5v0.5h-5zM288.5 90h7.5v0.5h-7.5zM298 90h0.5v0.5h-0.5zM300.5 90h1v0.5h-1zM306 90h4v0.5h-4zM318 90h8v0.5h-8zM335.5 90h15.5v0.5h-15.5zM357.5 90h4.5v0.5h-4.5zM196 90.5h4.5v0.5h-4.5zM205.5 90.5h3v0.5h-3zM209.5 90.5h1v0.5h-1zM219 90.5h8v0.5h-8zM243 90.5h3v0.5h-3zM249.5 90.5h2v0.5h-2zM266 90.5h4v0.5h-4zM272 90.5h5v0.5h-5zM288.5 90.5h7v0.5h-7zM297.5 90.5h1v0.5h-1zM300.5 90.5h1.5v0.5h-1.5zM307 90.5h3v0.5h-3zM318 90.5h7.5v0.5h-7.5zM336.5 90.5h15.5v0.5h-15.5zM357 90.5h5v0.5h-5zM196 91h4.5v0.5h-4.5zM206.5 91h2v0.5h-2zM209.5 91h1v0.5h-1zM219.5 91h8v0.5h-8zM243.5 91h3v0.5h-3zM250 91h2v0.5h-2zM266.5 91h11v0.5h-11zM289 91h4v0.5h-4zM293.5 91h2v0.5h-2zM298 91h0.5v0.5h-0.5zM300.5 91h2v0.5h-2zM307.5 91h3v0.5h-3zM311 91h1.5v0.5h-1.5zM318 91h7.5v0.5h-7.5zM337.5 91h15v0.5h-15zM355.5 91h6.5v0.5h-6.5zM196 91.5h0.5v0.5h-0.5zM197.5 91.5h4v0.5h-4zM207 91.5h1v0.5h-1zM210 91.5h0.5v0.5h-0.5zM220 91.5h7.5v0.5h-7.5zM243.5 91.5h3.5v0.5h-3.5zM250 91.5h2.5v0.5h-2.5zM267 91.5h11v0.5h-11zM289.5 91.5h6v0.5h-6zM300 91.5h4.5v0.5h-4.5zM308 91.5h2.5v0.5h-2.5zM311 91.5h1v0.5h-1zM318.5 91.5h7.5v0.5h-7.5zM338 91.5h14.5v0.5h-14.5zM355.5 91.5h6.5v0.5h-6.5zM198.5 92h3.5v0.5h-3.5zM220 92h7.5v0.5h-7.5zM243.5 92h3.5v0.5h-3.5zM250.5 92h3.5v0.5h-3.5zM267 92h11v0.5h-11zM290 92h6v0.5h-6zM299.5 92h6v0.5h-6zM308 92h2.5v0.5h-2.5zM311 92h1v0.5h-1zM318.5 92h7.5v0.5h-7.5zM339 92h11v0.5h-11zM355.5 92h6.5v0.5h-6.5zM196 92.5h0.5v0.5h-0.5zM200 92.5h2.5v0.5h-2.5zM220.5 92.5h7v0.5h-7zM243.5 92.5h3v0.5h-3zM251 92.5h4v0.5h-4zM267.5 92.5h11v0.5h-11zM290.5 92.5h6v0.5h-6zM299.5 92.5h6.5v0.5h-6.5zM307.5 92.5h0.5v0.5h-0.5zM319.5 92.5h7v0.5h-7zM330 92.5h1.5v0.5h-1.5zM339.5 92.5h10.5v0.5h-10.5zM356 92.5h6v0.5h-6zM196 93h1v0.5h-1zM201.5 93h2v0.5h-2zM224 93h4v0.5h-4zM244 93h1.5v0.5h-1.5zM251 93h4.5v0.5h-4.5zM267 93h1.5v0.5h-1.5zM269.5 93h9.5v0.5h-9.5zM291 93h5.5v0.5h-5.5zM299.5 93h9v0.5h-9zM320 93h7v0.5h-7zM330 93h2v0.5h-2zM341.5 93h9v0.5h-9zM356.5 93h5.5v0.5h-5.5zM196 93.5h2v0.5h-2zM202 93.5h2.5v0.5h-2.5zM220 93.5h1v0.5h-1zM222 93.5h1v0.5h-1zM225 93.5h5v0.5h-5zM244 93.5h2v0.5h-2zM251 93.5h5v0.5h-5zM267.5 93.5h0.5v0.5h-0.5zM269.5 93.5h8v0.5h-8zM278 93.5h1.5v0.5h-1.5zM292 93.5h5v0.5h-5zM299.5 93.5h9.5v0.5h-9.5zM320.5 93.5h6.5v0.5h-6.5zM330 93.5h2.5v0.5h-2.5zM341.5 93.5h9.5v0.5h-9.5zM356.5 93.5h5.5v0.5h-5.5zM196 94h3v0.5h-3zM202.5 94h2.5v0.5h-2.5zM220 94h4v0.5h-4zM225 94h5.5v0.5h-5.5zM244 94h3v0.5h-3zM251 94h5v0.5h-5zM267.5 94h0.5v0.5h-0.5zM269.5 94h7.5v0.5h-7.5zM279 94h0.5v0.5h-0.5zM294.5 94h2v0.5h-2zM300 94h10v0.5h-10zM321 94h6.5v0.5h-6.5zM330.5 94h3.5v0.5h-3.5zM342 94h9.5v0.5h-9.5zM357 94h5v0.5h-5zM196 94.5h3.5v0.5h-3.5zM202.5 94.5h2.5v0.5h-2.5zM220.5 94.5h10.5v0.5h-10.5zM239.5 94.5h1v0.5h-1zM244 94.5h3.5v0.5h-3.5zM251 94.5h5v0.5h-5zM269.5 94.5h7.5v0.5h-7.5zM279 94.5h1.5v0.5h-1.5zM295.5 94.5h1v0.5h-1zM300.5 94.5h9.5v0.5h-9.5zM322 94.5h6v0.5h-6zM331 94.5h4v0.5h-4zM342 94.5h10v0.5h-10zM358 94.5h4v0.5h-4zM196 95h4v0.5h-4zM203 95h2v0.5h-2zM221 95h10v0.5h-10zM239 95h9v0.5h-9zM251 95h5.5v0.5h-5.5zM269 95h8v0.5h-8zM279 95h2.5v0.5h-2.5zM296.5 95h0.5v0.5h-0.5zM301 95h9v0.5h-9zM322.5 95h6v0.5h-6zM330.5 95h0.5v0.5h-0.5zM331.5 95h3.5v0.5h-3.5zM342.5 95h10v0.5h-10zM358 95h4v0.5h-4zM196 95.5h4v0.5h-4zM203.5 95.5h2v0.5h-2zM221.5 95.5h10v0.5h-10zM235.5 95.5h1v0.5h-1zM239 95.5h10v0.5h-10zM250.5 95.5h7v0.5h-7zM269 95.5h8v0.5h-8zM279 95.5h2.5v0.5h-2.5zM296.5 95.5h1.5v0.5h-1.5zM301.5 95.5h9v0.5h-9zM323.5 95.5h12v0.5h-12zM343 95.5h10v0.5h-10zM358 95.5h4v0.5h-4zM196 96h4.5v0.5h-4.5zM204 96h2v0.5h-2zM222 96h9.5v0.5h-9.5zM235 96h2.5v0.5h-2.5zM239 96h2.5v0.5h-2.5zM243 96h15.5v0.5h-15.5zM269.5 96h7.5v0.5h-7.5zM279.5 96h2.5v0.5h-2.5zM297 96h2.5v0.5h-2.5zM301.5 96h10.5v0.5h-10.5zM324 96h11.5v0.5h-11.5zM343.5 96h10v0.5h-10zM358 96h4v0.5h-4zM196 96.5h5v0.5h-5zM204 96.5h3.5v0.5h-3.5zM222.5 96.5h9.5v0.5h-9.5zM235.5 96.5h6v0.5h-6zM243 96.5h16.5v0.5h-16.5zM269.5 96.5h6v0.5h-6zM280 96.5h2.5v0.5h-2.5zM299 96.5h0.5v0.5h-0.5zM301.5 96.5h11.5v0.5h-11.5zM325 96.5h11v0.5h-11zM344 96.5h9.5v0.5h-9.5zM358 96.5h4v0.5h-4zM196 97h5.5v0.5h-5.5zM204.5 97h3v0.5h-3zM224 97h8.5v0.5h-8.5zM235.5 97h7v0.5h-7zM244 97h16.5v0.5h-16.5zM270 97h5v0.5h-5zM280.5 97h2.5v0.5h-2.5zM301.5 97h4v0.5h-4zM306.5 97h7.5v0.5h-7.5zM327.5 97h9v0.5h-9zM344.5 97h9v0.5h-9zM358.5 97h3.5v0.5h-3.5zM196 97.5h6v0.5h-6zM205.5 97.5h2v0.5h-2zM226 97.5h7v0.5h-7zM238.5 97.5h4.5v0.5h-4.5zM245 97.5h15.5v0.5h-15.5zM270.5 97.5h2.5v0.5h-2.5zM281 97.5h2.5v0.5h-2.5zM301 97.5h4v0.5h-4zM306.5 97.5h8v0.5h-8zM329 97.5h7.5v0.5h-7.5zM345 97.5h9v0.5h-9zM358.5 97.5h3.5v0.5h-3.5zM196 98h3v0.5h-3zM200.5 98h1v0.5h-1zM206 98h1v0.5h-1zM226 98h7.5v0.5h-7.5zM239 98h4v0.5h-4zM246 98h6.5v0.5h-6.5zM256 98h4.5v0.5h-4.5zM270.5 98h2v0.5h-2zM281.5 98h2.5v0.5h-2.5zM300 98h5v0.5h-5zM306.5 98h8v0.5h-8zM330 98h6.5v0.5h-6.5zM345.5 98h9v0.5h-9zM356 98h6v0.5h-6zM196 98.5h3v0.5h-3zM226 98.5h2v0.5h-2zM229 98.5h4.5v0.5h-4.5zM240 98.5h3v0.5h-3zM247 98.5h3v0.5h-3zM256.5 98.5h4.5v0.5h-4.5zM282 98.5h2.5v0.5h-2.5zM299.5 98.5h5v0.5h-5zM306 98.5h8.5v0.5h-8.5zM331 98.5h5.5v0.5h-5.5zM346.5 98.5h8.5v0.5h-8.5zM356 98.5h6v0.5h-6zM196 99h2.5v0.5h-2.5zM222 99h5.5v0.5h-5.5zM231 99h3v0.5h-3zM240.5 99h2v0.5h-2zM247.5 99h2.5v0.5h-2.5zM256.5 99h4.5v0.5h-4.5zM282.5 99h2.5v0.5h-2.5zM298.5 99h16.5v0.5h-16.5zM331.5 99h5.5v0.5h-5.5zM347.5 99h7.5v0.5h-7.5zM356 99h6v0.5h-6zM196 99.5h1.5v0.5h-1.5zM221.5 99.5h3v0.5h-3zM225 99.5h2.5v0.5h-2.5zM231.5 99.5h2.5v0.5h-2.5zM240.5 99.5h1.5v0.5h-1.5zM248 99.5h2v0.5h-2zM256.5 99.5h5v0.5h-5zM283.5 99.5h1.5v0.5h-1.5zM298 99.5h9.5v0.5h-9.5zM308.5 99.5h6v0.5h-6zM321 99.5h0.5v0.5h-0.5zM332 99.5h5v0.5h-5zM348 99.5h7v0.5h-7zM356 99.5h3.5v0.5h-3.5zM221.5 100h3v0.5h-3zM225.5 100h2v0.5h-2zM231.5 100h3v0.5h-3zM240.5 100h1.5v0.5h-1.5zM249 100h1.5v0.5h-1.5zM257 100h4v0.5h-4zM274.5 100h1.5v0.5h-1.5zM278.5 100h1v0.5h-1zM283.5 100h2v0.5h-2zM298.5 100h1.5v0.5h-1.5zM301.5 100h6v0.5h-6zM309.5 100h4.5v0.5h-4.5zM320.5 100h2v0.5h-2zM333 100h1.5v0.5h-1.5zM335.5 100h1.5v0.5h-1.5zM348 100h7.5v0.5h-7.5zM356.5 100h3v0.5h-3zM216.5 100.5h1v0.5h-1zM221.5 100.5h3v0.5h-3zM225.5 100.5h2v0.5h-2zM232 100.5h3.5v0.5h-3.5zM240 100.5h1.5v0.5h-1.5zM249.5 100.5h1.5v0.5h-1.5zM258 100.5h3v0.5h-3zM274.5 100.5h1.5v0.5h-1.5zM279 100.5h2v0.5h-2zM284 100.5h3.5v0.5h-3.5zM299 100.5h1v0.5h-1zM302 100.5h5.5v0.5h-5.5zM310 100.5h3.5v0.5h-3.5zM319.5 100.5h3v0.5h-3zM335 100.5h2.5v0.5h-2.5zM348.5 100.5h11.5v0.5h-11.5zM216.5 101h1.5v0.5h-1.5zM221.5 101h3v0.5h-3zM226 101h3.5v0.5h-3.5zM232.5 101h3.5v0.5h-3.5zM240.5 101h1v0.5h-1zM249.5 101h1.5v0.5h-1.5zM258.5 101h3.5v0.5h-3.5zM266 101h0.5v0.5h-0.5zM279.5 101h1.5v0.5h-1.5zM284 101h4v0.5h-4zM299.5 101h0.5v0.5h-0.5zM302 101h2v0.5h-2zM304.5 101h3v0.5h-3zM310.5 101h3v0.5h-3zM318.5 101h4.5v0.5h-4.5zM334.5 101h3.5v0.5h-3.5zM349 101h11.5v0.5h-11.5zM196 101.5h1v0.5h-1zM213.5 101.5h1.5v0.5h-1.5zM216 101.5h2.5v0.5h-2.5zM221.5 101.5h3v0.5h-3zM227 101.5h3v0.5h-3zM232.5 101.5h3.5v0.5h-3.5zM249.5 101.5h1.5v0.5h-1.5zM258.5 101.5h4v0.5h-4zM280.5 101.5h1v0.5h-1zM284.5 101.5h4v0.5h-4zM299.5 101.5h0.5v0.5h-0.5zM302.5 101.5h1v0.5h-1zM305 101.5h2.5v0.5h-2.5zM311 101.5h2.5v0.5h-2.5zM318.5 101.5h3.5v0.5h-3.5zM323.5 101.5h1v0.5h-1zM334.5 101.5h4.5v0.5h-4.5zM349 101.5h13v0.5h-13zM196 102h1.5v0.5h-1.5zM204.5 102h4v0.5h-4zM213.5 102h5v0.5h-5zM221 102h3.5v0.5h-3.5zM228 102h2.5v0.5h-2.5zM232.5 102h4v0.5h-4zM250 102h0.5v0.5h-0.5zM258.5 102h4.5v0.5h-4.5zM281 102h1.5v0.5h-1.5zM285 102h4v0.5h-4zM305 102h3v0.5h-3zM311.5 102h2v0.5h-2zM319 102h1.5v0.5h-1.5zM323.5 102h1.5v0.5h-1.5zM335 102h4.5v0.5h-4.5zM349.5 102h12.5v0.5h-12.5zM196 102.5h1.5v0.5h-1.5zM205 102.5h4v0.5h-4zM214 102.5h4.5v0.5h-4.5zM221 102.5h4.5v0.5h-4.5zM228.5 102.5h2v0.5h-2zM233 102.5h4.5v0.5h-4.5zM258.5 102.5h4.5v0.5h-4.5zM272 102.5h0.5v0.5h-0.5zM282 102.5h2v0.5h-2zM285 102.5h4v0.5h-4zM302.5 102.5h0.5v0.5h-0.5zM305.5 102.5h2.5v0.5h-2.5zM311.5 102.5h2v0.5h-2zM323.5 102.5h2v0.5h-2zM335.5 102.5h4.5v0.5h-4.5zM350 102.5h12v0.5h-12zM196 103h2v0.5h-2zM205 103h5v0.5h-5zM214.5 103h3v0.5h-3zM224.5 103h2.5v0.5h-2.5zM229 103h1.5v0.5h-1.5zM233 103h5v0.5h-5zM255 103h0.5v0.5h-0.5zM259 103h4.5v0.5h-4.5zM271.5 103h1.5v0.5h-1.5zM282.5 103h6.5v0.5h-6.5zM302 103h1v0.5h-1zM305.5 103h3.5v0.5h-3.5zM312.5 103h0.5v0.5h-0.5zM323.5 103h2v0.5h-2zM336 103h4.5v0.5h-4.5zM351 103h11v0.5h-11zM196 103.5h2v0.5h-2zM205.5 103.5h5v0.5h-5zM215.5 103.5h1.5v0.5h-1.5zM225 103.5h2.5v0.5h-2.5zM233 103.5h5v0.5h-5zM255 103.5h0.5v0.5h-0.5zM258.5 103.5h5.5v0.5h-5.5zM271.5 103.5h1.5v0.5h-1.5zM275 103.5h2v0.5h-2zM277.5 103.5h0.5v0.5h-0.5zM283 103.5h6v0.5h-6zM305 103.5h5v0.5h-5zM314 103.5h1v0.5h-1zM324 103.5h1.5v0.5h-1.5zM336.5 103.5h4v0.5h-4zM351.5 103.5h2.5v0.5h-2.5zM356 103.5h6v0.5h-6zM196 104h2.5v0.5h-2.5zM206 104h5v0.5h-5zM216.5 104h0.5v0.5h-0.5zM226 104h1.5v0.5h-1.5zM233.5 104h4v0.5h-4zM257.5 104h7v0.5h-7zM271.5 104h1v0.5h-1zM275 104h3v0.5h-3zM283.5 104h3.5v0.5h-3.5zM288.5 104h0.5v0.5h-0.5zM304.5 104h6v0.5h-6zM312.5 104h2.5v0.5h-2.5zM324.5 104h2v0.5h-2zM337 104h4v0.5h-4zM352 104h1.5v0.5h-1.5zM357.5 104h4.5v0.5h-4.5zM196.5 104.5h3v0.5h-3zM206.5 104.5h4.5v0.5h-4.5zM226.5 104.5h1.5v0.5h-1.5zM234.5 104.5h2.5v0.5h-2.5zM258 104.5h7.5v0.5h-7.5zM269 104.5h0.5v0.5h-0.5zM275 104.5h3v0.5h-3zM283.5 104.5h3.5v0.5h-3.5zM304.5 104.5h6.5v0.5h-6.5zM312.5 104.5h2.5v0.5h-2.5zM325 104.5h2v0.5h-2zM338.5 104.5h3v0.5h-3zM351.5 104.5h1.5v0.5h-1.5zM358.5 104.5h3.5v0.5h-3.5zM196.5 105h4.5v0.5h-4.5zM206.5 105h5v0.5h-5zM212.5 105h0.5v0.5h-0.5zM226.5 105h1.5v0.5h-1.5zM233 105h0.5v0.5h-0.5zM234.5 105h2.5v0.5h-2.5zM258 105h2.5v0.5h-2.5zM261.5 105h8.5v0.5h-8.5zM275.5 105h2.5v0.5h-2.5zM283.5 105h3.5v0.5h-3.5zM304.5 105h10.5v0.5h-10.5zM325.5 105h1.5v0.5h-1.5zM339 105h3v0.5h-3zM347.5 105h3v0.5h-3zM351 105h2v0.5h-2zM359 105h3v0.5h-3zM197 105.5h4.5v0.5h-4.5zM207 105.5h7v0.5h-7zM226.5 105.5h2v0.5h-2zM233 105.5h1v0.5h-1zM258 105.5h2.5v0.5h-2.5zM262 105.5h9.5v0.5h-9.5zM276 105.5h2.5v0.5h-2.5zM283.5 105.5h3.5v0.5h-3.5zM305 105.5h3.5v0.5h-3.5zM309.5 105.5h6v0.5h-6zM326 105.5h1v0.5h-1zM339.5 105.5h2v0.5h-2zM347.5 105.5h4.5v0.5h-4.5zM359.5 105.5h2.5v0.5h-2.5zM197 106h4.5v0.5h-4.5zM207.5 106h8v0.5h-8zM233 106h1v0.5h-1zM257 106h0.5v0.5h-0.5zM258.5 106h2v0.5h-2zM261.5 106h11v0.5h-11zM276.5 106h2.5v0.5h-2.5zM285 106h2.5v0.5h-2.5zM305 106h4v0.5h-4zM310 106h6v0.5h-6zM319 106h1v0.5h-1zM339.5 106h1v0.5h-1zM347.5 106h4v0.5h-4zM360 106h2v0.5h-2zM197 106.5h5.5v0.5h-5.5zM208 106.5h7.5v0.5h-7.5zM233 106.5h1v0.5h-1zM257 106.5h0.5v0.5h-0.5zM259.5 106.5h13v0.5h-13zM279 106.5h2.5v0.5h-2.5zM286 106.5h2.5v0.5h-2.5zM305.5 106.5h11.5v0.5h-11.5zM319 106.5h2v0.5h-2zM348 106.5h3.5v0.5h-3.5zM360.5 106.5h1.5v0.5h-1.5zM197.5 107h6.5v0.5h-6.5zM209.5 107h6v0.5h-6zM233.5 107h0.5v0.5h-0.5zM259.5 107h2.5v0.5h-2.5zM263 107h9.5v0.5h-9.5zM279 107h2.5v0.5h-2.5zM286.5 107h3v0.5h-3zM306 107h15v0.5h-15zM348.5 107h3v0.5h-3zM361 107h0.5v0.5h-0.5zM197.5 107.5h9v0.5h-9zM213.5 107.5h1.5v0.5h-1.5zM233.5 107.5h0.5v0.5h-0.5zM248 107.5h2v0.5h-2zM259 107.5h3v0.5h-3zM263.5 107.5h9v0.5h-9zM279.5 107.5h2v0.5h-2zM287 107.5h3v0.5h-3zM306 107.5h15.5v0.5h-15.5zM349 107.5h3v0.5h-3zM198 108h9v0.5h-9zM234 108h0.5v0.5h-0.5zM248 108h2.5v0.5h-2.5zM259 108h2.5v0.5h-2.5zM263.5 108h9v0.5h-9zM280 108h2v0.5h-2zM287.5 108h2.5v0.5h-2.5zM306 108h16v0.5h-16zM349 108h3v0.5h-3zM198 108.5h9.5v0.5h-9.5zM248 108.5h3v0.5h-3zM259 108.5h1v0.5h-1zM264 108.5h8.5v0.5h-8.5zM280.5 108.5h1.5v0.5h-1.5zM288 108.5h2v0.5h-2zM305.5 108.5h16.5v0.5h-16.5zM349.5 108.5h3v0.5h-3zM198.5 109h10.5v0.5h-10.5zM248.5 109h3v0.5h-3zM265 109h7.5v0.5h-7.5zM282 109h1v0.5h-1zM288 109h2v0.5h-2zM305 109h17.5v0.5h-17.5zM350 109h2.5v0.5h-2.5zM199 109.5h11v0.5h-11zM229.5 109.5h1v0.5h-1zM248.5 109.5h3v0.5h-3zM265.5 109.5h7v0.5h-7zM282.5 109.5h2v0.5h-2zM288 109.5h2.5v0.5h-2.5zM305 109.5h18v0.5h-18zM350.5 109.5h2v0.5h-2zM199.5 110h11v0.5h-11zM229 110h3v0.5h-3zM248 110h3.5v0.5h-3.5zM266.5 110h6v0.5h-6zM283 110h1.5v0.5h-1.5zM287 110h4v0.5h-4zM302 110h0.5v0.5h-0.5zM304.5 110h18.5v0.5h-18.5zM350.5 110h2.5v0.5h-2.5zM360 110h1v0.5h-1zM199.5 110.5h11v0.5h-11zM227.5 110.5h4.5v0.5h-4.5zM247.5 110.5h4v0.5h-4zM267 110.5h5.5v0.5h-5.5zM283.5 110.5h2v0.5h-2zM286 110.5h5.5v0.5h-5.5zM304.5 110.5h18.5v0.5h-18.5zM350.5 110.5h3v0.5h-3zM355 110.5h1.5v0.5h-1.5zM360 110.5h1v0.5h-1zM200.5 111h10.5v0.5h-10.5zM226.5 111h7v0.5h-7zM247.5 111h4v0.5h-4zM256 111h1v0.5h-1zM267 111h6v0.5h-6zM284 111h8.5v0.5h-8.5zM304.5 111h10v0.5h-10zM317 111h6v0.5h-6zM351 111h6v0.5h-6zM360 111h1.5v0.5h-1.5zM200.5 111.5h11.5v0.5h-11.5zM226 111.5h8.5v0.5h-8.5zM248 111.5h3.5v0.5h-3.5zM253.5 111.5h3.5v0.5h-3.5zM267.5 111.5h6v0.5h-6zM276 111.5h1v0.5h-1zM284.5 111.5h9v0.5h-9zM305 111.5h4.5v0.5h-4.5zM312.5 111.5h2v0.5h-2zM318 111.5h2.5v0.5h-2.5zM321 111.5h2.5v0.5h-2.5zM352 111.5h3v0.5h-3zM356.5 111.5h1v0.5h-1zM360.5 111.5h1.5v0.5h-1.5zM201 112h11.5v0.5h-11.5zM225.5 112h9.5v0.5h-9.5zM245 112h0.5v0.5h-0.5zM248.5 112h3v0.5h-3zM253.5 112h4v0.5h-4zM268 112h6v0.5h-6zM274.5 112h3v0.5h-3zM284.5 112h1v0.5h-1zM287 112h7.5v0.5h-7.5zM305.5 112h3.5v0.5h-3.5zM312.5 112h1.5v0.5h-1.5zM318.5 112h1.5v0.5h-1.5zM321.5 112h2v0.5h-2zM353 112h1.5v0.5h-1.5zM357 112h0.5v0.5h-0.5zM360.5 112h1.5v0.5h-1.5zM201 112.5h12v0.5h-12zM226 112.5h9v0.5h-9zM245 112.5h1v0.5h-1zM249.5 112.5h2v0.5h-2zM253 112.5h4.5v0.5h-4.5zM269 112.5h9v0.5h-9zM287 112.5h8v0.5h-8zM306 112.5h3.5v0.5h-3.5zM313 112.5h0.5v0.5h-0.5zM318.5 112.5h1v0.5h-1zM345.5 112.5h1v0.5h-1zM353.5 112.5h1v0.5h-1zM360.5 112.5h1.5v0.5h-1.5zM202.5 113h11v0.5h-11zM226.5 113h8.5v0.5h-8.5zM245.5 113h1.5v0.5h-1.5zM250.5 113h1v0.5h-1zM253.5 113h4.5v0.5h-4.5zM261.5 113h0.5v0.5h-0.5zM269.5 113h9v0.5h-9zM287.5 113h7.5v0.5h-7.5zM306 113h4v0.5h-4zM318.5 113h1.5v0.5h-1.5zM345.5 113h1v0.5h-1zM353.5 113h1.5v0.5h-1.5zM360.5 113h1.5v0.5h-1.5zM203 113.5h10.5v0.5h-10.5zM227 113.5h8v0.5h-8zM245.5 113.5h2v0.5h-2zM254 113.5h5v0.5h-5zM270 113.5h9v0.5h-9zM288 113.5h3v0.5h-3zM291.5 113.5h3.5v0.5h-3.5zM306.5 113.5h4v0.5h-4zM318.5 113.5h3.5v0.5h-3.5zM340.5 113.5h1v0.5h-1zM345.5 113.5h1v0.5h-1zM348 113.5h1.5v0.5h-1.5zM354 113.5h1.5v0.5h-1.5zM359 113.5h3v0.5h-3zM203 114h10.5v0.5h-10.5zM228 114h7v0.5h-7zM246 114h2v0.5h-2zM254.5 114h5v0.5h-5zM270 114h9v0.5h-9zM288.5 114h2.5v0.5h-2.5zM292 114h3v0.5h-3zM307 114h4v0.5h-4zM318.5 114h3v0.5h-3zM340.5 114h2v0.5h-2zM348 114h2v0.5h-2zM354 114h1.5v0.5h-1.5zM358.5 114h3.5v0.5h-3.5zM204 114.5h10v0.5h-10zM228 114.5h7v0.5h-7zM246 114.5h3v0.5h-3zM255 114.5h5.5v0.5h-5.5zM269.5 114.5h9.5v0.5h-9.5zM289 114.5h1.5v0.5h-1.5zM292.5 114.5h3.5v0.5h-3.5zM307.5 114.5h4v0.5h-4zM319 114.5h2.5v0.5h-2.5zM340.5 114.5h3v0.5h-3zM348.5 114.5h2v0.5h-2zM354 114.5h2v0.5h-2zM358.5 114.5h3.5v0.5h-3.5zM204.5 115h6.5v0.5h-6.5zM211.5 115h2.5v0.5h-2.5zM228 115h7v0.5h-7zM246.5 115h4v0.5h-4zM255.5 115h5.5v0.5h-5.5zM264.5 115h1v0.5h-1zM269 115h7.5v0.5h-7.5zM285 115h1v0.5h-1zM292.5 115h4v0.5h-4zM308.5 115h3v0.5h-3zM319 115h2v0.5h-2zM341 115h4v0.5h-4zM350 115h0.5v0.5h-0.5zM354 115h2v0.5h-2zM357.5 115h4.5v0.5h-4.5zM205 115.5h10v0.5h-10zM228.5 115.5h6.5v0.5h-6.5zM247 115.5h3.5v0.5h-3.5zM255.5 115.5h1v0.5h-1zM258 115.5h3.5v0.5h-3.5zM264 115.5h1.5v0.5h-1.5zM269 115.5h8v0.5h-8zM281 115.5h1.5v0.5h-1.5zM283.5 115.5h3.5v0.5h-3.5zM293 115.5h4v0.5h-4zM309 115.5h3v0.5h-3zM313.5 115.5h1.5v0.5h-1.5zM341.5 115.5h3.5v0.5h-3.5zM351.5 115.5h4.5v0.5h-4.5zM357 115.5h5v0.5h-5zM205 116h10.5v0.5h-10.5zM228.5 116h7v0.5h-7zM248 116h2.5v0.5h-2.5zM258.5 116h3.5v0.5h-3.5zM263.5 116h2v0.5h-2zM269 116h8v0.5h-8zM280 116h8v0.5h-8zM293 116h4v0.5h-4zM309.5 116h5.5v0.5h-5.5zM342.5 116h2.5v0.5h-2.5zM352 116h2.5v0.5h-2.5zM357.5 116h4.5v0.5h-4.5zM205.5 116.5h10.5v0.5h-10.5zM229 116.5h6.5v0.5h-6.5zM249 116.5h1v0.5h-1zM258.5 116.5h3.5v0.5h-3.5zM263 116.5h2.5v0.5h-2.5zM268.5 116.5h9v0.5h-9zM279.5 116.5h9.5v0.5h-9.5zM297.5 116.5h1v0.5h-1zM309.5 116.5h2v0.5h-2zM312 116.5h3.5v0.5h-3.5zM343.5 116.5h1.5v0.5h-1.5zM352 116.5h2v0.5h-2zM358 116.5h4v0.5h-4zM205 117h11.5v0.5h-11.5zM229.5 117h6.5v0.5h-6.5zM258.5 117h2.5v0.5h-2.5zM262.5 117h3v0.5h-3zM268.5 117h9.5v0.5h-9.5zM281 117h9v0.5h-9zM297.5 117h4v0.5h-4zM312.5 117h3.5v0.5h-3.5zM344 117h1.5v0.5h-1.5zM352.5 117h1.5v0.5h-1.5zM360 117h2v0.5h-2zM200 117.5h1.5v0.5h-1.5zM205 117.5h11.5v0.5h-11.5zM229.5 117.5h7v0.5h-7zM258.5 117.5h2.5v0.5h-2.5zM263 117.5h2v0.5h-2zM268 117.5h10v0.5h-10zM281.5 117.5h9v0.5h-9zM298 117.5h3.5v0.5h-3.5zM313.5 117.5h3v0.5h-3zM322 117.5h1v0.5h-1zM344.5 117.5h1.5v0.5h-1.5zM353.5 117.5h0.5v0.5h-0.5zM360.5 117.5h1.5v0.5h-1.5zM200.5 118h1v0.5h-1zM203.5 118h9v0.5h-9zM213 118h3v0.5h-3zM230 118h7.5v0.5h-7.5zM259 118h1.5v0.5h-1.5zM266 118h1.5v0.5h-1.5zM268 118h10v0.5h-10zM281.5 118h9.5v0.5h-9.5zM298 118h4v0.5h-4zM313.5 118h3.5v0.5h-3.5zM322 118h1v0.5h-1zM203 118.5h5.5v0.5h-5.5zM210.5 118.5h1.5v0.5h-1.5zM230 118.5h8v0.5h-8zM266 118.5h12v0.5h-12zM281.5 118.5h9.5v0.5h-9.5zM298.5 118.5h3.5v0.5h-3.5zM313.5 118.5h4v0.5h-4zM321.5 118.5h1.5v0.5h-1.5zM203 119h6v0.5h-6zM231.5 119h7v0.5h-7zM260.5 119h1v0.5h-1zM266.5 119h11v0.5h-11zM281.5 119h9.5v0.5h-9.5zM299.5 119h2.5v0.5h-2.5zM313 119h5v0.5h-5zM321.5 119h1.5v0.5h-1.5zM203 119.5h6v0.5h-6zM232.5 119.5h6.5v0.5h-6.5zM254.5 119.5h0.5v0.5h-0.5zM260 119.5h1.5v0.5h-1.5zM268 119.5h7.5v0.5h-7.5zM276.5 119.5h1v0.5h-1zM282 119.5h9.5v0.5h-9.5zM300 119.5h2v0.5h-2zM312.5 119.5h6v0.5h-6zM321.5 119.5h2v0.5h-2zM358 119.5h2v0.5h-2zM203 120h6.5v0.5h-6.5zM233.5 120h6v0.5h-6zM254.5 120h1v0.5h-1zM260 120h2v0.5h-2zM268 120h7.5v0.5h-7.5zM282.5 120h9.5v0.5h-9.5zM300.5 120h1.5v0.5h-1.5zM310 120h1.5v0.5h-1.5zM312 120h6.5v0.5h-6.5zM321.5 120h3v0.5h-3zM358 120h2v0.5h-2zM204.5 120.5h5v0.5h-5zM234 120.5h6v0.5h-6zM254 120.5h2v0.5h-2zM260 120.5h2v0.5h-2zM268.5 120.5h7v0.5h-7zM283.5 120.5h5.5v0.5h-5.5zM290.5 120.5h1.5v0.5h-1.5zM310 120.5h9v0.5h-9zM322 120.5h3v0.5h-3zM335 120.5h1v0.5h-1zM337 120.5h1.5v0.5h-1.5zM358 120.5h2.5v0.5h-2.5zM205.5 121h4v0.5h-4zM234 121h6.5v0.5h-6.5zM254 121h2v0.5h-2zM260 121h2v0.5h-2zM268.5 121h7v0.5h-7zM284 121h4.5v0.5h-4.5zM309.5 121h9.5v0.5h-9.5zM323 121h1v0.5h-1zM335.5 121h4v0.5h-4zM344.5 121h2.5v0.5h-2.5zM359 121h2v0.5h-2zM206 121.5h3.5v0.5h-3.5zM212 121.5h1v0.5h-1zM233.5 121.5h2v0.5h-2zM237 121.5h4v0.5h-4zM254 121.5h2v0.5h-2zM260.5 121.5h1v0.5h-1zM269 121.5h6.5v0.5h-6.5zM285.5 121.5h3v0.5h-3zM291.5 121.5h0.5v0.5h-0.5zM309.5 121.5h10v0.5h-10zM336.5 121.5h4v0.5h-4zM343 121.5h4.5v0.5h-4.5zM359.5 121.5h1v0.5h-1zM196 122h0.5v0.5h-0.5zM206.5 122h3v0.5h-3zM212 122h1.5v0.5h-1.5zM233.5 122h2.5v0.5h-2.5zM237.5 122h4v0.5h-4zM251 122h1v0.5h-1zM254 122h2v0.5h-2zM269.5 122h6v0.5h-6zM290.5 122h4.5v0.5h-4.5zM309 122h12v0.5h-12zM332 122h0.5v0.5h-0.5zM337.5 122h4v0.5h-4zM342 122h6.5v0.5h-6.5zM196 122.5h0.5v0.5h-0.5zM207 122.5h3v0.5h-3zM212 122.5h2v0.5h-2zM233.5 122.5h3v0.5h-3zM237.5 122.5h4v0.5h-4zM244.5 122.5h0.5v0.5h-0.5zM251 122.5h1.5v0.5h-1.5zM254.5 122.5h2v0.5h-2zM270.5 122.5h5.5v0.5h-5.5zM290.5 122.5h5v0.5h-5zM309 122.5h1.5v0.5h-1.5zM312 122.5h10.5v0.5h-10.5zM332 122.5h1v0.5h-1zM338 122.5h10.5v0.5h-10.5zM196 123h1v0.5h-1zM208.5 123h1.5v0.5h-1.5zM211.5 123h3v0.5h-3zM233.5 123h3.5v0.5h-3.5zM237.5 123h4.5v0.5h-4.5zM243.5 123h2.5v0.5h-2.5zM250.5 123h2.5v0.5h-2.5zM254.5 123h2v0.5h-2zM271.5 123h4.5v0.5h-4.5zM290 123h8.5v0.5h-8.5zM305 123h1v0.5h-1zM312.5 123h10.5v0.5h-10.5zM332 123h1.5v0.5h-1.5zM339 123h10v0.5h-10zM196 123.5h1v0.5h-1zM208.5 123.5h6v0.5h-6zM235.5 123.5h11v0.5h-11zM250.5 123.5h2.5v0.5h-2.5zM254.5 123.5h2.5v0.5h-2.5zM272 123.5h4v0.5h-4zM290 123.5h9v0.5h-9zM304.5 123.5h1.5v0.5h-1.5zM312.5 123.5h11v0.5h-11zM332.5 123.5h1v0.5h-1zM340 123.5h9.5v0.5h-9.5zM358.5 123.5h0.5v0.5h-0.5zM196 124h1.5v0.5h-1.5zM208.5 124h7v0.5h-7zM236 124h9.5v0.5h-9.5zM250 124h3v0.5h-3zM272.5 124h3v0.5h-3zM290 124h9v0.5h-9zM303.5 124h2v0.5h-2zM313 124h11.5v0.5h-11.5zM333 124h0.5v0.5h-0.5zM340.5 124h9.5v0.5h-9.5zM196 124.5h2v0.5h-2zM209 124.5h6.5v0.5h-6.5zM236 124.5h9.5v0.5h-9.5zM247 124.5h2v0.5h-2zM250 124.5h3.5v0.5h-3.5zM273.5 124.5h1v0.5h-1zM290 124.5h8.5v0.5h-8.5zM303 124.5h2.5v0.5h-2.5zM313.5 124.5h11.5v0.5h-11.5zM340.5 124.5h6.5v0.5h-6.5zM348.5 124.5h1.5v0.5h-1.5zM196 125h2v0.5h-2zM209 125h7v0.5h-7zM236 125h9.5v0.5h-9.5zM247 125h2v0.5h-2zM250.5 125h4v0.5h-4zM277.5 125h0.5v0.5h-0.5zM290 125h8.5v0.5h-8.5zM303 125h3v0.5h-3zM314 125h11v0.5h-11zM342 125h4.5v0.5h-4.5zM196 125.5h2.5v0.5h-2.5zM209.5 125.5h7v0.5h-7zM234 125.5h12v0.5h-12zM251 125.5h4.5v0.5h-4.5zM277.5 125.5h0.5v0.5h-0.5zM282 125.5h1.5v0.5h-1.5zM290 125.5h8.5v0.5h-8.5zM303 125.5h3.5v0.5h-3.5zM314 125.5h2v0.5h-2zM317 125.5h8.5v0.5h-8.5zM343 125.5h3.5v0.5h-3.5zM196 126h3v0.5h-3zM209.5 126h7v0.5h-7zM233.5 126h4v0.5h-4zM238.5 126h7.5v0.5h-7.5zM251 126h6v0.5h-6zM282 126h2v0.5h-2zM290 126h6v0.5h-6zM302.5 126h4v0.5h-4zM314 126h1.5v0.5h-1.5zM317 126h8.5v0.5h-8.5zM333.5 126h1v0.5h-1zM345 126h2v0.5h-2zM196.5 126.5h3.5v0.5h-3.5zM209.5 126.5h4v0.5h-4zM214.5 126.5h2.5v0.5h-2.5zM234 126.5h12v0.5h-12zM251 126.5h6.5v0.5h-6.5zM282 126.5h2.5v0.5h-2.5zM290.5 126.5h5.5v0.5h-5.5zM302 126.5h5v0.5h-5zM314.5 126.5h1v0.5h-1zM317 126.5h8.5v0.5h-8.5zM333 126.5h2v0.5h-2zM345.5 126.5h4v0.5h-4zM360.5 126.5h1v0.5h-1zM197.5 127h3.5v0.5h-3.5zM209.5 127h4.5v0.5h-4.5zM214.5 127h3v0.5h-3zM234 127h10v0.5h-10zM245 127h0.5v0.5h-0.5zM251.5 127h6.5v0.5h-6.5zM272.5 127h1.5v0.5h-1.5zM282.5 127h2v0.5h-2zM291 127h4.5v0.5h-4.5zM302 127h5v0.5h-5zM317.5 127h8v0.5h-8zM332.5 127h2.5v0.5h-2.5zM346 127h4v0.5h-4zM361 127h0.5v0.5h-0.5zM198 127.5h3.5v0.5h-3.5zM209.5 127.5h9.5v0.5h-9.5zM234 127.5h9v0.5h-9zM245 127.5h1v0.5h-1zM252 127.5h6.5v0.5h-6.5zM272.5 127.5h2.5v0.5h-2.5zM283 127.5h2v0.5h-2zM291.5 127.5h4v0.5h-4zM302.5 127.5h5v0.5h-5zM318.5 127.5h7v0.5h-7zM329 127.5h6v0.5h-6zM346.5 127.5h4v0.5h-4zM198.5 128h3.5v0.5h-3.5zM210 128h9v0.5h-9zM234.5 128h8v0.5h-8zM245 128h1v0.5h-1zM252.5 128h6.5v0.5h-6.5zM273 128h2.5v0.5h-2.5zM283.5 128h2v0.5h-2zM293 128h3v0.5h-3zM303.5 128h6v0.5h-6zM320 128h5v0.5h-5zM328.5 128h7v0.5h-7zM347 128h5.5v0.5h-5.5zM198.5 128.5h4v0.5h-4zM211 128.5h8v0.5h-8zM227 128.5h1v0.5h-1zM235 128.5h7.5v0.5h-7.5zM252.5 128.5h7v0.5h-7zM273.5 128.5h2v0.5h-2zM283.5 128.5h2v0.5h-2zM293.5 128.5h2v0.5h-2zM298.5 128.5h1v0.5h-1zM304 128.5h6.5v0.5h-6.5zM320 128.5h5v0.5h-5zM328.5 128.5h7v0.5h-7zM348 128.5h4.5v0.5h-4.5zM199 129h3.5v0.5h-3.5zM211.5 129h7.5v0.5h-7.5zM227 129h2.5v0.5h-2.5zM235 129h7.5v0.5h-7.5zM253 129h7v0.5h-7zM274 129h1v0.5h-1zM280 129h0.5v0.5h-0.5zM284 129h1.5v0.5h-1.5zM293.5 129h1.5v0.5h-1.5zM298.5 129h1.5v0.5h-1.5zM304.5 129h7v0.5h-7zM320 129h4.5v0.5h-4.5zM328.5 129h7.5v0.5h-7.5zM348 129h4.5v0.5h-4.5zM196 129.5h7v0.5h-7zM211.5 129.5h2.5v0.5h-2.5zM215 129.5h4v0.5h-4zM227 129.5h3.5v0.5h-3.5zM235 129.5h7v0.5h-7zM247.5 129.5h1.5v0.5h-1.5zM249.5 129.5h1.5v0.5h-1.5zM253 129.5h7.5v0.5h-7.5zM293.5 129.5h1.5v0.5h-1.5zM298.5 129.5h2v0.5h-2zM306 129.5h0.5v0.5h-0.5zM308 129.5h4v0.5h-4zM317 129.5h1v0.5h-1zM320 129.5h4v0.5h-4zM326 129.5h1v0.5h-1zM329.5 129.5h6.5v0.5h-6.5zM348 129.5h5v0.5h-5zM196 130h7.5v0.5h-7.5zM212 130h0.5v0.5h-0.5zM215 130h5.5v0.5h-5.5zM227.5 130h4.5v0.5h-4.5zM235.5 130h6.5v0.5h-6.5zM247.5 130h1.5v0.5h-1.5zM249.5 130h2v0.5h-2zM253 130h8v0.5h-8zM282.5 130h1v0.5h-1zM293 130h2v0.5h-2zM299 130h1.5v0.5h-1.5zM308.5 130h6.5v0.5h-6.5zM316 130h8v0.5h-8zM326 130h1.5v0.5h-1.5zM330.5 130h2v0.5h-2zM334 130h2.5v0.5h-2.5zM348.5 130h5.5v0.5h-5.5zM196 130.5h0.5v0.5h-0.5zM197 130.5h7v0.5h-7zM217 130.5h4v0.5h-4zM228 130.5h5v0.5h-5zM235.5 130.5h6.5v0.5h-6.5zM250 130.5h1.5v0.5h-1.5zM253 130.5h8v0.5h-8zM282.5 130.5h1v0.5h-1zM291 130.5h4.5v0.5h-4.5zM297 130.5h0.5v0.5h-0.5zM308.5 130.5h16v0.5h-16zM326 130.5h1.5v0.5h-1.5zM334 130.5h2.5v0.5h-2.5zM348.5 130.5h6v0.5h-6zM197 131h7.5v0.5h-7.5zM217 131h4v0.5h-4zM228 131h6v0.5h-6zM236 131h6.5v0.5h-6.5zM253 131h8.5v0.5h-8.5zM277.5 131h1v0.5h-1zM285.5 131h1.5v0.5h-1.5zM291 131h6.5v0.5h-6.5zM303 131h0.5v0.5h-0.5zM308.5 131h16v0.5h-16zM326 131h2v0.5h-2zM330.5 131h2v0.5h-2zM334 131h2.5v0.5h-2.5zM348.5 131h7v0.5h-7zM197.5 131.5h3.5v0.5h-3.5zM201.5 131.5h3.5v0.5h-3.5zM207.5 131.5h0.5v0.5h-0.5zM217 131.5h4.5v0.5h-4.5zM228.5 131.5h6v0.5h-6zM236 131.5h7.5v0.5h-7.5zM253.5 131.5h8v0.5h-8zM277.5 131.5h1v0.5h-1zM281 131.5h1v0.5h-1zM285.5 131.5h2v0.5h-2zM291.5 131.5h6v0.5h-6zM309.5 131.5h15.5v0.5h-15.5zM326.5 131.5h1.5v0.5h-1.5zM329 131.5h6.5v0.5h-6.5zM349 131.5h7v0.5h-7zM196.5 132h0.5v0.5h-0.5zM197.5 132h3.5v0.5h-3.5zM202 132h4v0.5h-4zM207 132h1v0.5h-1zM217 132h4.5v0.5h-4.5zM229 132h5.5v0.5h-5.5zM236.5 132h7.5v0.5h-7.5zM254 132h8v0.5h-8zM281 132h1.5v0.5h-1.5zM285.5 132h2.5v0.5h-2.5zM293 132h5v0.5h-5zM310 132h15v0.5h-15zM327.5 132h7.5v0.5h-7.5zM349.5 132h6.5v0.5h-6.5zM196 132.5h5v0.5h-5zM202.5 132.5h5v0.5h-5zM217 132.5h4.5v0.5h-4.5zM229 132.5h6v0.5h-6zM237 132.5h7v0.5h-7zM254 132.5h8.5v0.5h-8.5zM281 132.5h2v0.5h-2zM287 132.5h1.5v0.5h-1.5zM293.5 132.5h5v0.5h-5zM310 132.5h8v0.5h-8zM321.5 132.5h3.5v0.5h-3.5zM328.5 132.5h6.5v0.5h-6.5zM351 132.5h5.5v0.5h-5.5zM196 133h5.5v0.5h-5.5zM204.5 133h3v0.5h-3zM217 133h3v0.5h-3zM221 133h0.5v0.5h-0.5zM229 133h6v0.5h-6zM237 133h7.5v0.5h-7.5zM254.5 133h9v0.5h-9zM281.5 133h1.5v0.5h-1.5zM288 133h1v0.5h-1zM294 133h5.5v0.5h-5.5zM310 133h8v0.5h-8zM321.5 133h3.5v0.5h-3.5zM328.5 133h2.5v0.5h-2.5zM332.5 133h3v0.5h-3zM351.5 133h1v0.5h-1zM353.5 133h3v0.5h-3zM196 133.5h5.5v0.5h-5.5zM205 133.5h2.5v0.5h-2.5zM217 133.5h1.5v0.5h-1.5zM229.5 133.5h6v0.5h-6zM237.5 133.5h7.5v0.5h-7.5zM256 133.5h7.5v0.5h-7.5zM282 133.5h0.5v0.5h-0.5zM294.5 133.5h6v0.5h-6zM310 133.5h7.5v0.5h-7.5zM321.5 133.5h3.5v0.5h-3.5zM329 133.5h1.5v0.5h-1.5zM334.5 133.5h1v0.5h-1zM340 133.5h1v0.5h-1zM353.5 133.5h3.5v0.5h-3.5zM196 134h5.5v0.5h-5.5zM205.5 134h2.5v0.5h-2.5zM217 134h1v0.5h-1zM230 134h6.5v0.5h-6.5zM239 134h6.5v0.5h-6.5zM257 134h7v0.5h-7zM295 134h6v0.5h-6zM310.5 134h7v0.5h-7zM321 134h4v0.5h-4zM329.5 134h1v0.5h-1zM340 134h1.5v0.5h-1.5zM354.5 134h2.5v0.5h-2.5zM197 134.5h5v0.5h-5zM206.5 134.5h1.5v0.5h-1.5zM220.5 134.5h1v0.5h-1zM224 134.5h1v0.5h-1zM232 134.5h4.5v0.5h-4.5zM240.5 134.5h5.5v0.5h-5.5zM258 134.5h7v0.5h-7zM295.5 134.5h6v0.5h-6zM311 134.5h6.5v0.5h-6.5zM318 134.5h1v0.5h-1zM321 134.5h4.5v0.5h-4.5zM340.5 134.5h1v0.5h-1zM355 134.5h2v0.5h-2zM198.5 135h4v0.5h-4zM220 135h2v0.5h-2zM223.5 135h1.5v0.5h-1.5zM233 135h4v0.5h-4zM241.5 135h6v0.5h-6zM258.5 135h7v0.5h-7zM290 135h1v0.5h-1zM295.5 135h6v0.5h-6zM311.5 135h1.5v0.5h-1.5zM314.5 135h4.5v0.5h-4.5zM321.5 135h4v0.5h-4zM355.5 135h3v0.5h-3zM199 135.5h3.5v0.5h-3.5zM209 135.5h0.5v0.5h-0.5zM219.5 135.5h3v0.5h-3zM224 135.5h1v0.5h-1zM233.5 135.5h3v0.5h-3zM242.5 135.5h5.5v0.5h-5.5zM259 135.5h7v0.5h-7zM270 135.5h0.5v0.5h-0.5zM295.5 135.5h5.5v0.5h-5.5zM314.5 135.5h2.5v0.5h-2.5zM321.5 135.5h4.5v0.5h-4.5zM356.5 135.5h2.5v0.5h-2.5zM199.5 136h4.5v0.5h-4.5zM209 136h0.5v0.5h-0.5zM217.5 136h1v0.5h-1zM219 136h4.5v0.5h-4.5zM233.5 136h3v0.5h-3zM243 136h6v0.5h-6zM259 136h7v0.5h-7zM269 136h2.5v0.5h-2.5zM277 136h2.5v0.5h-2.5zM284 136h1.5v0.5h-1.5zM295.5 136h1.5v0.5h-1.5zM297.5 136h3.5v0.5h-3.5zM315.5 136h1.5v0.5h-1.5zM321.5 136h5v0.5h-5zM357 136h5v0.5h-5zM200 136.5h4.5v0.5h-4.5zM217 136.5h6.5v0.5h-6.5zM234.5 136.5h1.5v0.5h-1.5zM243.5 136.5h5.5v0.5h-5.5zM258.5 136.5h7.5v0.5h-7.5zM269 136.5h3v0.5h-3zM277 136.5h2.5v0.5h-2.5zM283.5 136.5h2.5v0.5h-2.5zM295.5 136.5h1.5v0.5h-1.5zM298.5 136.5h2.5v0.5h-2.5zM321.5 136.5h1v0.5h-1zM323.5 136.5h3v0.5h-3zM357 136.5h5v0.5h-5zM202.5 137h2.5v0.5h-2.5zM217 137h6.5v0.5h-6.5zM235 137h1v0.5h-1zM244 137h1.5v0.5h-1.5zM247 137h2.5v0.5h-2.5zM253 137h1v0.5h-1zM258 137h8v0.5h-8zM268.5 137h4v0.5h-4zM277 137h3v0.5h-3zM283.5 137h2v0.5h-2zM295.5 137h1.5v0.5h-1.5zM299 137h2.5v0.5h-2.5zM325 137h2v0.5h-2zM357 137h5v0.5h-5zM202 137.5h3.5v0.5h-3.5zM217.5 137.5h6.5v0.5h-6.5zM235.5 137.5h1v0.5h-1zM247.5 137.5h2v0.5h-2zM253 137.5h2.5v0.5h-2.5zM257.5 137.5h8.5v0.5h-8.5zM268 137.5h5v0.5h-5zM276.5 137.5h3.5v0.5h-3.5zM283.5 137.5h1.5v0.5h-1.5zM289 137.5h2.5v0.5h-2.5zM296 137.5h1.5v0.5h-1.5zM299.5 137.5h2.5v0.5h-2.5zM325.5 137.5h1.5v0.5h-1.5zM345 137.5h1v0.5h-1zM357.5 137.5h4.5v0.5h-4.5zM202 138h4v0.5h-4zM217.5 138h4.5v0.5h-4.5zM247.5 138h2v0.5h-2zM253 138h3v0.5h-3zM257.5 138h8.5v0.5h-8.5zM267.5 138h5.5v0.5h-5.5zM277 138h3.5v0.5h-3.5zM283.5 138h1.5v0.5h-1.5zM289.5 138h2v0.5h-2zM296.5 138h1v0.5h-1zM299.5 138h3v0.5h-3zM311 138h1v0.5h-1zM325.5 138h1.5v0.5h-1.5zM341.5 138h1.5v0.5h-1.5zM345 138h1v0.5h-1zM359 138h3v0.5h-3zM201.5 138.5h5v0.5h-5zM218 138.5h4v0.5h-4zM247.5 138.5h2v0.5h-2zM253 138.5h3.5v0.5h-3.5zM257.5 138.5h9v0.5h-9zM267.5 138.5h6v0.5h-6zM277 138.5h3.5v0.5h-3.5zM283.5 138.5h2v0.5h-2zM299.5 138.5h4v0.5h-4zM311.5 138.5h1v0.5h-1zM326 138.5h1v0.5h-1zM341 138.5h2v0.5h-2zM360 138.5h2v0.5h-2zM201 139h7.5v0.5h-7.5zM218.5 139h3.5v0.5h-3.5zM247.5 139h2v0.5h-2zM253 139h3.5v0.5h-3.5zM259 139h15v0.5h-15zM278 139h2v0.5h-2zM282.5 139h3v0.5h-3zM300 139h4v0.5h-4zM307 139h1.5v0.5h-1.5zM312 139h0.5v0.5h-0.5zM326 139h0.5v0.5h-0.5zM341.5 139h2v0.5h-2zM200.5 139.5h8v0.5h-8zM219 139.5h3.5v0.5h-3.5zM247.5 139.5h2v0.5h-2zM253.5 139.5h3.5v0.5h-3.5zM259.5 139.5h15v0.5h-15zM278.5 139.5h1v0.5h-1zM283.5 139.5h2v0.5h-2zM300 139.5h4v0.5h-4zM307 139.5h1.5v0.5h-1.5zM342 139.5h1.5v0.5h-1.5zM200.5 140h8v0.5h-8zM218.5 140h4.5v0.5h-4.5zM247.5 140h2.5v0.5h-2.5zM253.5 140h4v0.5h-4zM259.5 140h4.5v0.5h-4.5zM265 140h10v0.5h-10zM278.5 140h1.5v0.5h-1.5zM284.5 140h0.5v0.5h-0.5zM300.5 140h2v0.5h-2zM328 140h1v0.5h-1zM342.5 140h0.5v0.5h-0.5zM202 140.5h6.5v0.5h-6.5zM217.5 140.5h6v0.5h-6zM247.5 140.5h2v0.5h-2zM254 140.5h3.5v0.5h-3.5zM259.5 140.5h4v0.5h-4zM266 140.5h1.5v0.5h-1.5zM269 140.5h6.5v0.5h-6.5zM278.5 140.5h2.5v0.5h-2.5zM285 140.5h0.5v0.5h-0.5zM301 140.5h1.5v0.5h-1.5zM328 140.5h1.5v0.5h-1.5zM202.5 141h1.5v0.5h-1.5zM205 141h4v0.5h-4zM211 141h1.5v0.5h-1.5zM217 141h7v0.5h-7zM247.5 141h2v0.5h-2zM251 141h2.5v0.5h-2.5zM254.5 141h3v0.5h-3zM259 141h4.5v0.5h-4.5zM269.5 141h6.5v0.5h-6.5zM278.5 141h5v0.5h-5zM285 141h2v0.5h-2zM301.5 141h1v0.5h-1zM309 141h2.5v0.5h-2.5zM328 141h3v0.5h-3zM346 141h1v0.5h-1zM205.5 141.5h7.5v0.5h-7.5zM217 141.5h7.5v0.5h-7.5zM247.5 141.5h6v0.5h-6zM254.5 141.5h3.5v0.5h-3.5zM259 141.5h5v0.5h-5zM270 141.5h6.5v0.5h-6.5zM278.5 141.5h5.5v0.5h-5.5zM285.5 141.5h2v0.5h-2zM307.5 141.5h4.5v0.5h-4.5zM328.5 141.5h3v0.5h-3zM346 141.5h1v0.5h-1zM207 142h6.5v0.5h-6.5zM217.5 142h7v0.5h-7zM247.5 142h17.5v0.5h-17.5zM270.5 142h7v0.5h-7zM278 142h6.5v0.5h-6.5zM285 142h2.5v0.5h-2.5zM309 142h3.5v0.5h-3.5zM314.5 142h0.5v0.5h-0.5zM329 142h2.5v0.5h-2.5zM346 142h1v0.5h-1zM207.5 142.5h9.5v0.5h-9.5zM217.5 142.5h5.5v0.5h-5.5zM247.5 142.5h17.5v0.5h-17.5zM271 142.5h2v0.5h-2zM273.5 142.5h13.5v0.5h-13.5zM309.5 142.5h3.5v0.5h-3.5zM313.5 142.5h2v0.5h-2zM329.5 142.5h2v0.5h-2zM346 142.5h1v0.5h-1zM198 143h0.5v0.5h-0.5zM200.5 143h1.5v0.5h-1.5zM207.5 143h15.5v0.5h-15.5zM228.5 143h0.5v0.5h-0.5zM235.5 143h0.5v0.5h-0.5zM247.5 143h18v0.5h-18zM271.5 143h1v0.5h-1zM274 143h13v0.5h-13zM310 143h6v0.5h-6zM330.5 143h3v0.5h-3zM351 143h1v0.5h-1zM196 143.5h0.5v0.5h-0.5zM197 143.5h2.5v0.5h-2.5zM200.5 143.5h2.5v0.5h-2.5zM208 143.5h15v0.5h-15zM228.5 143.5h1v0.5h-1zM247.5 143.5h18v0.5h-18zM274 143.5h6.5v0.5h-6.5zM281.5 143.5h0.5v0.5h-0.5zM284 143.5h3v0.5h-3zM292.5 143.5h1v0.5h-1zM304 143.5h1v0.5h-1zM310.5 143.5h6.5v0.5h-6.5zM330.5 143.5h3.5v0.5h-3.5zM350.5 143.5h2.5v0.5h-2.5zM196 144h4v0.5h-4zM200.5 144h2.5v0.5h-2.5zM208.5 144h15v0.5h-15zM248 144h11.5v0.5h-11.5zM261 144h5v0.5h-5zM274.5 144h6v0.5h-6zM284.5 144h2.5v0.5h-2.5zM288.5 144h1v0.5h-1zM293 144h0.5v0.5h-0.5zM304 144h1.5v0.5h-1.5zM311 144h6.5v0.5h-6.5zM330.5 144h3.5v0.5h-3.5zM351.5 144h2v0.5h-2zM196 144.5h5.5v0.5h-5.5zM208.5 144.5h14.5v0.5h-14.5zM248 144.5h11.5v0.5h-11.5zM262 144.5h5v0.5h-5zM276 144.5h5v0.5h-5zM286 144.5h0.5v0.5h-0.5zM304 144.5h3v0.5h-3zM311 144.5h8v0.5h-8zM330 144.5h4.5v0.5h-4.5zM352 144.5h1.5v0.5h-1.5zM196 145h5.5v0.5h-5.5zM209.5 145h13.5v0.5h-13.5zM248.5 145h11v0.5h-11zM264.5 145h3v0.5h-3zM276.5 145h4.5v0.5h-4.5zM305 145h2.5v0.5h-2.5zM310 145h9.5v0.5h-9.5zM330 145h4.5v0.5h-4.5zM352 145h1.5v0.5h-1.5zM196 145.5h6v0.5h-6zM212 145.5h11v0.5h-11zM247 145.5h12.5v0.5h-12.5zM264.5 145.5h3.5v0.5h-3.5zM276.5 145.5h5v0.5h-5zM305.5 145.5h3v0.5h-3zM309.5 145.5h10.5v0.5h-10.5zM330.5 145.5h4v0.5h-4zM352.5 145.5h1v0.5h-1z"/>
</g>
<rect x="196.5" y="4.5" width="165" height="141" fill="none" stroke="#2a2a2a" stroke-width="1.2"/>
<text x="201.3" y="20.6" font-size="14.3" font-weight="bold" fill="#111">(b)</text>
<text x="315.6" y="130.5" font-size="12.8" fill="#111">5 mm</text>
<rect x="311" y="135.5" width="42.3" height="2.5" fill="#111"/>
<!-- legend -->
<rect x="202.7" y="160.3" width="18.3" height="18" fill="#e6e6e6" stroke="#444" stroke-width="1.3"/>
<text x="226.2" y="168" font-size="11" fill="#222">α-spodumene</text>
<text x="226.2" y="181.1" font-size="11" fill="#222">64 wt%</text>
<rect x="302.7" y="160.3" width="18.3" height="18" fill="#58cfcf" stroke="#2e3a3a" stroke-width="1.3"/>
<text x="324.8" y="168" font-size="11" fill="#222">quartz</text>
<text x="324.8" y="181.1" font-size="11" fill="#222">36 wt%</text>

<!-- panel c -->
<rect x="383" y="4" width="153" height="173" fill="#898989"/>
<g clip-path="url(#cc)">
<g stroke="#6a6a6a" stroke-width="0.8" fill="none" opacity="0.8">
<path d="M523,4 L516,34"/>
<path d="M500,50 L494,62 L489,70"/>
<path d="M455,22 L470,18 L485,14 L498,12"/>
<path d="M440,28 L452,25"/>
<path d="M390,126 L400,124 L413,122"/>
<path d="M398,168 L410,165 L421,162"/>
<path d="M528,57 L536,65"/>
<path d="M470,150 L480,146"/>
</g>
<polygon points="383,4 404,4 384,160 383,177" fill="#050505"/>
<polygon points="401.5,25 404,27 406,32 404.5,33 402,29" fill="#111"/>
<polygon points="395.5,86.3 408.2,70.3 412,66.6 421.3,65.6 426,70.3 427,77 434.5,80.7 437.3,100 441,106 441.5,130 439,134.5 430,139 419.4,141.8 418.5,140.8 414.7,105 395,91" fill="#aaaaaa"/>
<polygon points="414.7,105 441,106 441.5,130 439,134.5 430,139 419.4,141.8 418.5,140.8" fill="#afafaf"/>
<g stroke="#979797" stroke-width="0.6" fill="none">
<path d="M414.7,105 L441,106"/><path d="M428,106 L429,139"/>
</g>
<polygon points="495.3,37.3 500.6,32 505.9,29.3 511.2,31.3 515.2,35.3 519.8,37.3 526.5,37.3 530.4,41.9 529.8,53.8 527.8,56.5 526.5,67.1 524.5,74.4 518.5,76.4 505.2,74.4 502.6,70.4 502.6,48.5 501.3,44.5 498.6,41.9" fill="#bababa"/>
<g fill="#2a2a2a">
<circle cx="505" cy="44" r="0.9"/><circle cx="520" cy="49" r="0.8"/><circle cx="525.5" cy="65" r="1"/><circle cx="511" cy="72" r="1"/>
<circle cx="529.5" cy="39" r="0.9"/><circle cx="503.5" cy="70" r="0.8"/><circle cx="514" cy="73" r="0.7"/><circle cx="527" cy="59" r="0.7"/>
<circle cx="413.8" cy="78.8" r="0.9"/><circle cx="429.8" cy="78.5" r="1"/><circle cx="434.5" cy="89" r="0.8"/><circle cx="440" cy="132" r="0.8"/>
<circle cx="401" cy="33" r="1.2"/><circle cx="400" cy="79" r="0.8"/><circle cx="404" cy="87" r="0.6"/><circle cx="392" cy="60" r="0.6"/>
<circle cx="496" cy="38" r="0.7"/>
</g>
</g>
<rect x="383.5" y="4.5" width="152" height="172" fill="none" stroke="#2a2a2a" stroke-width="1.2"/>
<text x="388.9" y="21.0" font-size="14.3" font-weight="bold" fill="#fff">(c)</text>
<g font-size="12" fill="#fff" stroke="#fff" stroke-width="0.3">
<text x="509.3" y="17.5">BSE</text>
<text x="420.8" y="33.9">quartz</text>
<text x="421.8" y="46.8">1 wt%</text>
<text x="454.8" y="79.1">albite</text>
<text x="454.8" y="92.7">7 wt%</text>
<text x="478.7" y="118">petalite</text>
<text x="478.7" y="130.7">92 wt%</text>
<text x="488" y="164.2" textLength="44" lengthAdjust="spacing">400 μm</text>
</g>
<rect x="494.8" y="168.4" width="31.4" height="2.4" fill="#fff"/>
<g stroke="#fff" stroke-width="1.7" fill="#fff">
<line x1="423.4" y1="51.5" x2="418.2" y2="79"/>
<polygon points="416.6,86.8 412.6,77.6 421.6,79.4" stroke="none"/>
<line x1="450.5" y1="95.8" x2="439.8" y2="108.4"/>
<polygon points="434.8,113.8 436.4,104.4 443.2,110.2" stroke="none"/>
</g>

<!-- plots -->
<g fill="none" stroke="#626262" stroke-width="1.3">
<polyline points="27.65,200.3 268.85,200.3 268.85,411.3 27.65,411.3 27.65,200.3"/>
<line x1="27.65" y1="411.3" x2="27.65" y2="415.3"/>
<line x1="57.80" y1="411.3" x2="57.80" y2="415.3"/>
<line x1="87.95" y1="411.3" x2="87.95" y2="415.3"/>
<line x1="118.10" y1="411.3" x2="118.10" y2="415.3"/>
<line x1="148.25" y1="411.3" x2="148.25" y2="415.3"/>
<line x1="178.40" y1="411.3" x2="178.40" y2="415.3"/>
<line x1="208.55" y1="411.3" x2="208.55" y2="415.3"/>
<line x1="238.70" y1="411.3" x2="238.70" y2="415.3"/>
<line x1="268.85" y1="411.3" x2="268.85" y2="415.3"/>
<polyline points="299.2,200.3 540.1,200.3 540.1,411.3 299.2,411.3 299.2,200.3"/>
<line x1="299.20" y1="411.3" x2="299.20" y2="415.3"/>
<line x1="329.30" y1="411.3" x2="329.30" y2="415.3"/>
<line x1="359.40" y1="411.3" x2="359.40" y2="415.3"/>
<line x1="389.50" y1="411.3" x2="389.50" y2="415.3"/>
<line x1="419.60" y1="411.3" x2="419.60" y2="415.3"/>
<line x1="449.70" y1="411.3" x2="449.70" y2="415.3"/>
<line x1="479.80" y1="411.3" x2="479.80" y2="415.3"/>
<line x1="509.90" y1="411.3" x2="509.90" y2="415.3"/>
<line x1="540.00" y1="411.3" x2="540.00" y2="415.3"/>
</g>
<g fill="none" stroke-width="1" stroke-linejoin="round">
<polyline stroke="#3b6994" points="27.6,299.4 30.7,299.4 33.8,299.4 36.9,299.4 39.9,299.4 43.0,299.4 46.1,299.4 49.2,299.3 50.5,299.2 51.1,299.1 51.6,299.0 52.0,298.9 52.2,298.8 52.5,298.7 52.7,298.5 52.9,298.1 53.1,297.6 53.3,296.3 53.5,293.9 53.8,289.7 54.0,284.1 54.2,279.5 54.4,279.9 54.6,284.8 54.9,290.3 55.1,294.3 55.3,296.5 55.5,297.7 55.7,298.2 56.0,298.5 56.2,298.7 56.4,298.8 56.6,298.9 57.1,299.0 57.5,299.1 58.4,299.2 60.1,299.3 63.2,299.4 66.3,299.4 69.3,299.4 72.4,299.4 75.5,299.4 78.6,299.3 81.6,299.3 84.3,299.2 85.2,299.1 85.6,299.1 85.8,299.0 86.0,298.9 86.2,298.6 86.5,298.2 86.7,297.3 86.9,296.0 87.1,294.5 87.3,293.7 87.6,294.4 87.8,295.9 88.0,297.2 88.2,298.0 88.4,298.5 88.7,298.6 89.3,298.7 89.5,298.6 89.8,298.3 90.0,297.9 90.2,297.3 90.4,296.5 90.6,295.9 90.9,296.0 91.1,296.5 91.3,296.7 91.5,296.4 91.7,295.1 92.0,292.3 92.2,287.7 92.4,282.0 92.6,278.2 92.8,279.8 93.1,284.7 93.3,289.0 93.5,290.7 93.7,289.0 93.9,284.0 94.2,276.6 94.4,270.4 94.6,271.2 94.8,278.4 95.0,286.2 95.2,291.8 95.5,295.0 95.7,296.6 95.9,297.4 96.1,297.9 96.3,298.2 96.6,298.4 96.8,298.5 97.0,298.7 97.2,298.8 97.7,298.9 98.1,299.0 98.8,299.1 99.9,299.2 102.1,299.3 105.1,299.3 108.2,299.3 111.3,299.3 114.3,299.3 117.4,299.3 119.4,299.2 120.3,299.1 120.9,299.0 121.1,298.9 121.4,298.8 121.6,298.6 121.8,298.3 122.0,297.7 122.2,296.7 122.5,295.4 122.7,294.5 122.9,294.7 123.1,295.8 123.3,296.9 123.6,297.7 123.8,298.0 124.0,298.2 124.2,298.2 124.4,298.1 124.7,297.9 124.9,297.7 125.1,297.5 125.3,297.1 125.5,296.7 125.8,296.0 126.0,294.9 126.2,293.1 126.4,289.2 126.6,281.3 126.9,267.1 127.1,246.5 127.3,226.3 127.5,221.5 127.7,237.2 127.9,259.0 128.2,276.2 128.4,286.5 128.6,291.8 128.8,294.3 129.0,295.6 129.3,296.4 129.5,297.0 129.7,297.4 129.9,297.7 130.1,298.0 130.4,298.2 130.6,298.3 130.8,298.4 131.0,298.5 131.2,298.6 131.7,298.8 132.1,298.9 132.8,298.9 134.3,298.9 134.5,298.8 134.8,298.6 135.0,298.2 135.2,297.4 135.4,296.2 135.6,294.9 135.8,294.4 136.1,295.2 136.3,296.5 136.5,297.6 136.7,298.4 136.9,298.7 137.2,298.9 137.4,299.0 137.8,299.1 138.9,299.2 141.6,299.1 142.0,299.0 142.2,298.8 142.4,298.6 142.7,298.0 142.9,297.1 143.1,295.7 143.3,294.6 143.5,294.6 143.8,295.7 144.0,297.0 144.2,298.0 144.4,298.5 144.6,298.8 144.8,299.0 145.3,299.1 148.4,299.0 148.8,298.8 149.0,298.8 149.2,298.7 149.5,298.5 149.7,298.4 149.9,298.1 150.1,297.7 150.3,297.1 150.6,295.6 150.8,292.7 151.0,287.6 151.2,280.4 151.4,273.8 151.7,272.9 151.9,278.8 152.1,286.1 152.3,291.8 152.5,295.1 152.7,296.8 153.0,297.6 153.2,298.0 153.4,298.3 153.6,298.4 153.8,298.6 154.1,298.7 154.5,298.8 155.4,298.9 156.5,298.8 156.9,298.6 157.1,298.6 157.4,298.5 157.6,298.3 157.8,298.1 158.0,297.9 158.2,297.6 158.5,297.1 158.7,296.2 158.9,294.5 159.1,291.1 159.3,284.4 159.6,273.8 159.8,261.5 160.0,254.5 160.2,259.8 160.4,272.0 160.7,283.0 160.9,290.3 161.1,294.2 161.3,296.1 161.5,297.0 161.7,297.5 162.0,297.9 162.2,298.2 162.4,298.4 162.6,298.5 162.8,298.6 163.1,298.7 163.5,298.9 163.9,299.0 164.6,299.0 167.5,299.0 167.7,298.9 167.9,298.7 168.1,298.4 168.3,297.8 168.6,296.6 168.8,294.8 169.0,292.9 169.2,292.2 169.4,293.5 169.6,295.4 169.9,297.1 170.1,298.1 170.3,298.6 170.5,298.8 170.7,299.0 171.2,299.1 171.8,299.2 173.4,299.3 176.5,299.3 178.0,299.2 178.2,299.1 178.4,299.0 178.6,298.7 178.9,298.3 179.1,297.8 179.3,297.5 179.5,297.8 179.7,298.3 180.0,298.7 180.2,299.0 180.4,299.1 180.8,299.2 183.9,299.3 185.0,299.2 185.5,299.1 185.7,299.0 185.9,298.9 186.1,298.7 186.3,298.2 186.5,297.3 186.8,295.8 187.0,293.6 187.2,291.7 187.4,291.7 187.6,293.5 187.9,295.6 188.1,297.2 188.3,298.2 188.5,298.7 188.7,298.9 189.0,299.0 189.4,299.1 190.1,299.2 193.1,299.3 194.7,299.2 195.3,299.1 195.8,298.9 196.0,298.8 196.2,298.7 196.4,298.4 196.6,297.8 196.9,296.6 197.1,294.5 197.3,291.3 197.5,288.0 197.7,287.0 198.0,289.3 198.2,292.7 198.4,295.5 198.6,297.2 198.8,298.1 199.1,298.5 199.3,298.7 199.5,298.9 199.7,299.0 200.2,299.1 200.8,299.2 203.0,299.0 203.2,298.9 203.4,298.7 203.7,298.3 203.9,297.4 204.1,296.1 204.3,294.5 204.5,293.5 204.8,294.1 205.0,295.7 205.2,297.2 205.4,298.1 205.6,298.7 205.9,298.9 206.1,299.0 206.5,299.2 207.4,299.2 209.6,299.2 209.8,299.1 210.0,298.9 210.3,298.5 210.5,297.9 210.7,297.1 210.9,296.6 211.1,296.8 211.3,297.5 211.6,298.3 211.8,298.7 212.0,299.0 212.2,299.1 212.7,299.2 214.2,299.3 217.3,299.3 220.1,299.2 220.8,299.1 221.0,299.1 221.2,298.9 221.4,298.6 221.7,298.1 221.9,297.1 222.1,295.8 222.3,294.7 222.5,294.8 222.8,295.9 223.0,297.1 223.2,298.0 223.4,298.4 223.6,298.4 223.9,298.1 224.1,297.3 224.3,296.4 224.5,295.7 224.7,295.9 225.0,296.8 225.2,297.8 225.4,298.4 225.6,298.8 225.8,299.0 226.1,299.1 226.5,299.2 229.6,299.1 230.0,299.0 230.2,298.9 230.4,298.6 230.7,298.0 230.9,296.9 231.1,295.4 231.3,294.0 231.5,293.7 231.8,294.9 232.0,296.5 232.2,297.7 232.4,298.4 232.6,298.7 232.9,298.9 233.3,298.9 233.5,298.8 233.7,298.5 234.0,297.9 234.2,297.2 234.4,296.7 234.6,296.8 234.8,297.4 235.1,298.1 235.3,298.7 235.5,299.0 235.7,299.1 236.1,299.2 237.2,299.3 240.3,299.3 241.4,299.2 241.6,299.2 241.9,299.0 242.1,298.8 242.3,298.3 242.5,297.6 242.7,296.9 243.0,296.6 243.2,297.1 243.4,297.8 243.6,298.5 243.8,298.9 244.0,299.1 244.3,299.2 244.9,299.3 248.0,299.3 249.1,299.2 249.5,299.1 249.8,299.0 250.0,298.8 250.2,298.4 250.4,297.6 250.6,296.3 250.9,294.7 251.1,293.6 251.3,294.1 251.5,295.6 251.7,297.1 252.0,298.1 252.2,298.7 252.4,298.9 252.6,299.1 253.0,299.2 253.9,299.3 257.0,299.3 258.5,299.2 259.2,299.1 259.6,299.0 259.9,298.9 260.1,298.7 260.3,298.5 260.5,298.0 260.7,297.0 260.9,295.1 261.2,292.1 261.4,288.7 261.6,286.9 261.8,288.5 262.0,291.9 262.3,294.9 262.5,296.9 262.7,297.9 262.9,298.4 263.1,298.6 263.4,298.7 263.8,298.7 264.0,298.5 264.2,298.0 264.5,297.2 264.7,296.2 264.9,295.6 265.1,296.0 265.3,297.0 265.6,297.9 265.8,298.5 266.0,298.9 266.2,299.0 266.4,299.1 266.9,299.2 268.0,299.3 268.9,299.3"/>
<polyline stroke="#9a4045" points="27.6,369.2 29.2,369.3 30.7,369.4 32.3,369.5 33.8,369.5 35.3,369.6 36.9,369.7 38.4,369.8 39.9,369.9 41.5,370.0 43.0,370.1 44.5,370.1 46.3,370.2 48.5,370.3 51.4,370.2 51.8,370.1 52.0,370.0 52.2,369.9 52.5,369.7 52.7,369.5 52.9,369.1 53.1,368.4 53.3,367.0 53.5,364.1 53.8,359.1 54.0,352.5 54.2,347.1 54.4,347.5 54.6,353.4 54.9,359.8 55.1,364.5 55.3,367.2 55.5,368.5 55.7,369.2 56.0,369.5 56.2,369.8 56.4,369.9 56.6,370.0 56.8,370.1 57.3,370.2 57.7,370.3 58.6,370.4 60.4,370.5 63.4,370.5 66.5,370.6 69.6,370.6 72.6,370.6 75.7,370.6 78.8,370.5 81.9,370.5 84.3,370.4 85.2,370.3 85.6,370.2 85.8,370.1 86.0,369.9 86.2,369.5 86.5,368.8 86.7,367.7 86.9,366.2 87.1,365.3 87.3,365.8 87.6,367.1 87.8,368.3 88.0,369.1 88.2,369.5 88.4,369.6 88.7,369.6 88.9,369.4 89.1,369.0 89.3,368.0 89.5,366.3 89.8,363.6 90.0,360.7 90.2,359.4 90.4,361.1 90.6,364.0 90.9,366.5 91.1,368.1 91.3,368.9 91.5,369.2 91.7,369.3 92.2,369.2 92.4,369.1 92.6,368.9 92.8,368.5 93.1,368.0 93.3,367.1 93.5,365.2 93.7,361.3 93.9,354.0 94.2,342.7 94.4,330.0 94.6,323.9 94.8,330.6 95.0,343.4 95.2,354.6 95.5,361.7 95.7,365.5 95.9,367.3 96.1,368.2 96.3,368.7 96.6,369.1 96.8,369.3 97.0,369.6 97.2,369.7 97.4,369.8 97.7,369.9 97.9,370.0 98.3,370.1 98.8,370.2 99.4,370.3 100.5,370.4 102.7,370.5 105.8,370.5 108.9,370.5 111.9,370.6 115.0,370.5 118.1,370.5 120.3,370.4 120.9,370.4 121.1,370.3 121.4,370.2 121.6,370.0 121.8,369.7 122.0,369.1 122.2,367.9 122.5,366.3 122.7,364.9 122.9,364.8 123.1,366.1 123.3,367.7 123.6,369.0 123.8,369.7 124.0,370.0 124.2,370.2 124.4,370.3 124.9,370.4 126.0,370.5 129.0,370.5 131.9,370.4 132.8,370.3 133.2,370.2 133.7,370.1 133.9,370.0 134.1,369.9 134.3,369.7 134.5,369.4 134.8,368.9 135.0,367.8 135.2,365.6 135.4,361.8 135.6,356.8 135.8,352.7 136.1,352.9 136.3,357.3 136.5,362.3 136.7,365.9 136.9,367.9 137.2,368.9 137.4,369.4 137.6,369.7 137.8,369.8 138.0,370.0 138.3,370.0 138.7,370.2 139.4,370.2 141.6,370.1 141.8,370.0 142.0,369.9 142.2,369.7 142.4,369.2 142.7,368.2 142.9,366.6 143.1,364.6 143.3,363.3 143.5,363.8 143.8,365.6 144.0,367.5 144.2,368.7 144.4,369.4 144.6,369.8 144.8,369.9 145.1,370.0 145.7,370.1 147.0,370.0 147.5,369.9 147.9,369.8 148.1,369.7 148.4,369.6 148.6,369.5 148.8,369.3 149.0,369.1 149.2,368.9 149.5,368.6 149.7,368.2 149.9,367.6 150.1,366.7 150.3,365.2 150.6,362.2 150.8,355.9 151.0,344.3 151.2,326.7 151.4,307.8 151.7,300.1 151.9,311.6 152.1,331.0 152.3,347.4 152.5,357.6 152.7,362.9 153.0,365.4 153.2,366.7 153.4,367.4 153.6,367.9 153.8,368.2 154.1,368.4 154.3,368.5 154.5,368.4 154.7,368.3 154.9,367.8 155.2,366.7 155.4,364.4 155.6,360.6 155.8,355.9 156.0,352.7 156.3,354.1 156.5,358.6 156.7,362.9 156.9,365.8 157.1,367.4 157.4,368.1 157.6,368.3 157.8,368.3 158.0,368.2 158.2,368.0 158.5,367.5 158.7,366.7 158.9,365.1 159.1,361.8 159.3,355.1 159.6,343.8 159.8,329.1 160.0,317.9 160.2,320.2 160.4,333.6 160.7,347.7 160.9,357.7 161.1,363.3 161.3,366.0 161.5,367.4 161.7,368.1 162.0,368.6 162.2,368.9 162.4,369.2 162.6,369.4 162.8,369.5 163.1,369.7 163.3,369.8 163.5,369.9 163.9,370.0 164.4,370.1 165.0,370.1 167.7,370.0 167.9,370.0 168.1,369.8 168.3,369.6 168.6,369.1 168.8,368.2 169.0,366.4 169.2,363.6 169.4,360.3 169.6,358.6 169.9,360.1 170.1,363.4 170.3,366.3 170.5,368.1 170.7,369.1 171.0,369.6 171.2,369.9 171.4,370.0 171.6,370.1 172.1,370.2 172.7,370.3 174.3,370.4 176.9,370.3 177.3,370.2 177.5,370.1 177.8,370.0 178.0,369.6 178.2,368.9 178.4,367.7 178.6,365.9 178.9,364.3 179.1,364.0 179.3,365.5 179.5,367.3 179.7,368.7 180.0,369.5 180.2,369.9 180.4,370.1 180.6,370.2 181.1,370.3 181.9,370.4 185.0,370.4 185.7,370.2 185.9,370.2 186.1,370.1 186.3,370.0 186.5,369.8 186.8,369.4 187.0,368.6 187.2,367.0 187.4,364.4 187.6,361.1 187.9,358.7 188.1,359.5 188.3,362.6 188.5,365.7 188.7,367.8 189.0,369.0 189.2,369.6 189.4,369.9 189.6,370.0 189.8,370.1 190.3,370.3 190.9,370.4 194.0,370.4 194.9,370.3 195.3,370.2 195.5,370.2 195.8,370.1 196.0,369.9 196.2,369.7 196.4,369.2 196.6,368.2 196.9,366.3 197.1,363.4 197.3,360.2 197.5,358.6 197.7,360.3 198.0,363.6 198.2,366.5 198.4,368.3 198.6,369.3 198.8,369.7 199.1,370.0 199.3,370.1 199.5,370.2 199.9,370.3 200.6,370.4 201.9,370.5 205.0,370.5 208.1,370.5 210.5,370.4 210.7,370.4 210.9,370.2 211.1,370.0 211.3,369.6 211.6,369.1 211.8,368.6 212.0,368.7 212.2,369.2 212.4,369.7 212.7,370.1 212.9,370.3 213.1,370.4 213.8,370.5 216.4,370.4 216.6,370.3 216.8,370.2 217.1,370.0 217.3,369.5 217.5,368.9 217.7,368.2 217.9,367.9 218.2,368.3 218.4,369.0 218.6,369.6 218.8,369.9 219.0,370.1 219.5,370.1 219.7,370.0 219.9,369.8 220.1,369.2 220.3,368.3 220.6,367.0 220.8,365.8 221.0,365.7 221.2,366.8 221.4,368.1 221.7,369.1 221.9,369.7 222.1,370.0 222.3,370.1 222.8,370.2 223.9,370.1 224.1,370.0 224.3,369.8 224.5,369.3 224.7,368.4 225.0,367.0 225.2,365.2 225.4,364.0 225.6,364.6 225.8,366.3 226.1,368.0 226.3,369.1 226.5,369.7 226.7,369.9 226.9,370.1 227.4,370.2 229.6,370.1 230.0,369.9 230.2,369.8 230.4,369.7 230.7,369.5 230.9,369.3 231.1,368.9 231.3,368.1 231.5,366.5 231.8,363.5 232.0,358.3 232.2,351.7 232.4,346.6 232.6,347.2 232.9,351.9 233.1,356.0 233.3,357.7 233.5,358.3 233.7,360.0 234.0,363.0 234.2,365.6 234.4,367.3 234.6,368.2 234.8,368.3 235.1,367.8 235.3,366.8 235.5,365.6 235.7,365.2 235.9,366.1 236.1,367.5 236.4,368.6 236.6,369.4 236.8,369.8 237.0,370.0 237.2,370.1 237.7,370.2 238.3,370.3 239.4,370.4 242.5,370.5 245.6,370.5 248.0,370.4 248.9,370.3 249.3,370.2 249.5,370.1 249.8,370.0 250.0,369.8 250.2,369.4 250.4,368.6 250.6,367.1 250.9,364.5 251.1,361.2 251.3,358.8 251.5,359.4 251.7,362.4 252.0,365.5 252.2,367.7 252.4,369.0 252.6,369.6 252.8,369.8 253.0,370.0 253.3,370.1 253.7,370.2 254.4,370.3 257.4,370.2 258.1,370.1 258.5,370.0 258.8,369.9 259.0,369.8 259.2,369.7 259.4,369.6 259.6,369.4 259.9,369.1 260.1,368.6 260.3,367.9 260.5,366.5 260.7,363.5 260.9,357.8 261.2,348.9 261.4,338.7 261.6,333.3 261.8,338.1 262.0,348.1 262.3,357.1 262.5,362.8 262.7,365.6 262.9,366.5 263.1,366.1 263.4,365.0 263.6,363.8 263.8,363.8 264.0,365.2 264.2,366.9 264.5,368.3 264.7,369.1 264.9,369.5 265.1,369.8 265.3,369.9 265.8,370.0 266.2,370.0 266.4,369.8 266.7,369.5 266.9,369.0 267.1,368.3 267.3,367.9 267.5,368.2 267.8,368.9 268.0,369.5 268.2,369.9 268.4,370.2 268.6,370.3 268.9,370.3"/>
<polyline stroke="#6f8c53" points="27.6,399.4 30.7,399.4 33.8,399.4 36.9,399.4 39.9,399.4 43.0,399.4 46.1,399.4 49.2,399.4 52.2,399.3 52.9,399.2 53.1,399.1 53.3,398.8 53.5,398.2 53.8,397.3 54.0,396.0 54.2,395.5 54.4,396.3 54.6,397.5 54.9,398.4 55.1,398.9 55.3,399.1 55.5,399.2 56.0,399.3 57.5,399.4 60.6,399.4 63.6,399.4 66.7,399.4 69.8,399.4 72.9,399.4 75.9,399.4 79.0,399.4 82.1,399.4 85.2,399.3 87.1,399.3 87.8,399.2 88.0,399.1 88.2,399.0 88.4,398.7 88.7,398.1 88.9,397.3 89.1,396.7 89.3,396.7 89.5,396.9 89.8,396.5 90.0,395.2 90.2,393.5 90.4,393.0 90.6,394.5 90.9,396.5 91.1,397.8 91.3,398.5 91.5,398.8 91.7,398.9 92.2,399.0 93.1,398.9 93.3,398.8 93.5,398.5 93.7,397.9 93.9,396.6 94.2,394.2 94.4,391.2 94.6,389.6 94.8,391.3 95.0,394.4 95.2,396.7 95.5,398.0 95.7,398.6 95.9,398.8 96.1,399.0 96.3,399.1 96.8,399.2 97.4,399.3 99.4,399.3 102.5,399.4 105.6,399.4 108.6,399.4 111.7,399.4 114.8,399.4 117.9,399.4 120.9,399.3 121.6,399.2 121.8,399.1 122.0,399.0 122.2,398.8 122.5,398.3 122.7,397.3 122.9,395.7 123.1,394.2 123.3,394.3 123.6,395.8 123.8,397.4 124.0,398.3 124.2,398.8 124.4,399.0 124.7,399.1 125.1,399.2 126.2,399.3 129.3,399.4 132.3,399.3 133.7,399.2 134.1,399.1 134.3,399.0 134.5,398.8 134.8,398.4 135.0,397.5 135.2,395.9 135.4,394.0 135.6,393.3 135.8,394.7 136.1,396.6 136.3,397.9 136.5,398.6 136.7,398.9 136.9,399.1 137.4,399.2 138.3,399.3 141.3,399.3 142.2,399.2 142.4,399.1 142.7,398.8 142.9,398.3 143.1,397.5 143.3,396.7 143.5,396.7 143.8,397.5 144.0,398.3 144.2,398.8 144.4,399.0 144.6,399.2 145.3,399.2 148.4,399.2 149.0,399.1 149.5,399.0 149.7,398.9 149.9,398.8 150.1,398.6 150.3,398.4 150.6,398.1 150.8,397.5 151.0,396.0 151.2,392.9 151.4,387.2 151.7,380.0 151.9,376.1 152.1,380.2 152.3,387.4 152.5,393.0 152.7,396.1 153.0,397.4 153.2,398.0 153.4,398.4 153.6,398.5 153.8,398.7 154.3,398.7 154.5,398.6 154.7,398.4 154.9,397.7 155.2,396.7 155.4,395.7 155.6,395.8 155.8,396.8 156.0,397.9 156.3,398.5 156.5,398.8 156.7,399.0 157.1,399.1 158.7,399.0 158.9,398.9 159.1,398.8 159.3,398.6 159.6,398.3 159.8,397.6 160.0,396.0 160.2,393.0 160.4,388.9 160.7,386.3 160.9,388.2 161.1,392.2 161.3,395.5 161.5,397.4 161.7,398.2 162.0,398.6 162.2,398.8 162.4,398.9 162.6,399.0 163.1,399.1 163.7,399.2 165.5,399.3 168.6,399.2 168.8,399.1 169.0,398.8 169.2,398.4 169.4,397.6 169.6,396.8 169.9,396.7 170.1,397.4 170.3,398.3 170.5,398.8 170.7,399.1 171.0,399.2 171.4,399.3 173.6,399.4 176.7,399.3 178.2,399.3 178.4,399.2 178.6,399.1 178.9,398.9 179.1,398.4 179.3,397.7 179.5,397.2 179.7,397.3 180.0,397.9 180.2,398.6 180.4,399.0 180.6,399.1 181.1,399.3 184.1,399.3 185.5,399.2 186.1,399.1 186.3,399.0 186.5,398.9 186.8,398.8 187.0,398.6 187.2,398.3 187.4,397.7 187.6,396.2 187.9,393.1 188.1,388.3 188.3,383.8 188.5,383.9 188.7,388.5 189.0,393.2 189.2,396.2 189.4,397.7 189.6,398.3 189.8,398.6 190.1,398.8 190.3,398.9 190.5,399.0 190.9,399.1 191.6,399.2 193.1,399.3 196.2,399.3 197.1,399.2 197.3,399.1 197.5,398.8 197.7,398.3 198.0,397.5 198.2,396.8 198.4,396.7 198.6,397.5 198.8,398.3 199.1,398.8 199.3,399.1 199.5,399.2 199.9,399.3 201.9,399.4 205.0,399.4 208.1,399.4 211.1,399.4 214.2,399.4 217.3,399.4 220.3,399.4 223.4,399.3 224.3,399.2 224.5,399.0 224.7,398.7 225.0,398.1 225.2,397.2 225.4,396.6 225.6,396.9 225.8,397.8 226.1,398.5 226.3,399.0 226.5,399.1 226.7,399.2 227.4,399.3 230.4,399.4 233.5,399.4 236.4,399.3 236.6,399.2 236.8,398.9 237.0,398.5 237.2,398.0 237.5,397.6 237.7,397.8 237.9,398.4 238.1,398.9 238.3,399.1 238.6,399.2 239.0,399.3 242.1,399.4 245.1,399.4 248.2,399.4 250.0,399.3 250.2,399.2 250.4,399.1 250.6,398.8 250.9,398.2 251.1,397.4 251.3,396.7 251.5,396.8 251.7,397.7 252.0,398.4 252.2,398.9 252.4,399.1 252.6,399.2 253.3,399.3 256.3,399.4 259.4,399.3 260.3,399.2 260.5,399.1 260.7,398.9 260.9,398.4 261.2,397.5 261.4,396.3 261.6,395.6 261.8,396.2 262.0,397.4 262.3,398.3 262.5,398.8 262.7,399.1 262.9,399.2 263.4,399.3 264.9,399.4 268.0,399.4 268.9,399.4"/>
<polyline stroke="#9a4045" points="299.2,355.6 302.3,355.6 305.3,355.6 308.4,355.6 311.5,355.6 313.0,355.5 313.2,355.4 313.4,355.3 313.7,355.1 313.9,354.8 314.1,354.4 314.3,354.1 314.5,354.0 314.8,354.2 315.0,354.6 315.2,354.9 315.4,355.2 315.6,355.3 315.9,355.4 316.5,355.5 319.6,355.5 320.7,355.4 320.9,355.3 321.1,355.1 321.3,354.9 321.5,354.6 321.8,354.3 322.0,354.3 322.2,354.5 322.4,354.8 322.6,355.1 322.9,355.3 323.1,355.4 323.5,355.5 326.6,355.6 329.7,355.6 332.7,355.5 334.9,355.5 335.6,355.3 335.8,355.2 336.0,355.1 336.2,354.7 336.4,354.2 336.7,353.5 336.9,352.8 337.1,352.4 337.3,352.7 337.5,353.4 337.8,354.1 338.0,354.7 338.2,355.0 338.4,355.2 338.6,355.3 339.1,355.4 340.4,355.5 343.5,355.5 346.5,355.5 349.6,355.5 351.6,355.4 352.2,355.3 352.4,355.1 352.7,354.9 352.9,354.5 353.1,353.9 353.3,353.1 353.5,352.2 353.8,351.6 354.0,351.9 354.2,352.7 354.4,353.6 354.6,354.3 354.9,354.8 355.1,355.1 355.3,355.2 355.7,355.3 356.6,355.4 359.7,355.4 362.7,355.4 363.6,355.2 363.8,355.2 364.1,355.0 364.3,354.8 364.5,354.3 364.7,353.7 364.9,352.9 365.2,352.3 365.4,352.1 365.6,352.7 365.8,353.4 366.0,354.1 366.2,354.6 366.5,354.9 366.7,355.1 366.9,355.1 367.6,355.2 369.5,355.1 370.0,355.0 370.2,354.9 370.4,354.7 370.6,354.3 370.8,353.8 371.1,353.1 371.3,352.6 371.5,352.4 371.7,352.8 371.9,353.5 372.2,354.0 372.4,354.5 372.6,354.7 372.8,354.8 375.0,354.7 375.4,354.6 375.9,354.5 376.3,354.4 376.5,354.3 376.8,354.2 377.0,354.1 377.2,354.0 377.4,353.9 377.6,353.8 377.9,353.6 378.1,353.4 378.3,353.2 378.5,353.0 378.7,352.7 379.0,352.3 379.2,351.9 379.4,351.4 379.6,350.8 379.8,350.1 380.1,349.1 380.3,347.8 380.5,345.9 380.7,342.9 380.9,337.5 381.1,328.2 381.4,313.1 381.6,290.9 381.8,263.1 382.0,235.6 382.2,220.7 382.5,228.0 382.7,251.8 382.9,278.8 383.1,300.6 383.3,313.8 383.6,317.5 383.8,312.4 384.0,299.9 384.2,283.6 384.4,270.6 384.7,268.4 384.9,273.9 385.1,277.9 385.3,277.5 385.5,277.8 385.7,286.4 386.0,302.1 386.2,318.3 386.4,331.0 386.6,339.4 386.8,344.4 387.1,347.2 387.3,348.9 387.5,349.9 387.7,350.6 387.9,351.2 388.2,351.6 388.4,351.9 388.6,352.1 388.8,352.2 389.3,352.2 389.5,352.1 389.7,351.8 389.9,351.2 390.1,349.9 390.3,347.6 390.6,343.2 390.8,336.5 391.0,327.7 391.2,319.2 391.4,315.9 391.7,320.5 391.9,329.4 392.1,338.1 392.3,344.6 392.5,348.7 392.8,350.9 393.0,352.2 393.2,352.9 393.4,353.3 393.6,353.6 393.9,353.9 394.1,354.1 394.3,354.2 394.5,354.3 394.7,354.4 395.0,354.5 395.4,354.6 396.0,354.7 397.6,354.6 397.8,354.5 398.0,354.2 398.2,353.8 398.5,353.0 398.7,351.7 398.9,349.5 399.1,346.9 399.3,344.6 399.6,344.1 399.8,345.8 400.0,348.4 400.2,350.8 400.4,352.6 400.6,353.6 400.9,354.2 401.1,354.5 401.3,354.7 401.5,354.8 401.7,354.9 402.2,355.0 402.8,355.1 404.8,355.0 405.0,354.9 405.2,354.9 405.5,354.7 405.7,354.5 405.9,354.2 406.1,353.5 406.3,352.2 406.6,350.3 406.8,347.8 407.0,345.4 407.2,344.5 407.4,345.8 407.7,348.3 407.9,350.7 408.1,352.5 408.3,353.6 408.5,354.2 408.8,354.6 409.0,354.8 409.2,354.9 409.6,355.0 410.7,354.9 410.9,354.8 411.2,354.6 411.4,354.1 411.6,353.4 411.8,352.3 412.0,351.0 412.3,350.0 412.5,349.9 412.7,350.8 412.9,351.9 413.1,352.8 413.4,353.1 413.6,353.0 413.8,352.4 414.0,351.9 414.2,351.7 414.5,352.2 414.7,353.0 414.9,353.8 415.1,354.3 415.3,354.6 415.5,354.8 416.0,354.9 416.4,354.8 416.6,354.7 416.9,354.6 417.1,354.4 417.3,354.0 417.5,353.5 417.7,352.7 418.0,351.7 418.2,350.5 418.4,349.1 418.6,347.7 418.8,346.7 419.1,346.5 419.3,347.2 419.5,348.4 419.7,349.8 419.9,351.2 420.1,352.3 420.4,353.2 420.6,353.9 420.8,354.3 421.0,354.6 421.2,354.8 421.5,355.0 421.7,355.0 422.1,355.2 422.8,355.3 423.7,355.4 425.4,355.4 428.5,355.5 431.5,355.5 434.6,355.5 435.9,355.4 436.4,355.3 436.6,355.2 436.8,355.0 437.0,354.7 437.2,354.2 437.5,353.4 437.7,352.4 437.9,351.4 438.1,351.1 438.3,351.7 438.6,352.7 438.8,353.7 439.0,354.4 439.2,354.8 439.4,355.1 439.6,355.2 440.1,355.3 441.0,355.4 444.0,355.5 445.8,355.4 446.4,355.3 446.9,355.2 447.1,355.1 447.3,355.0 447.5,354.8 447.8,354.5 448.0,354.0 448.2,353.0 448.4,351.4 448.6,349.2 448.9,347.0 449.1,345.7 449.3,346.4 449.5,348.5 449.7,350.7 449.9,352.3 450.2,353.1 450.4,353.3 450.6,352.9 450.8,352.2 451.0,351.6 451.3,351.4 451.5,352.1 451.7,353.0 451.9,353.8 452.1,354.4 452.4,354.8 452.6,355.0 452.8,355.2 453.2,355.3 453.9,355.4 457.0,355.4 458.7,355.3 459.4,355.2 459.6,355.2 459.8,355.1 460.0,355.0 460.2,354.8 460.5,354.7 460.7,354.5 460.9,354.4 461.1,354.2 461.3,354.0 461.6,353.9 461.8,353.7 462.0,353.6 462.2,353.5 462.4,353.4 462.7,353.2 462.9,353.0 463.1,352.7 463.3,352.5 463.5,352.3 463.8,352.2 464.0,352.2 464.2,352.3 464.4,352.5 464.6,352.7 464.8,353.0 465.1,353.3 465.3,353.6 465.5,353.9 465.7,354.2 465.9,354.4 466.2,354.6 466.4,354.8 466.6,354.9 466.8,355.0 467.0,355.1 467.5,355.2 468.1,355.3 469.7,355.4 472.7,355.4 473.4,355.3 473.8,355.2 474.3,355.1 474.7,355.0 475.1,354.8 475.6,354.7 476.2,354.6 476.9,354.7 477.3,354.9 477.8,355.0 478.2,355.1 478.6,355.3 479.1,355.3 479.7,355.4 481.7,355.5 484.8,355.5 487.9,355.5 490.9,355.4 491.8,355.3 492.2,355.2 492.5,355.1 492.7,355.0 492.9,354.8 493.1,354.6 493.3,354.4 493.5,354.2 493.8,354.0 494.0,353.9 494.4,353.8 494.6,353.9 494.9,354.1 495.1,354.3 495.3,354.5 495.5,354.7 495.7,354.9 496.0,355.0 496.2,355.1 496.4,355.2 496.8,355.3 499.9,355.2 500.3,355.1 500.6,355.0 500.8,354.9 501.0,354.7 501.2,354.4 501.4,353.8 501.7,352.8 501.9,351.3 502.1,349.3 502.3,347.4 502.5,346.4 502.8,346.6 503.0,346.8 503.2,346.3 503.4,344.8 503.6,343.4 503.8,343.5 504.1,345.7 504.3,348.5 504.5,351.0 504.7,352.7 504.9,353.8 505.2,354.4 505.4,354.7 505.6,354.9 505.8,355.0 506.0,355.1 506.5,355.2 506.9,355.3 507.8,355.4 509.5,355.5 512.6,355.5 515.7,355.5 517.7,355.4 518.5,355.3 519.0,355.2 519.2,355.1 519.4,355.0 519.6,354.9 519.8,354.8 520.1,354.5 520.3,354.0 520.5,353.1 520.7,351.6 520.9,349.1 521.2,345.9 521.4,342.8 521.6,341.6 521.8,343.2 522.0,346.4 522.3,349.5 522.5,351.8 522.7,353.2 522.9,354.1 523.1,354.5 523.3,354.7 523.6,354.8 523.8,354.9 524.2,355.0 524.9,354.9 525.1,354.8 525.3,354.6 525.5,354.3 525.8,353.9 526.0,353.4 526.2,352.7 526.4,351.9 526.6,351.2 526.9,350.7 527.1,350.6 527.3,351.0 527.5,351.7 527.7,352.5 527.9,353.2 528.2,353.9 528.4,354.3 528.6,354.7 528.8,354.9 529.0,355.1 529.3,355.2 529.7,355.3 530.4,355.4 531.7,355.5 534.7,355.5 537.8,355.6 540.0,355.6"/>
<polyline stroke="#6f8c53" points="299.2,397.5 302.3,397.5 305.3,397.5 308.4,397.5 311.5,397.5 314.5,397.5 317.6,397.5 320.7,397.5 323.7,397.5 326.8,397.5 329.9,397.5 332.9,397.5 336.0,397.4 336.2,397.3 336.4,397.2 336.7,396.9 336.9,396.5 337.1,396.3 337.3,396.5 337.5,396.8 337.8,397.1 338.0,397.3 338.4,397.4 341.5,397.5 344.6,397.5 347.6,397.5 350.7,397.5 352.9,397.4 353.1,397.3 353.3,397.2 353.5,396.9 353.8,396.5 354.0,396.3 354.2,396.5 354.4,396.9 354.6,397.2 354.9,397.3 355.3,397.4 358.4,397.5 361.4,397.5 364.3,397.4 364.5,397.3 364.7,397.2 364.9,396.9 365.2,396.6 365.4,396.3 365.6,396.4 365.8,396.8 366.0,397.1 366.2,397.3 366.5,397.4 367.8,397.4 370.8,397.4 373.9,397.4 376.5,397.3 377.6,397.3 378.3,397.2 379.0,397.0 379.4,396.9 379.6,396.8 379.8,396.7 380.1,396.6 380.3,396.4 380.5,396.1 380.7,395.8 380.9,395.2 381.1,394.2 381.4,392.0 381.6,387.2 381.8,378.2 382.0,365.8 382.2,357.1 382.5,361.5 382.7,372.8 382.9,381.0 383.1,383.5 383.3,382.6 383.6,383.1 383.8,386.6 384.0,390.4 384.2,392.7 384.4,393.3 384.7,392.0 384.9,389.0 385.1,385.0 385.3,383.3 385.5,386.2 385.7,390.4 386.0,393.6 386.2,395.3 386.4,396.1 386.6,396.4 386.8,396.7 387.1,396.8 387.3,396.9 387.7,397.0 388.2,397.1 389.3,397.2 390.3,397.1 390.6,396.9 390.8,396.6 391.0,395.9 391.2,394.7 391.4,393.0 391.7,392.1 391.9,393.0 392.1,394.6 392.3,395.9 392.5,396.7 392.8,397.0 393.0,397.1 393.4,397.3 394.1,397.4 396.3,397.4 399.3,397.5 402.4,397.5 405.5,397.5 408.5,397.5 411.2,397.4 411.4,397.3 411.6,397.2 411.8,396.9 412.0,396.4 412.3,395.9 412.5,395.9 412.7,396.3 412.9,396.8 413.1,397.2 413.4,397.3 413.8,397.4 416.9,397.5 419.9,397.5 423.0,397.5 426.1,397.5 429.1,397.5 432.2,397.5 435.3,397.5 438.3,397.5 441.4,397.5 444.5,397.5 447.5,397.5 448.4,397.3 448.6,397.2 448.9,397.0 449.1,396.5 449.3,396.0 449.5,395.8 449.7,396.2 449.9,396.7 450.2,397.1 450.4,397.3 450.6,397.4 451.5,397.5 454.5,397.5 457.6,397.5 460.7,397.5 463.8,397.5 466.8,397.5 469.9,397.5 473.0,397.5 476.0,397.5 479.1,397.5 482.2,397.5 485.2,397.5 488.3,397.5 491.4,397.5 494.4,397.5 497.5,397.5 500.6,397.5 501.4,397.3 501.7,397.2 501.9,397.0 502.1,396.5 502.3,396.0 502.5,395.8 502.8,396.2 503.0,396.7 503.2,397.1 503.4,397.3 503.6,397.4 504.5,397.5 507.6,397.5 510.6,397.5 513.7,397.5 516.8,397.5 519.8,397.5 520.9,397.3 521.2,397.2 521.4,396.9 521.6,396.4 521.8,395.9 522.0,395.9 522.3,396.3 522.5,396.8 522.7,397.1 522.9,397.3 523.3,397.4 526.4,397.4 526.9,397.4 527.1,397.3 527.3,397.0 527.5,396.6 527.7,396.1 527.9,395.8 528.2,396.1 528.4,396.6 528.6,397.0 528.8,397.2 529.0,397.4 529.7,397.4 532.8,397.5 535.8,397.5 538.9,397.5 540.0,397.5"/>
</g>
<g font-size="13" fill="#282828">
<text x="27.65" y="431.4" text-anchor="middle">10</text>
<text x="57.80" y="431.4" text-anchor="middle">15</text>
<text x="87.95" y="431.4" text-anchor="middle">20</text>
<text x="118.10" y="431.4" text-anchor="middle">25</text>
<text x="148.25" y="431.4" text-anchor="middle">30</text>
<text x="178.40" y="431.4" text-anchor="middle">35</text>
<text x="208.55" y="431.4" text-anchor="middle">40</text>
<text x="238.70" y="431.4" text-anchor="middle">45</text>
<text x="268.85" y="431.4" text-anchor="middle">50</text>
<text x="299.20" y="431.4" text-anchor="middle">10</text>
<text x="329.30" y="431.4" text-anchor="middle">15</text>
<text x="359.40" y="431.4" text-anchor="middle">20</text>
<text x="389.50" y="431.4" text-anchor="middle">25</text>
<text x="419.60" y="431.4" text-anchor="middle">30</text>
<text x="449.70" y="431.4" text-anchor="middle">35</text>
<text x="479.80" y="431.4" text-anchor="middle">40</text>
<text x="509.90" y="431.4" text-anchor="middle">45</text>
<text x="540.00" y="431.4" text-anchor="middle">50</text>
<text x="148.3" y="447.7" text-anchor="middle" textLength="64.4" lengthAdjust="spacingAndGlyphs">2θ (Cu Kα)</text>
<text x="419.6" y="447.7" text-anchor="middle" textLength="64.4" lengthAdjust="spacingAndGlyphs">2θ (Cu Kα)</text>
</g>
<g font-size="13.7" fill="#2c2c2c">
<text transform="translate(14.3,304.8) rotate(-90)" text-anchor="middle">Intensity (a.u.)</text>
<text transform="translate(285.5,304.6) rotate(-90)" text-anchor="middle">Intensity (a.u.)</text>
</g>
<text x="32.6" y="216.4" font-size="14.5" font-weight="bold" fill="#111">(d)</text>
<text x="304.9" y="216.4" font-size="14.5" font-weight="bold" fill="#111">(e)</text>
<g font-size="10.1" font-style="italic" stroke-width="0.25">
<text x="206.5" y="282.6" fill="#2e5f8c" stroke="#2e5f8c">SQI (Tanco)</text>
<text x="229.3" y="330.8" fill="#8e2a2e" stroke="#8e2a2e">kunzite</text>
<text x="204.5" y="389.7" fill="#5a7a3c" stroke="#5a7a3c">04-010-3996</text>
<text x="468.9" y="334.6" fill="#8e2a2e" stroke="#8e2a2e">petalite(Bikita)</text>
<text x="475.4" y="389.7" fill="#5a7a3c" stroke="#5a7a3c">01-083-6901</text>
</g>
<g font-size="9.8" fill="#333" text-anchor="middle">
<text x="94.4" y="257.5">q</text>
<text x="127.2" y="209.4">q</text>
<text x="399" y="331.3">q</text>
<text x="406.4" y="329.4">a</text>
</g>
<g stroke="#333" stroke-width="0.9" fill="none">
<path d="M94.4,261 V267 M92.1,263.6 L94.4,267.1 L96.7,263.6"/>
<path d="M127.4,212 V217.8 M125.1,214.4 L127.4,217.9 L129.7,214.4"/>
<path d="M399,334.4 V340.5 M396.7,337.2 L399,340.7 L401.3,337.2"/>
<path d="M406.4,331.4 V341 M404.1,337.8 L406.4,341.2 L408.7,337.8"/>
</g>
</svg>
</body></html>
